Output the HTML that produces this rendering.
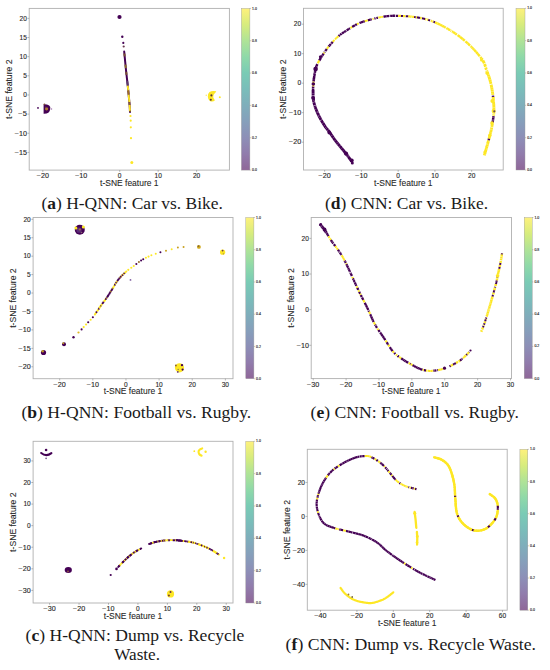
<!DOCTYPE html><html><head><meta charset="utf-8"><title>t-SNE</title><style>
html,body{margin:0;padding:0;background:#fff;width:550px;height:670px;overflow:hidden}
svg{display:block}
.tk{font-family:"Liberation Sans",sans-serif;font-size:6.3px;fill:#2a2a2a;stroke:#2a2a2a;stroke-width:0.12px}
.al{font-family:"Liberation Sans",sans-serif;font-size:8.3px;fill:#262626;stroke:#262626;stroke-width:0.08px}
.ct{font-family:"Liberation Sans",sans-serif;font-size:3.5px;fill:#222;stroke:#222;stroke-width:0.12px}
.cap{font-family:"Liberation Serif",serif;font-size:16.4px;fill:#1a1a1a}
</style></head><body><svg width="550" height="670" viewBox="0 0 550 670">
<defs><linearGradient id="vir" x1="0" y1="1" x2="0" y2="0"><stop offset="0.0" stop-color="#8f6798"/><stop offset="0.1" stop-color="#917cac"/><stop offset="0.2" stop-color="#8d8fb7"/><stop offset="0.3" stop-color="#869fbb"/><stop offset="0.4" stop-color="#7faebb"/><stop offset="0.5" stop-color="#7abdba"/><stop offset="0.6" stop-color="#7acbb5"/><stop offset="0.7" stop-color="#8fd9a9"/><stop offset="0.8" stop-color="#afe397"/><stop offset="0.9" stop-color="#d7ec7d"/><stop offset="1.0" stop-color="#fef17c"/></linearGradient></defs>
<rect width="550" height="670" fill="#fff"/>
<rect x="29.2" y="8.4" width="200.20" height="161.70" fill="none" stroke="#b0b0b0" stroke-width="0.9"/>
<line x1="42.82" y1="170.1" x2="42.82" y2="171.9" stroke="#777" stroke-width="0.5"/>
<text x="42.82" y="178.10" class="tk" text-anchor="middle" textLength="12.20" lengthAdjust="spacingAndGlyphs">−20</text>
<line x1="81.27" y1="170.1" x2="81.27" y2="171.9" stroke="#777" stroke-width="0.5"/>
<text x="81.27" y="178.10" class="tk" text-anchor="middle" textLength="12.20" lengthAdjust="spacingAndGlyphs">−10</text>
<line x1="119.72" y1="170.1" x2="119.72" y2="171.9" stroke="#777" stroke-width="0.5"/>
<text x="119.72" y="178.10" class="tk" text-anchor="middle" textLength="3.66" lengthAdjust="spacingAndGlyphs">0</text>
<line x1="158.17" y1="170.1" x2="158.17" y2="171.9" stroke="#777" stroke-width="0.5"/>
<text x="158.17" y="178.10" class="tk" text-anchor="middle" textLength="7.32" lengthAdjust="spacingAndGlyphs">10</text>
<line x1="196.62" y1="170.1" x2="196.62" y2="171.9" stroke="#777" stroke-width="0.5"/>
<text x="196.62" y="178.10" class="tk" text-anchor="middle" textLength="7.32" lengthAdjust="spacingAndGlyphs">20</text>
<line x1="27.4" y1="18.37" x2="29.2" y2="18.37" stroke="#777" stroke-width="0.5"/>
<text x="26.90" y="20.67" class="tk" text-anchor="end" textLength="7.32" lengthAdjust="spacingAndGlyphs">20</text>
<line x1="27.4" y1="37.52" x2="29.2" y2="37.52" stroke="#777" stroke-width="0.5"/>
<text x="26.90" y="39.82" class="tk" text-anchor="end" textLength="7.32" lengthAdjust="spacingAndGlyphs">15</text>
<line x1="27.4" y1="56.67" x2="29.2" y2="56.67" stroke="#777" stroke-width="0.5"/>
<text x="26.90" y="58.97" class="tk" text-anchor="end" textLength="7.32" lengthAdjust="spacingAndGlyphs">10</text>
<line x1="27.4" y1="75.81" x2="29.2" y2="75.81" stroke="#777" stroke-width="0.5"/>
<text x="26.90" y="78.11" class="tk" text-anchor="end" textLength="3.66" lengthAdjust="spacingAndGlyphs">5</text>
<line x1="27.4" y1="94.96" x2="29.2" y2="94.96" stroke="#777" stroke-width="0.5"/>
<text x="26.90" y="97.26" class="tk" text-anchor="end" textLength="3.66" lengthAdjust="spacingAndGlyphs">0</text>
<line x1="27.4" y1="114.11" x2="29.2" y2="114.11" stroke="#777" stroke-width="0.5"/>
<text x="26.90" y="116.41" class="tk" text-anchor="end" textLength="8.54" lengthAdjust="spacingAndGlyphs">−5</text>
<line x1="27.4" y1="133.25" x2="29.2" y2="133.25" stroke="#777" stroke-width="0.5"/>
<text x="26.90" y="135.55" class="tk" text-anchor="end" textLength="12.20" lengthAdjust="spacingAndGlyphs">−10</text>
<line x1="27.4" y1="152.40" x2="29.2" y2="152.40" stroke="#777" stroke-width="0.5"/>
<text x="26.90" y="154.70" class="tk" text-anchor="end" textLength="12.20" lengthAdjust="spacingAndGlyphs">−15</text>
<text x="129.30" y="185.60" class="al" text-anchor="middle" textLength="58.5" lengthAdjust="spacingAndGlyphs">t-SNE feature 1</text>
<text transform="translate(12.00,89.25) rotate(-90)" x="0" y="0" class="al" text-anchor="middle" textLength="59.5" lengthAdjust="spacingAndGlyphs">t-SNE feature 2</text>
<rect x="241.4" y="8.4" width="8.50" height="161.70" fill="url(#vir)" stroke="#999" stroke-width="0.4"/>
<line x1="249.9" y1="170.10" x2="251.1" y2="170.10" stroke="#555" stroke-width="0.3"/>
<text x="252.10" y="171.20" class="ct">0.0</text>
<line x1="249.9" y1="137.76" x2="251.1" y2="137.76" stroke="#555" stroke-width="0.3"/>
<text x="252.10" y="138.86" class="ct">0.2</text>
<line x1="249.9" y1="105.42" x2="251.1" y2="105.42" stroke="#555" stroke-width="0.3"/>
<text x="252.10" y="106.52" class="ct">0.4</text>
<line x1="249.9" y1="73.08" x2="251.1" y2="73.08" stroke="#555" stroke-width="0.3"/>
<text x="252.10" y="74.18" class="ct">0.6</text>
<line x1="249.9" y1="40.74" x2="251.1" y2="40.74" stroke="#555" stroke-width="0.3"/>
<text x="252.10" y="41.84" class="ct">0.8</text>
<line x1="249.9" y1="8.40" x2="251.1" y2="8.40" stroke="#555" stroke-width="0.3"/>
<text x="252.10" y="9.50" class="ct">1.0</text>
<rect x="303.5" y="8.3" width="199.70" height="161.70" fill="none" stroke="#b0b0b0" stroke-width="0.9"/>
<line x1="324.66" y1="170.0" x2="324.66" y2="171.8" stroke="#777" stroke-width="0.5"/>
<text x="324.66" y="178.00" class="tk" text-anchor="middle" textLength="12.20" lengthAdjust="spacingAndGlyphs">−20</text>
<line x1="361.42" y1="170.0" x2="361.42" y2="171.8" stroke="#777" stroke-width="0.5"/>
<text x="361.42" y="178.00" class="tk" text-anchor="middle" textLength="12.20" lengthAdjust="spacingAndGlyphs">−10</text>
<line x1="398.18" y1="170.0" x2="398.18" y2="171.8" stroke="#777" stroke-width="0.5"/>
<text x="398.18" y="178.00" class="tk" text-anchor="middle" textLength="3.66" lengthAdjust="spacingAndGlyphs">0</text>
<line x1="434.94" y1="170.0" x2="434.94" y2="171.8" stroke="#777" stroke-width="0.5"/>
<text x="434.94" y="178.00" class="tk" text-anchor="middle" textLength="7.32" lengthAdjust="spacingAndGlyphs">10</text>
<line x1="471.70" y1="170.0" x2="471.70" y2="171.8" stroke="#777" stroke-width="0.5"/>
<text x="471.70" y="178.00" class="tk" text-anchor="middle" textLength="7.32" lengthAdjust="spacingAndGlyphs">20</text>
<line x1="301.7" y1="24.18" x2="303.5" y2="24.18" stroke="#777" stroke-width="0.5"/>
<text x="301.20" y="26.48" class="tk" text-anchor="end" textLength="7.32" lengthAdjust="spacingAndGlyphs">20</text>
<line x1="301.7" y1="53.68" x2="303.5" y2="53.68" stroke="#777" stroke-width="0.5"/>
<text x="301.20" y="55.98" class="tk" text-anchor="end" textLength="7.32" lengthAdjust="spacingAndGlyphs">10</text>
<line x1="301.7" y1="83.18" x2="303.5" y2="83.18" stroke="#777" stroke-width="0.5"/>
<text x="301.20" y="85.48" class="tk" text-anchor="end" textLength="3.66" lengthAdjust="spacingAndGlyphs">0</text>
<line x1="301.7" y1="112.68" x2="303.5" y2="112.68" stroke="#777" stroke-width="0.5"/>
<text x="301.20" y="114.98" class="tk" text-anchor="end" textLength="12.20" lengthAdjust="spacingAndGlyphs">−10</text>
<line x1="301.7" y1="142.18" x2="303.5" y2="142.18" stroke="#777" stroke-width="0.5"/>
<text x="301.20" y="144.48" class="tk" text-anchor="end" textLength="12.20" lengthAdjust="spacingAndGlyphs">−20</text>
<text x="403.35" y="185.50" class="al" text-anchor="middle" textLength="58.5" lengthAdjust="spacingAndGlyphs">t-SNE feature 1</text>
<text transform="translate(286.30,89.15) rotate(-90)" x="0" y="0" class="al" text-anchor="middle" textLength="59.5" lengthAdjust="spacingAndGlyphs">t-SNE feature 2</text>
<rect x="516.0" y="8.3" width="9.00" height="161.70" fill="url(#vir)" stroke="#999" stroke-width="0.4"/>
<line x1="525.0" y1="170.00" x2="526.2" y2="170.00" stroke="#555" stroke-width="0.3"/>
<text x="527.20" y="171.10" class="ct">0.0</text>
<line x1="525.0" y1="137.66" x2="526.2" y2="137.66" stroke="#555" stroke-width="0.3"/>
<text x="527.20" y="138.76" class="ct">0.2</text>
<line x1="525.0" y1="105.32" x2="526.2" y2="105.32" stroke="#555" stroke-width="0.3"/>
<text x="527.20" y="106.42" class="ct">0.4</text>
<line x1="525.0" y1="72.98" x2="526.2" y2="72.98" stroke="#555" stroke-width="0.3"/>
<text x="527.20" y="74.08" class="ct">0.6</text>
<line x1="525.0" y1="40.64" x2="526.2" y2="40.64" stroke="#555" stroke-width="0.3"/>
<text x="527.20" y="41.74" class="ct">0.8</text>
<line x1="525.0" y1="8.30" x2="526.2" y2="8.30" stroke="#555" stroke-width="0.3"/>
<text x="527.20" y="9.40" class="ct">1.0</text>
<rect x="33.1" y="217.5" width="199.90" height="161.20" fill="none" stroke="#b0b0b0" stroke-width="0.9"/>
<line x1="59.70" y1="378.7" x2="59.70" y2="380.5" stroke="#777" stroke-width="0.5"/>
<text x="59.70" y="386.70" class="tk" text-anchor="middle" textLength="12.20" lengthAdjust="spacingAndGlyphs">−20</text>
<line x1="92.84" y1="378.7" x2="92.84" y2="380.5" stroke="#777" stroke-width="0.5"/>
<text x="92.84" y="386.70" class="tk" text-anchor="middle" textLength="12.20" lengthAdjust="spacingAndGlyphs">−10</text>
<line x1="125.97" y1="378.7" x2="125.97" y2="380.5" stroke="#777" stroke-width="0.5"/>
<text x="125.97" y="386.70" class="tk" text-anchor="middle" textLength="3.66" lengthAdjust="spacingAndGlyphs">0</text>
<line x1="159.10" y1="378.7" x2="159.10" y2="380.5" stroke="#777" stroke-width="0.5"/>
<text x="159.10" y="386.70" class="tk" text-anchor="middle" textLength="7.32" lengthAdjust="spacingAndGlyphs">10</text>
<line x1="192.23" y1="378.7" x2="192.23" y2="380.5" stroke="#777" stroke-width="0.5"/>
<text x="192.23" y="386.70" class="tk" text-anchor="middle" textLength="7.32" lengthAdjust="spacingAndGlyphs">20</text>
<line x1="225.36" y1="378.7" x2="225.36" y2="380.5" stroke="#777" stroke-width="0.5"/>
<text x="225.36" y="386.70" class="tk" text-anchor="middle" textLength="7.32" lengthAdjust="spacingAndGlyphs">30</text>
<line x1="31.3" y1="219.30" x2="33.1" y2="219.30" stroke="#777" stroke-width="0.5"/>
<text x="30.80" y="221.60" class="tk" text-anchor="end" textLength="7.32" lengthAdjust="spacingAndGlyphs">20</text>
<line x1="31.3" y1="237.74" x2="33.1" y2="237.74" stroke="#777" stroke-width="0.5"/>
<text x="30.80" y="240.04" class="tk" text-anchor="end" textLength="7.32" lengthAdjust="spacingAndGlyphs">15</text>
<line x1="31.3" y1="256.17" x2="33.1" y2="256.17" stroke="#777" stroke-width="0.5"/>
<text x="30.80" y="258.47" class="tk" text-anchor="end" textLength="7.32" lengthAdjust="spacingAndGlyphs">10</text>
<line x1="31.3" y1="274.61" x2="33.1" y2="274.61" stroke="#777" stroke-width="0.5"/>
<text x="30.80" y="276.91" class="tk" text-anchor="end" textLength="3.66" lengthAdjust="spacingAndGlyphs">5</text>
<line x1="31.3" y1="293.04" x2="33.1" y2="293.04" stroke="#777" stroke-width="0.5"/>
<text x="30.80" y="295.34" class="tk" text-anchor="end" textLength="3.66" lengthAdjust="spacingAndGlyphs">0</text>
<line x1="31.3" y1="311.48" x2="33.1" y2="311.48" stroke="#777" stroke-width="0.5"/>
<text x="30.80" y="313.78" class="tk" text-anchor="end" textLength="8.54" lengthAdjust="spacingAndGlyphs">−5</text>
<line x1="31.3" y1="329.91" x2="33.1" y2="329.91" stroke="#777" stroke-width="0.5"/>
<text x="30.80" y="332.21" class="tk" text-anchor="end" textLength="12.20" lengthAdjust="spacingAndGlyphs">−10</text>
<line x1="31.3" y1="348.35" x2="33.1" y2="348.35" stroke="#777" stroke-width="0.5"/>
<text x="30.80" y="350.65" class="tk" text-anchor="end" textLength="12.20" lengthAdjust="spacingAndGlyphs">−15</text>
<line x1="31.3" y1="366.78" x2="33.1" y2="366.78" stroke="#777" stroke-width="0.5"/>
<text x="30.80" y="369.08" class="tk" text-anchor="end" textLength="12.20" lengthAdjust="spacingAndGlyphs">−20</text>
<text x="133.05" y="394.20" class="al" text-anchor="middle" textLength="58.5" lengthAdjust="spacingAndGlyphs">t-SNE feature 1</text>
<text transform="translate(15.90,298.10) rotate(-90)" x="0" y="0" class="al" text-anchor="middle" textLength="59.5" lengthAdjust="spacingAndGlyphs">t-SNE feature 2</text>
<rect x="245.8" y="217.5" width="8.10" height="161.20" fill="url(#vir)" stroke="#999" stroke-width="0.4"/>
<line x1="253.9" y1="378.70" x2="255.1" y2="378.70" stroke="#555" stroke-width="0.3"/>
<text x="256.10" y="379.80" class="ct">0.0</text>
<line x1="253.9" y1="346.46" x2="255.1" y2="346.46" stroke="#555" stroke-width="0.3"/>
<text x="256.10" y="347.56" class="ct">0.2</text>
<line x1="253.9" y1="314.22" x2="255.1" y2="314.22" stroke="#555" stroke-width="0.3"/>
<text x="256.10" y="315.32" class="ct">0.4</text>
<line x1="253.9" y1="281.98" x2="255.1" y2="281.98" stroke="#555" stroke-width="0.3"/>
<text x="256.10" y="283.08" class="ct">0.6</text>
<line x1="253.9" y1="249.74" x2="255.1" y2="249.74" stroke="#555" stroke-width="0.3"/>
<text x="256.10" y="250.84" class="ct">0.8</text>
<line x1="253.9" y1="217.50" x2="255.1" y2="217.50" stroke="#555" stroke-width="0.3"/>
<text x="256.10" y="218.60" class="ct">1.0</text>
<rect x="311.2" y="217.5" width="200.30" height="161.10" fill="none" stroke="#b0b0b0" stroke-width="0.9"/>
<line x1="313.23" y1="378.6" x2="313.23" y2="380.40000000000003" stroke="#777" stroke-width="0.5"/>
<text x="313.23" y="386.60" class="tk" text-anchor="middle" textLength="12.20" lengthAdjust="spacingAndGlyphs">−30</text>
<line x1="346.11" y1="378.6" x2="346.11" y2="380.40000000000003" stroke="#777" stroke-width="0.5"/>
<text x="346.11" y="386.60" class="tk" text-anchor="middle" textLength="12.20" lengthAdjust="spacingAndGlyphs">−20</text>
<line x1="378.99" y1="378.6" x2="378.99" y2="380.40000000000003" stroke="#777" stroke-width="0.5"/>
<text x="378.99" y="386.60" class="tk" text-anchor="middle" textLength="12.20" lengthAdjust="spacingAndGlyphs">−10</text>
<line x1="411.87" y1="378.6" x2="411.87" y2="380.40000000000003" stroke="#777" stroke-width="0.5"/>
<text x="411.87" y="386.60" class="tk" text-anchor="middle" textLength="3.66" lengthAdjust="spacingAndGlyphs">0</text>
<line x1="444.75" y1="378.6" x2="444.75" y2="380.40000000000003" stroke="#777" stroke-width="0.5"/>
<text x="444.75" y="386.60" class="tk" text-anchor="middle" textLength="7.32" lengthAdjust="spacingAndGlyphs">10</text>
<line x1="477.64" y1="378.6" x2="477.64" y2="380.40000000000003" stroke="#777" stroke-width="0.5"/>
<text x="477.64" y="386.60" class="tk" text-anchor="middle" textLength="7.32" lengthAdjust="spacingAndGlyphs">20</text>
<line x1="510.52" y1="378.6" x2="510.52" y2="380.40000000000003" stroke="#777" stroke-width="0.5"/>
<text x="510.52" y="386.60" class="tk" text-anchor="middle" textLength="7.32" lengthAdjust="spacingAndGlyphs">30</text>
<line x1="309.4" y1="238.39" x2="311.2" y2="238.39" stroke="#777" stroke-width="0.5"/>
<text x="308.90" y="240.69" class="tk" text-anchor="end" textLength="7.32" lengthAdjust="spacingAndGlyphs">20</text>
<line x1="309.4" y1="274.03" x2="311.2" y2="274.03" stroke="#777" stroke-width="0.5"/>
<text x="308.90" y="276.33" class="tk" text-anchor="end" textLength="7.32" lengthAdjust="spacingAndGlyphs">10</text>
<line x1="309.4" y1="309.67" x2="311.2" y2="309.67" stroke="#777" stroke-width="0.5"/>
<text x="308.90" y="311.97" class="tk" text-anchor="end" textLength="3.66" lengthAdjust="spacingAndGlyphs">0</text>
<line x1="309.4" y1="345.31" x2="311.2" y2="345.31" stroke="#777" stroke-width="0.5"/>
<text x="308.90" y="347.61" class="tk" text-anchor="end" textLength="12.20" lengthAdjust="spacingAndGlyphs">−10</text>
<text x="411.35" y="394.10" class="al" text-anchor="middle" textLength="58.5" lengthAdjust="spacingAndGlyphs">t-SNE feature 1</text>
<text transform="translate(294.00,298.05) rotate(-90)" x="0" y="0" class="al" text-anchor="middle" textLength="59.5" lengthAdjust="spacingAndGlyphs">t-SNE feature 2</text>
<rect x="524.2" y="217.5" width="8.00" height="161.10" fill="url(#vir)" stroke="#999" stroke-width="0.4"/>
<line x1="532.2" y1="378.60" x2="533.4000000000001" y2="378.60" stroke="#555" stroke-width="0.3"/>
<text x="534.40" y="379.70" class="ct">0.0</text>
<line x1="532.2" y1="346.38" x2="533.4000000000001" y2="346.38" stroke="#555" stroke-width="0.3"/>
<text x="534.40" y="347.48" class="ct">0.2</text>
<line x1="532.2" y1="314.16" x2="533.4000000000001" y2="314.16" stroke="#555" stroke-width="0.3"/>
<text x="534.40" y="315.26" class="ct">0.4</text>
<line x1="532.2" y1="281.94" x2="533.4000000000001" y2="281.94" stroke="#555" stroke-width="0.3"/>
<text x="534.40" y="283.04" class="ct">0.6</text>
<line x1="532.2" y1="249.72" x2="533.4000000000001" y2="249.72" stroke="#555" stroke-width="0.3"/>
<text x="534.40" y="250.82" class="ct">0.8</text>
<line x1="532.2" y1="217.50" x2="533.4000000000001" y2="217.50" stroke="#555" stroke-width="0.3"/>
<text x="534.40" y="218.60" class="ct">1.0</text>
<rect x="33.1" y="441.3" width="199.90" height="161.70" fill="none" stroke="#b0b0b0" stroke-width="0.9"/>
<line x1="49.62" y1="603.0" x2="49.62" y2="604.8" stroke="#777" stroke-width="0.5"/>
<text x="49.62" y="611.00" class="tk" text-anchor="middle" textLength="12.20" lengthAdjust="spacingAndGlyphs">−30</text>
<line x1="79.06" y1="603.0" x2="79.06" y2="604.8" stroke="#777" stroke-width="0.5"/>
<text x="79.06" y="611.00" class="tk" text-anchor="middle" textLength="12.20" lengthAdjust="spacingAndGlyphs">−20</text>
<line x1="108.49" y1="603.0" x2="108.49" y2="604.8" stroke="#777" stroke-width="0.5"/>
<text x="108.49" y="611.00" class="tk" text-anchor="middle" textLength="12.20" lengthAdjust="spacingAndGlyphs">−10</text>
<line x1="137.93" y1="603.0" x2="137.93" y2="604.8" stroke="#777" stroke-width="0.5"/>
<text x="137.93" y="611.00" class="tk" text-anchor="middle" textLength="3.66" lengthAdjust="spacingAndGlyphs">0</text>
<line x1="167.36" y1="603.0" x2="167.36" y2="604.8" stroke="#777" stroke-width="0.5"/>
<text x="167.36" y="611.00" class="tk" text-anchor="middle" textLength="7.32" lengthAdjust="spacingAndGlyphs">10</text>
<line x1="196.80" y1="603.0" x2="196.80" y2="604.8" stroke="#777" stroke-width="0.5"/>
<text x="196.80" y="611.00" class="tk" text-anchor="middle" textLength="7.32" lengthAdjust="spacingAndGlyphs">20</text>
<line x1="226.24" y1="603.0" x2="226.24" y2="604.8" stroke="#777" stroke-width="0.5"/>
<text x="226.24" y="611.00" class="tk" text-anchor="middle" textLength="7.32" lengthAdjust="spacingAndGlyphs">30</text>
<line x1="31.3" y1="460.93" x2="33.1" y2="460.93" stroke="#777" stroke-width="0.5"/>
<text x="30.80" y="463.23" class="tk" text-anchor="end" textLength="7.32" lengthAdjust="spacingAndGlyphs">30</text>
<line x1="31.3" y1="482.51" x2="33.1" y2="482.51" stroke="#777" stroke-width="0.5"/>
<text x="30.80" y="484.81" class="tk" text-anchor="end" textLength="7.32" lengthAdjust="spacingAndGlyphs">20</text>
<line x1="31.3" y1="504.08" x2="33.1" y2="504.08" stroke="#777" stroke-width="0.5"/>
<text x="30.80" y="506.38" class="tk" text-anchor="end" textLength="7.32" lengthAdjust="spacingAndGlyphs">10</text>
<line x1="31.3" y1="525.66" x2="33.1" y2="525.66" stroke="#777" stroke-width="0.5"/>
<text x="30.80" y="527.96" class="tk" text-anchor="end" textLength="3.66" lengthAdjust="spacingAndGlyphs">0</text>
<line x1="31.3" y1="547.23" x2="33.1" y2="547.23" stroke="#777" stroke-width="0.5"/>
<text x="30.80" y="549.53" class="tk" text-anchor="end" textLength="12.20" lengthAdjust="spacingAndGlyphs">−10</text>
<line x1="31.3" y1="568.81" x2="33.1" y2="568.81" stroke="#777" stroke-width="0.5"/>
<text x="30.80" y="571.11" class="tk" text-anchor="end" textLength="12.20" lengthAdjust="spacingAndGlyphs">−20</text>
<line x1="31.3" y1="590.38" x2="33.1" y2="590.38" stroke="#777" stroke-width="0.5"/>
<text x="30.80" y="592.68" class="tk" text-anchor="end" textLength="12.20" lengthAdjust="spacingAndGlyphs">−30</text>
<text x="133.05" y="618.50" class="al" text-anchor="middle" textLength="58.5" lengthAdjust="spacingAndGlyphs">t-SNE feature 1</text>
<text transform="translate(15.90,522.15) rotate(-90)" x="0" y="0" class="al" text-anchor="middle" textLength="59.5" lengthAdjust="spacingAndGlyphs">t-SNE feature 2</text>
<rect x="245.8" y="441.3" width="8.10" height="161.70" fill="url(#vir)" stroke="#999" stroke-width="0.4"/>
<line x1="253.9" y1="603.00" x2="255.1" y2="603.00" stroke="#555" stroke-width="0.3"/>
<text x="256.10" y="604.10" class="ct">0.0</text>
<line x1="253.9" y1="570.66" x2="255.1" y2="570.66" stroke="#555" stroke-width="0.3"/>
<text x="256.10" y="571.76" class="ct">0.2</text>
<line x1="253.9" y1="538.32" x2="255.1" y2="538.32" stroke="#555" stroke-width="0.3"/>
<text x="256.10" y="539.42" class="ct">0.4</text>
<line x1="253.9" y1="505.98" x2="255.1" y2="505.98" stroke="#555" stroke-width="0.3"/>
<text x="256.10" y="507.08" class="ct">0.6</text>
<line x1="253.9" y1="473.64" x2="255.1" y2="473.64" stroke="#555" stroke-width="0.3"/>
<text x="256.10" y="474.74" class="ct">0.8</text>
<line x1="253.9" y1="441.30" x2="255.1" y2="441.30" stroke="#555" stroke-width="0.3"/>
<text x="256.10" y="442.40" class="ct">1.0</text>
<rect x="307.3" y="449.3" width="199.90" height="160.90" fill="none" stroke="#b0b0b0" stroke-width="0.9"/>
<line x1="320.53" y1="610.2" x2="320.53" y2="612.0" stroke="#777" stroke-width="0.5"/>
<text x="320.53" y="618.20" class="tk" text-anchor="middle" textLength="12.20" lengthAdjust="spacingAndGlyphs">−40</text>
<line x1="356.92" y1="610.2" x2="356.92" y2="612.0" stroke="#777" stroke-width="0.5"/>
<text x="356.92" y="618.20" class="tk" text-anchor="middle" textLength="12.20" lengthAdjust="spacingAndGlyphs">−20</text>
<line x1="393.31" y1="610.2" x2="393.31" y2="612.0" stroke="#777" stroke-width="0.5"/>
<text x="393.31" y="618.20" class="tk" text-anchor="middle" textLength="3.66" lengthAdjust="spacingAndGlyphs">0</text>
<line x1="429.69" y1="610.2" x2="429.69" y2="612.0" stroke="#777" stroke-width="0.5"/>
<text x="429.69" y="618.20" class="tk" text-anchor="middle" textLength="7.32" lengthAdjust="spacingAndGlyphs">20</text>
<line x1="466.08" y1="610.2" x2="466.08" y2="612.0" stroke="#777" stroke-width="0.5"/>
<text x="466.08" y="618.20" class="tk" text-anchor="middle" textLength="7.32" lengthAdjust="spacingAndGlyphs">40</text>
<line x1="502.47" y1="610.2" x2="502.47" y2="612.0" stroke="#777" stroke-width="0.5"/>
<text x="502.47" y="618.20" class="tk" text-anchor="middle" textLength="7.32" lengthAdjust="spacingAndGlyphs">60</text>
<line x1="305.5" y1="482.46" x2="307.3" y2="482.46" stroke="#777" stroke-width="0.5"/>
<text x="305.00" y="484.76" class="tk" text-anchor="end" textLength="7.32" lengthAdjust="spacingAndGlyphs">20</text>
<line x1="305.5" y1="516.42" x2="307.3" y2="516.42" stroke="#777" stroke-width="0.5"/>
<text x="305.00" y="518.72" class="tk" text-anchor="end" textLength="3.66" lengthAdjust="spacingAndGlyphs">0</text>
<line x1="305.5" y1="550.38" x2="307.3" y2="550.38" stroke="#777" stroke-width="0.5"/>
<text x="305.00" y="552.68" class="tk" text-anchor="end" textLength="12.20" lengthAdjust="spacingAndGlyphs">−20</text>
<line x1="305.5" y1="584.34" x2="307.3" y2="584.34" stroke="#777" stroke-width="0.5"/>
<text x="305.00" y="586.64" class="tk" text-anchor="end" textLength="12.20" lengthAdjust="spacingAndGlyphs">−40</text>
<text x="407.25" y="625.70" class="al" text-anchor="middle" textLength="58.5" lengthAdjust="spacingAndGlyphs">t-SNE feature 1</text>
<text transform="translate(290.10,529.75) rotate(-90)" x="0" y="0" class="al" text-anchor="middle" textLength="59.5" lengthAdjust="spacingAndGlyphs">t-SNE feature 2</text>
<rect x="519.9" y="449.3" width="7.90" height="160.90" fill="url(#vir)" stroke="#999" stroke-width="0.4"/>
<line x1="527.8" y1="610.20" x2="529.0" y2="610.20" stroke="#555" stroke-width="0.3"/>
<text x="530.00" y="611.30" class="ct">0.0</text>
<line x1="527.8" y1="578.02" x2="529.0" y2="578.02" stroke="#555" stroke-width="0.3"/>
<text x="530.00" y="579.12" class="ct">0.2</text>
<line x1="527.8" y1="545.84" x2="529.0" y2="545.84" stroke="#555" stroke-width="0.3"/>
<text x="530.00" y="546.94" class="ct">0.4</text>
<line x1="527.8" y1="513.66" x2="529.0" y2="513.66" stroke="#555" stroke-width="0.3"/>
<text x="530.00" y="514.76" class="ct">0.6</text>
<line x1="527.8" y1="481.48" x2="529.0" y2="481.48" stroke="#555" stroke-width="0.3"/>
<text x="530.00" y="482.58" class="ct">0.8</text>
<line x1="527.8" y1="449.30" x2="529.0" y2="449.30" stroke="#555" stroke-width="0.3"/>
<text x="530.00" y="450.40" class="ct">1.0</text>
<circle cx="119.50" cy="17.00" r="2.10" fill="#440154"/>
<circle cx="122.30" cy="36.80" r="1.20" fill="#440154"/>
<circle cx="123.30" cy="42.90" r="1.10" fill="#440154"/>
<circle cx="123.70" cy="46.50" r="1.10" fill="#6a3a50"/>
<path d="M124.20,51.50 L124.23,51.83 L124.27,52.20 L124.31,52.60 L124.35,53.04 L124.39,53.52 L124.44,54.02 L124.49,54.56 L124.55,55.12 L124.60,55.71 L124.66,56.31 L124.72,56.94 L124.78,57.59 L124.84,58.26 L124.91,58.93 L124.98,59.62 L125.04,60.33 L125.11,61.03 L125.18,61.75 L125.25,62.47 L125.32,63.19 L125.39,63.90 L125.46,64.62 L125.53,65.33 L125.60,66.04 L125.67,66.73 L125.74,67.42 L125.80,68.09 L125.87,68.74 L125.94,69.38 L126.00,70.00 L126.06,70.61 L126.13,71.22 L126.19,71.82 L126.26,72.43 L126.33,73.04 L126.39,73.65 L126.46,74.26 L126.53,74.86 L126.60,75.47 L126.67,76.07 L126.74,76.68 L126.80,77.28 L126.87,77.89 L126.94,78.49 L127.01,79.09 L127.08,79.70 L127.15,80.30 L127.22,80.90 L127.29,81.49 L127.36,82.09 L127.42,82.69 L127.49,83.28 L127.56,83.88 L127.62,84.47 L127.69,85.06 L127.75,85.65 L127.82,86.24 L127.88,86.83 L127.94,87.42 L128.00,88.00 L128.06,88.63 L128.13,89.27 L128.19,89.92 L128.26,90.57 L128.33,91.23 L128.39,91.89 L128.46,92.55 L128.52,93.22 L128.59,93.89 L128.65,94.56 L128.71,95.22 L128.78,95.88 L128.84,96.54 L128.90,97.19 L128.96,97.83 L129.02,98.47 L129.08,99.09 L129.13,99.71 L129.19,100.31 L129.24,100.90 L129.29,101.48 L129.34,102.04 L129.39,102.58 L129.44,103.10 L129.48,103.61 L129.52,104.10 L129.56,104.56 L129.60,105.00 L129.68,106.04 L129.75,106.98 L129.81,107.82 L129.85,108.58 L129.89,109.25 L129.91,109.85 L129.93,110.39 L129.95,110.87 L129.97,111.29 L129.98,111.66 L130.00,112.00" fill="none" stroke="#440154" stroke-width="2.0" stroke-linecap="round"/>
<path d="M124.39,53.52 L124.44,54.02 L124.49,54.56 L124.55,55.12 L124.60,55.71 L124.66,56.31" fill="none" stroke="#7a5030" stroke-width="1.9" stroke-linecap="butt"/>
<path d="M125.46,64.62 L125.53,65.33 L125.60,66.04 L125.67,66.73 L125.74,67.42 L125.80,68.09" fill="none" stroke="#8a6a2a" stroke-width="1.9" stroke-linecap="butt"/>
<path d="M126.19,71.82 L126.26,72.43 L126.33,73.04 L126.39,73.65 L126.46,74.26 L126.53,74.86" fill="none" stroke="#7a5030" stroke-width="1.9" stroke-linecap="butt"/>
<path d="M127.22,80.90 L127.29,81.49 L127.36,82.09 L127.42,82.69 L127.49,83.28 L127.56,83.88 L127.62,84.47 L127.69,85.06 L127.75,85.65" fill="none" stroke="#5a3a6a" stroke-width="1.9" stroke-linecap="butt"/>
<path d="M127.75,85.65 L127.82,86.24 L127.88,86.83 L127.94,87.42 L128.00,88.00 L128.06,88.63 L128.13,89.27 L128.19,89.92 L128.26,90.57" fill="none" stroke="#fde725" stroke-width="1.9" stroke-linecap="butt"/>
<path d="M128.26,90.57 L128.33,91.23 L128.39,91.89 L128.46,92.55 L128.52,93.22 L128.59,93.89 L128.65,94.56" fill="none" stroke="#a07020" stroke-width="1.9" stroke-linecap="butt"/>
<path d="M128.65,94.56 L128.71,95.22 L128.78,95.88 L128.84,96.54 L128.90,97.19 L128.96,97.83 L129.02,98.47 L129.08,99.09 L129.13,99.71 L129.19,100.31 L129.24,100.90 L129.29,101.48 L129.34,102.04" fill="none" stroke="#fde725" stroke-width="1.9" stroke-linecap="butt"/>
<path d="M129.34,102.04 L129.39,102.58 L129.44,103.10 L129.48,103.61 L129.52,104.10 L129.56,104.56 L129.60,105.00" fill="none" stroke="#8a6030" stroke-width="1.9" stroke-linecap="butt"/>
<path d="M129.60,105.00 L129.68,106.04 L129.75,106.98 L129.81,107.82 L129.85,108.58 L129.89,109.25 L129.91,109.85 L129.93,110.39 L129.95,110.87" fill="none" stroke="#fde725" stroke-width="1.9" stroke-linecap="butt"/>
<path d="M129.95,110.87 L129.97,111.29 L129.98,111.66 L130.00,112.00" fill="none" stroke="#7a5030" stroke-width="1.9" stroke-linecap="butt"/>
<circle cx="130.50" cy="116.00" r="1.10" fill="#fde725"/>
<circle cx="130.70" cy="120.70" r="1.10" fill="#fde725"/>
<circle cx="130.80" cy="127.30" r="1.10" fill="#fde725"/>
<circle cx="131.00" cy="138.20" r="1.10" fill="#fde725"/>
<circle cx="131.80" cy="162.50" r="1.50" fill="#fde725"/>
<circle cx="38.00" cy="107.90" r="0.90" fill="#440154"/>
<path d="M43.6,104.2 Q51.5,104.2 50.2,109.3 Q49.5,114 43.6,113.8 Z" fill="#440154"/>
<circle cx="46.60" cy="108.80" r="1.60" fill="#b07a30"/>
<circle cx="45.80" cy="107.20" r="0.80" fill="#6a3a50"/>
<circle cx="51.50" cy="109.00" r="0.75" fill="#a070b0"/>
<circle cx="44.50" cy="104.30" r="0.90" fill="#7a4a3a"/>
<path d="M216.3,91.3 Q212,90.6 209.5,91.9 Q207.6,93.5 207.8,96.8 Q208.3,100.6 210.8,101.4 Q213.5,101.8 214.8,100.6 Q214.3,98.8 213.4,98.0 Q213.0,95.8 213.9,94.2 Q215.6,93.0 216.3,91.3 Z" fill="#fde725"/>
<circle cx="206.30" cy="95.20" r="0.80" fill="#fde870"/>
<circle cx="211.40" cy="95.40" r="1.05" fill="#5a3a3a"/>
<circle cx="210.80" cy="99.70" r="1.05" fill="#5a3a3a"/>
<circle cx="219.80" cy="97.30" r="1.00" fill="#fde725"/>
<path d="M351.70,161.50 L351.47,161.17 L351.24,160.85 L351.01,160.52" fill="none" stroke="#440154" stroke-width="2.88" stroke-linecap="butt" stroke-linejoin="round"/>
<path d="M351.01,160.52 L350.78,160.19 L350.56,159.86 L350.33,159.53" fill="none" stroke="#440154" stroke-width="2.88" stroke-linecap="butt" stroke-linejoin="round"/>
<path d="M350.33,159.53 L350.10,159.20 L349.87,158.87 L349.64,158.55 L349.41,158.22 L349.18,157.89 L348.95,157.57 L348.72,157.24 L348.48,156.92" fill="none" stroke="#440154" stroke-width="2.88" stroke-linecap="butt" stroke-linejoin="round"/>
<path d="M348.48,156.92 L348.25,156.59 L348.01,156.27 L347.78,155.95" fill="none" stroke="#440154" stroke-width="2.88" stroke-linecap="butt" stroke-linejoin="round"/>
<path d="M347.78,155.95 L347.54,155.62 L347.30,155.30 L347.06,154.98" fill="none" stroke="#440154" stroke-width="2.88" stroke-linecap="butt" stroke-linejoin="round"/>
<path d="M347.06,154.98 L346.82,154.66 L346.58,154.35 L346.33,154.03 L346.09,153.71 L345.84,153.40 L345.59,153.08 L345.34,152.77 L345.09,152.46" fill="none" stroke="#440154" stroke-width="2.88" stroke-linecap="butt" stroke-linejoin="round"/>
<path d="M345.09,152.46 L344.84,152.15 L344.59,151.84 L344.34,151.53 L344.08,151.22 L343.83,150.91 L343.58,150.60 L343.32,150.29" fill="none" stroke="#440154" stroke-width="2.88" stroke-linecap="butt" stroke-linejoin="round"/>
<path d="M343.32,150.29 L343.07,149.98 L342.81,149.67 L342.56,149.37 L342.30,149.06 L342.05,148.75 L341.79,148.44" fill="none" stroke="#440154" stroke-width="2.88" stroke-linecap="butt" stroke-linejoin="round"/>
<path d="M341.79,148.44 L341.53,148.14 L341.28,147.83 L341.02,147.52 L340.77,147.21 L340.51,146.91 L340.25,146.60 L340.00,146.29 L339.74,145.98" fill="none" stroke="#440154" stroke-width="2.88" stroke-linecap="butt" stroke-linejoin="round"/>
<path d="M339.74,145.98 L339.49,145.68 L339.23,145.37 L338.98,145.06 L338.72,144.75 L338.47,144.44 L338.21,144.14" fill="none" stroke="#440154" stroke-width="2.88" stroke-linecap="butt" stroke-linejoin="round"/>
<path d="M338.21,144.14 L337.96,143.83 L337.71,143.52 L337.45,143.21 L337.20,142.90 L336.95,142.59" fill="none" stroke="#440154" stroke-width="2.88" stroke-linecap="butt" stroke-linejoin="round"/>
<path d="M336.95,142.59 L336.70,142.27 L336.45,141.96 L336.20,141.65 L335.95,141.34 L335.70,141.02 L335.46,140.70 L335.21,140.39" fill="none" stroke="#440154" stroke-width="2.88" stroke-linecap="butt" stroke-linejoin="round"/>
<path d="M335.21,140.39 L334.97,140.07 L334.73,139.75 L334.49,139.43 L334.26,139.10 L334.03,138.78 L333.79,138.45 L333.56,138.13 L333.34,137.80" fill="none" stroke="#440154" stroke-width="2.88" stroke-linecap="butt" stroke-linejoin="round"/>
<path d="M333.34,137.80 L333.11,137.47 L332.89,137.14 L332.66,136.80 L332.44,136.47 L332.22,136.14 L332.00,135.80 L331.79,135.46" fill="none" stroke="#440154" stroke-width="2.88" stroke-linecap="butt" stroke-linejoin="round"/>
<path d="M331.79,135.46 L331.57,135.13 L331.35,134.79 L331.13,134.46 L330.92,134.12 L330.70,133.79 L330.47,133.46" fill="none" stroke="#440154" stroke-width="2.88" stroke-linecap="butt" stroke-linejoin="round"/>
<path d="M330.47,133.46 L330.25,133.13 L330.02,132.80 L329.79,132.47 L329.56,132.14" fill="none" stroke="#440154" stroke-width="2.88" stroke-linecap="butt" stroke-linejoin="round"/>
<path d="M329.32,131.82 L329.08,131.50 L328.83,131.19 L328.59,130.87 L328.33,130.56 L328.08,130.25 L327.82,129.95" fill="none" stroke="#440154" stroke-width="2.88" stroke-linecap="butt" stroke-linejoin="round"/>
<path d="M327.82,129.95 L327.56,129.64 L327.31,129.34 L327.05,129.03 L326.80,128.72 L326.54,128.41" fill="none" stroke="#440154" stroke-width="2.88" stroke-linecap="butt" stroke-linejoin="round"/>
<path d="M326.54,128.41 L326.29,128.10 L326.05,127.78 L325.81,127.46" fill="none" stroke="#440154" stroke-width="2.88" stroke-linecap="butt" stroke-linejoin="round"/>
<path d="M325.81,127.46 L325.57,127.14 L325.34,126.81 L325.12,126.48 L324.89,126.15 L324.67,125.81 L324.46,125.48" fill="none" stroke="#440154" stroke-width="2.88" stroke-linecap="butt" stroke-linejoin="round"/>
<path d="M324.46,125.48 L324.24,125.14 L324.03,124.80 L323.82,124.46 L323.61,124.12 L323.39,123.78 L323.18,123.44 L322.97,123.10" fill="none" stroke="#440154" stroke-width="2.88" stroke-linecap="butt" stroke-linejoin="round"/>
<path d="M322.97,123.10 L322.77,122.76 L322.56,122.42 L322.35,122.08 L322.15,121.73 L321.94,121.39 L321.74,121.05 L321.54,120.70 L321.33,120.36" fill="none" stroke="#440154" stroke-width="2.88" stroke-linecap="butt" stroke-linejoin="round"/>
<path d="M321.14,120.01 L320.94,119.66 L320.74,119.31 L320.54,118.96 L320.35,118.62 L320.16,118.26 L319.97,117.91 L319.78,117.56" fill="none" stroke="#440154" stroke-width="2.88" stroke-linecap="butt" stroke-linejoin="round"/>
<path d="M319.78,117.56 L319.59,117.21 L319.40,116.85 L319.22,116.50 L319.04,116.14" fill="none" stroke="#440154" stroke-width="2.88" stroke-linecap="butt" stroke-linejoin="round"/>
<path d="M319.04,116.14 L318.86,115.78 L318.68,115.43" fill="none" stroke="#440154" stroke-width="2.88" stroke-linecap="butt" stroke-linejoin="round"/>
<path d="M318.68,115.43 L318.51,115.07 L318.33,114.70 L318.17,114.34 L318.00,113.98 L317.84,113.61 L317.67,113.25 L317.51,112.88 L317.36,112.51" fill="none" stroke="#440154" stroke-width="2.88" stroke-linecap="butt" stroke-linejoin="round"/>
<path d="M317.36,112.51 L317.20,112.15 L317.04,111.78" fill="none" stroke="#440154" stroke-width="2.88" stroke-linecap="butt" stroke-linejoin="round"/>
<path d="M317.04,111.78 L316.89,111.41 L316.74,111.04 L316.59,110.67 L316.44,110.29 L316.30,109.92 L316.16,109.55 L316.01,109.17" fill="none" stroke="#440154" stroke-width="2.88" stroke-linecap="butt" stroke-linejoin="round"/>
<path d="M316.01,109.17 L315.87,108.80 L315.74,108.42 L315.60,108.05 L315.47,107.67 L315.34,107.29 L315.21,106.91" fill="none" stroke="#440154" stroke-width="2.88" stroke-linecap="butt" stroke-linejoin="round"/>
<path d="M315.21,106.91 L315.08,106.53 L314.96,106.15 L314.84,105.77" fill="none" stroke="#440154" stroke-width="2.88" stroke-linecap="butt" stroke-linejoin="round"/>
<path d="M314.72,105.39 L314.60,105.01 L314.49,104.62 L314.37,104.24 L314.27,103.85 L314.16,103.47 L314.06,103.08 L313.96,102.69 L313.87,102.30" fill="none" stroke="#440154" stroke-width="2.88" stroke-linecap="butt" stroke-linejoin="round"/>
<path d="M313.78,101.91 L313.70,101.52 L313.62,101.13 L313.55,100.74" fill="none" stroke="#440154" stroke-width="2.88" stroke-linecap="butt" stroke-linejoin="round"/>
<path d="M313.55,100.74 L313.48,100.34 L313.43,99.95 L313.37,99.55 L313.33,99.15" fill="none" stroke="#440154" stroke-width="2.88" stroke-linecap="butt" stroke-linejoin="round"/>
<path d="M313.33,99.15 L313.28,98.76 L313.25,98.36 L313.22,97.96 L313.19,97.56 L313.17,97.16" fill="none" stroke="#440154" stroke-width="2.88" stroke-linecap="butt" stroke-linejoin="round"/>
<path d="M313.15,96.76 L313.14,96.36 L313.13,95.96 L313.12,95.56" fill="none" stroke="#440154" stroke-width="2.88" stroke-linecap="butt" stroke-linejoin="round"/>
<path d="M313.12,95.16 L313.11,94.76 L313.11,94.36 L313.11,93.96 L313.11,93.56 L313.11,93.16" fill="none" stroke="#440154" stroke-width="2.88" stroke-linecap="butt" stroke-linejoin="round"/>
<path d="M313.11,93.16 L313.11,92.76 L313.10,92.36 L313.10,91.96" fill="none" stroke="#440154" stroke-width="2.88" stroke-linecap="butt" stroke-linejoin="round"/>
<path d="M313.10,91.96 L313.09,91.56 L313.09,91.16 L313.09,90.76 L313.08,90.36 L313.08,89.96" fill="none" stroke="#440154" stroke-width="2.88" stroke-linecap="butt" stroke-linejoin="round"/>
<path d="M313.08,89.96 L313.08,89.56 L313.09,89.16 L313.09,88.76 L313.10,88.36" fill="none" stroke="#440154" stroke-width="2.52" stroke-linecap="butt" stroke-linejoin="round"/>
<path d="M313.10,87.96 L313.11,87.56 L313.13,87.16 L313.14,86.76 L313.16,86.36" fill="none" stroke="#440154" stroke-width="2.52" stroke-linecap="butt" stroke-linejoin="round"/>
<path d="M313.31,83.97 L313.35,83.57 L313.38,83.17 L313.42,82.77" fill="none" stroke="#440154" stroke-width="2.52" stroke-linecap="butt" stroke-linejoin="round"/>
<path d="M313.55,81.58 L313.59,81.18 L313.64,80.78 L313.69,80.39 L313.74,79.99 L313.79,79.59 L313.84,79.20" fill="none" stroke="#440154" stroke-width="2.52" stroke-linecap="butt" stroke-linejoin="round"/>
<path d="M313.84,79.20 L313.90,78.80 L313.95,78.40 L314.01,78.01 L314.07,77.61 L314.12,77.22 L314.18,76.82 L314.24,76.43 L314.30,76.03" fill="none" stroke="#440154" stroke-width="2.52" stroke-linecap="butt" stroke-linejoin="round"/>
<path d="M314.30,76.03 L314.37,75.64 L314.43,75.24 L314.49,74.85 L314.56,74.45 L314.62,74.06 L314.69,73.66 L314.76,73.27" fill="none" stroke="#440154" stroke-width="2.52" stroke-linecap="butt" stroke-linejoin="round"/>
<path d="M314.83,72.87 L314.90,72.48 L314.97,72.09 L315.04,71.69 L315.12,71.30 L315.19,70.91 L315.27,70.52 L315.35,70.12" fill="none" stroke="#440154" stroke-width="2.52" stroke-linecap="butt" stroke-linejoin="round"/>
<path d="M315.35,70.12 L315.44,69.73 L315.52,69.34 L315.61,68.95 L315.71,68.56" fill="none" stroke="#440154" stroke-width="2.52" stroke-linecap="butt" stroke-linejoin="round"/>
<path d="M315.71,68.56 L315.81,68.18 L315.91,67.79 L316.02,67.41 L316.14,67.02 L316.27,66.64 L316.40,66.27" fill="none" stroke="#440154" stroke-width="2.52" stroke-linecap="butt" stroke-linejoin="round"/>
<path d="M316.40,66.27 L316.55,65.90 L316.70,65.53 L316.87,65.16 L317.04,64.80 L317.22,64.44 L317.40,64.09" fill="none" stroke="#440154" stroke-width="2.52" stroke-linecap="butt" stroke-linejoin="round"/>
<path d="M319.27,60.55 L319.47,60.20 L319.67,59.86 L319.87,59.52 L320.08,59.17 L320.29,58.83 L320.50,58.49 L320.71,58.15 L320.92,57.81" fill="none" stroke="#440154" stroke-width="2.52" stroke-linecap="butt" stroke-linejoin="round"/>
<path d="M321.34,57.13 L321.55,56.79 L321.77,56.45 L321.98,56.11" fill="none" stroke="#440154" stroke-width="2.28" stroke-linecap="butt" stroke-linejoin="round"/>
<path d="M321.98,56.11 L322.19,55.78 L322.41,55.44" fill="none" stroke="#440154" stroke-width="2.28" stroke-linecap="butt" stroke-linejoin="round"/>
<path d="M322.41,55.44 L322.62,55.10 L322.84,54.76 L323.05,54.43 L323.27,54.09 L323.49,53.76 L323.71,53.42" fill="none" stroke="#440154" stroke-width="2.28" stroke-linecap="butt" stroke-linejoin="round"/>
<path d="M324.37,52.42 L324.60,52.09 L324.82,51.76" fill="none" stroke="#440154" stroke-width="2.28" stroke-linecap="butt" stroke-linejoin="round"/>
<path d="M325.28,51.10 L325.51,50.77 L325.74,50.45 L325.97,50.12 L326.20,49.80 L326.44,49.47 L326.67,49.15 L326.91,48.83" fill="none" stroke="#440154" stroke-width="2.28" stroke-linecap="butt" stroke-linejoin="round"/>
<path d="M328.61,46.60 L328.86,46.29 L329.12,45.99 L329.38,45.68 L329.64,45.38" fill="none" stroke="#440154" stroke-width="2.28" stroke-linecap="butt" stroke-linejoin="round"/>
<path d="M329.64,45.38 L329.90,45.08 L330.17,44.78 L330.43,44.48 L330.70,44.18 L330.96,43.88" fill="none" stroke="#440154" stroke-width="2.28" stroke-linecap="butt" stroke-linejoin="round"/>
<path d="M331.23,43.58 L331.50,43.28 L331.76,42.98 L332.03,42.69 L332.29,42.39 L332.56,42.09 L332.83,41.79" fill="none" stroke="#440154" stroke-width="2.28" stroke-linecap="butt" stroke-linejoin="round"/>
<path d="M338.49,36.15 L338.80,35.90 L339.11,35.64 L339.42,35.39 L339.74,35.14" fill="none" stroke="#440154" stroke-width="2.28" stroke-linecap="butt" stroke-linejoin="round"/>
<path d="M340.05,34.90 L340.37,34.66 L340.69,34.42 L341.02,34.18 L341.34,33.95 L341.67,33.72" fill="none" stroke="#440154" stroke-width="2.28" stroke-linecap="butt" stroke-linejoin="round"/>
<path d="M341.99,33.49 L342.32,33.26 L342.65,33.03 L342.98,32.81 L343.31,32.58 L343.65,32.36 L343.98,32.14" fill="none" stroke="#440154" stroke-width="2.28" stroke-linecap="butt" stroke-linejoin="round"/>
<path d="M343.98,32.14 L344.31,31.92 L344.65,31.70 L344.99,31.49 L345.32,31.27 L345.66,31.05" fill="none" stroke="#440154" stroke-width="2.28" stroke-linecap="butt" stroke-linejoin="round"/>
<path d="M345.66,31.05 L345.99,30.84 L346.33,30.62" fill="none" stroke="#440154" stroke-width="2.28" stroke-linecap="butt" stroke-linejoin="round"/>
<path d="M346.67,30.40 L347.00,30.19 L347.34,29.97 L347.68,29.76 L348.02,29.54 L348.35,29.33 L348.69,29.11 L349.03,28.89" fill="none" stroke="#440154" stroke-width="2.28" stroke-linecap="butt" stroke-linejoin="round"/>
<path d="M349.03,28.89 L349.36,28.68 L349.70,28.46 L350.04,28.25" fill="none" stroke="#440154" stroke-width="2.28" stroke-linecap="butt" stroke-linejoin="round"/>
<path d="M352.07,26.97 L352.41,26.77 L352.75,26.56 L353.10,26.35 L353.44,26.15 L353.79,25.94 L354.13,25.74 L354.48,25.54 L354.83,25.35" fill="none" stroke="#440154" stroke-width="2.28" stroke-linecap="butt" stroke-linejoin="round"/>
<path d="M355.17,25.15 L355.52,24.96 L355.88,24.77 L356.23,24.58 L356.58,24.39 L356.94,24.21" fill="none" stroke="#440154" stroke-width="2.28" stroke-linecap="butt" stroke-linejoin="round"/>
<path d="M359.48,23.04 L359.85,22.89 L360.22,22.74 L360.60,22.60 L360.97,22.46" fill="none" stroke="#440154" stroke-width="2.28" stroke-linecap="butt" stroke-linejoin="round"/>
<path d="M360.97,22.46 L361.35,22.32 L361.73,22.19 L362.10,22.05 L362.48,21.93 L362.86,21.80 L363.24,21.68" fill="none" stroke="#440154" stroke-width="2.28" stroke-linecap="butt" stroke-linejoin="round"/>
<path d="M363.24,21.68 L363.62,21.56 L364.01,21.44 L364.39,21.33 L364.77,21.21" fill="none" stroke="#440154" stroke-width="2.28" stroke-linecap="butt" stroke-linejoin="round"/>
<path d="M367.85,20.33 L368.23,20.22 L368.62,20.11 L369.00,20.00 L369.39,19.89 L369.77,19.78 L370.16,19.67 L370.54,19.56" fill="none" stroke="#440154" stroke-width="2.28" stroke-linecap="butt" stroke-linejoin="round"/>
<path d="M370.54,19.56 L370.93,19.46 L371.31,19.35 L371.70,19.25" fill="none" stroke="#440154" stroke-width="2.28" stroke-linecap="butt" stroke-linejoin="round"/>
<path d="M374.41,18.55 L374.80,18.45 L375.19,18.36 L375.58,18.26" fill="none" stroke="#440154" stroke-width="2.28" stroke-linecap="butt" stroke-linejoin="round"/>
<path d="M376.36,18.08 L376.75,17.99 L377.14,17.90 L377.53,17.82 L377.92,17.73" fill="none" stroke="#440154" stroke-width="2.28" stroke-linecap="butt" stroke-linejoin="round"/>
<path d="M383.42,16.68 L383.81,16.62 L384.21,16.56 L384.60,16.50 L385.00,16.44 L385.39,16.38 L385.79,16.33 L386.19,16.28 L386.58,16.23" fill="none" stroke="#440154" stroke-width="2.28" stroke-linecap="butt" stroke-linejoin="round"/>
<path d="M386.58,16.23 L386.98,16.18 L387.38,16.14 L387.78,16.09 L388.18,16.05 L388.57,16.02 L388.97,15.98 L389.37,15.95" fill="none" stroke="#440154" stroke-width="2.28" stroke-linecap="butt" stroke-linejoin="round"/>
<path d="M390.17,15.89 L390.57,15.86 L390.97,15.84 L391.37,15.82 L391.77,15.80 L392.17,15.79" fill="none" stroke="#440154" stroke-width="2.28" stroke-linecap="butt" stroke-linejoin="round"/>
<path d="M392.17,15.79 L392.57,15.77 L392.97,15.76 L393.36,15.76 L393.76,15.75 L394.16,15.75 L394.56,15.75 L394.96,15.75" fill="none" stroke="#440154" stroke-width="2.28" stroke-linecap="butt" stroke-linejoin="round"/>
<path d="M395.76,15.76 L396.16,15.77 L396.56,15.78 L396.96,15.79 L397.36,15.80 L397.76,15.81 L398.16,15.83" fill="none" stroke="#440154" stroke-width="2.28" stroke-linecap="butt" stroke-linejoin="round"/>
<path d="M398.16,15.83 L398.56,15.84 L398.96,15.86 L399.36,15.87 L399.76,15.89 L400.16,15.91 L400.56,15.92 L400.96,15.94" fill="none" stroke="#fde725" stroke-width="2.28" stroke-linecap="butt" stroke-linejoin="round"/>
<path d="M402.96,16.03 L403.36,16.05 L403.76,16.07 L404.16,16.09 L404.56,16.11 L404.96,16.13 L405.36,16.16" fill="none" stroke="#fde725" stroke-width="2.28" stroke-linecap="butt" stroke-linejoin="round"/>
<path d="M408.15,16.34 L408.55,16.37 L408.95,16.41 L409.35,16.44 L409.74,16.47 L410.14,16.51" fill="none" stroke="#fde725" stroke-width="2.28" stroke-linecap="butt" stroke-linejoin="round"/>
<path d="M410.14,16.51 L410.54,16.55 L410.94,16.59 L411.34,16.63 L411.73,16.67" fill="none" stroke="#fde725" stroke-width="2.28" stroke-linecap="butt" stroke-linejoin="round"/>
<path d="M412.13,16.72 L412.53,16.76 L412.93,16.81 L413.32,16.86 L413.72,16.92 L414.12,16.97" fill="none" stroke="#fde725" stroke-width="2.28" stroke-linecap="butt" stroke-linejoin="round"/>
<path d="M415.70,17.19 L416.10,17.25 L416.49,17.31 L416.89,17.37" fill="none" stroke="#fde725" stroke-width="2.40" stroke-linecap="butt" stroke-linejoin="round"/>
<path d="M420.04,17.89 L420.44,17.97 L420.83,18.04 L421.22,18.12 L421.62,18.20" fill="none" stroke="#fde725" stroke-width="2.40" stroke-linecap="butt" stroke-linejoin="round"/>
<path d="M425.12,19.00 L425.51,19.10 L425.90,19.20 L426.28,19.31" fill="none" stroke="#fde725" stroke-width="2.40" stroke-linecap="butt" stroke-linejoin="round"/>
<path d="M427.05,19.53 L427.44,19.64 L427.82,19.76 L428.20,19.88" fill="none" stroke="#fde725" stroke-width="2.40" stroke-linecap="butt" stroke-linejoin="round"/>
<path d="M430.86,20.75 L431.24,20.89 L431.61,21.02 L431.99,21.16" fill="none" stroke="#fde725" stroke-width="2.40" stroke-linecap="butt" stroke-linejoin="round"/>
<path d="M432.36,21.30 L432.74,21.44 L433.11,21.58 L433.48,21.73" fill="none" stroke="#fde725" stroke-width="2.40" stroke-linecap="butt" stroke-linejoin="round"/>
<path d="M434.97,22.33 L435.33,22.49 L435.70,22.64 L436.07,22.80 L436.44,22.96 L436.80,23.13 L437.17,23.29 L437.53,23.46" fill="none" stroke="#fde725" stroke-width="2.40" stroke-linecap="butt" stroke-linejoin="round"/>
<path d="M437.53,23.46 L437.89,23.63 L438.25,23.80 L438.61,23.97 L438.98,24.14 L439.34,24.32 L439.69,24.49 L440.05,24.67" fill="none" stroke="#fde725" stroke-width="2.40" stroke-linecap="butt" stroke-linejoin="round"/>
<path d="M440.05,24.67 L440.41,24.85 L440.77,25.03 L441.12,25.21 L441.48,25.40 L441.83,25.58 L442.19,25.77" fill="none" stroke="#fde725" stroke-width="2.40" stroke-linecap="butt" stroke-linejoin="round"/>
<path d="M442.19,25.77 L442.54,25.95 L442.90,26.14 L443.25,26.33 L443.60,26.52 L443.95,26.71" fill="none" stroke="#fde725" stroke-width="2.40" stroke-linecap="butt" stroke-linejoin="round"/>
<path d="M443.95,26.71 L444.30,26.90 L444.66,27.09 L445.01,27.28 L445.36,27.48 L445.71,27.67" fill="none" stroke="#fde725" stroke-width="2.40" stroke-linecap="butt" stroke-linejoin="round"/>
<path d="M446.40,28.06 L446.75,28.26 L447.10,28.46 L447.44,28.66 L447.79,28.86" fill="none" stroke="#fde725" stroke-width="2.40" stroke-linecap="butt" stroke-linejoin="round"/>
<path d="M447.79,28.86 L448.14,29.06 L448.48,29.26 L448.83,29.46 L449.17,29.67 L449.52,29.87 L449.86,30.08 L450.20,30.28" fill="none" stroke="#fde725" stroke-width="2.40" stroke-linecap="butt" stroke-linejoin="round"/>
<path d="M450.54,30.49 L450.89,30.70 L451.23,30.91" fill="none" stroke="#fde725" stroke-width="2.40" stroke-linecap="butt" stroke-linejoin="round"/>
<path d="M451.91,31.33 L452.25,31.54 L452.58,31.75 L452.92,31.97" fill="none" stroke="#fde725" stroke-width="2.40" stroke-linecap="butt" stroke-linejoin="round"/>
<path d="M452.92,31.97 L453.26,32.18 L453.60,32.40 L453.93,32.62 L454.27,32.84 L454.60,33.06 L454.93,33.28 L455.27,33.50" fill="none" stroke="#fde725" stroke-width="2.40" stroke-linecap="butt" stroke-linejoin="round"/>
<path d="M455.27,33.50 L455.60,33.72 L455.93,33.95 L456.26,34.17 L456.59,34.40 L456.92,34.63" fill="none" stroke="#fde725" stroke-width="2.40" stroke-linecap="butt" stroke-linejoin="round"/>
<path d="M457.57,35.09 L457.89,35.33 L458.22,35.56 L458.54,35.80 L458.86,36.03 L459.19,36.27 L459.51,36.51 L459.83,36.75 L460.14,36.99" fill="none" stroke="#fde725" stroke-width="2.40" stroke-linecap="butt" stroke-linejoin="round"/>
<path d="M460.14,36.99 L460.46,37.23 L460.78,37.48 L461.09,37.72 L461.41,37.97 L461.72,38.22 L462.04,38.47 L462.35,38.72 L462.66,38.97" fill="none" stroke="#fde725" stroke-width="2.40" stroke-linecap="butt" stroke-linejoin="round"/>
<path d="M462.66,38.97 L462.97,39.22 L463.28,39.48 L463.59,39.73 L463.89,39.99 L464.20,40.24 L464.51,40.50 L464.81,40.76" fill="none" stroke="#fde725" stroke-width="2.40" stroke-linecap="butt" stroke-linejoin="round"/>
<path d="M465.42,41.29 L465.72,41.55 L466.02,41.81 L466.32,42.08 L466.61,42.34 L466.91,42.61 L467.21,42.88 L467.50,43.15 L467.80,43.42" fill="none" stroke="#fde725" stroke-width="2.40" stroke-linecap="butt" stroke-linejoin="round"/>
<path d="M467.80,43.42 L468.09,43.69 L468.38,43.97 L468.67,44.24 L468.96,44.52 L469.25,44.79 L469.54,45.07 L469.83,45.35 L470.12,45.63" fill="none" stroke="#fde725" stroke-width="2.40" stroke-linecap="butt" stroke-linejoin="round"/>
<path d="M470.69,46.19 L470.97,46.47 L471.25,46.75 L471.53,47.04 L471.81,47.32" fill="none" stroke="#fde725" stroke-width="2.40" stroke-linecap="butt" stroke-linejoin="round"/>
<path d="M471.81,47.32 L472.09,47.61 L472.37,47.90 L472.65,48.18 L472.93,48.47" fill="none" stroke="#fde725" stroke-width="2.40" stroke-linecap="butt" stroke-linejoin="round"/>
<path d="M472.93,48.47 L473.20,48.76 L473.48,49.05 L473.75,49.34 L474.03,49.64" fill="none" stroke="#fde725" stroke-width="2.40" stroke-linecap="butt" stroke-linejoin="round"/>
<path d="M474.03,49.64 L474.30,49.93 L474.57,50.22 L474.84,50.52 L475.11,50.81 L475.38,51.11 L475.64,51.41 L475.91,51.71 L476.18,52.01" fill="none" stroke="#fde725" stroke-width="2.40" stroke-linecap="butt" stroke-linejoin="round"/>
<path d="M476.18,52.01 L476.44,52.31 L476.70,52.61 L476.97,52.91 L477.23,53.21 L477.49,53.51 L477.75,53.82" fill="none" stroke="#fde725" stroke-width="2.40" stroke-linecap="butt" stroke-linejoin="round"/>
<path d="M477.75,53.82 L478.01,54.12 L478.26,54.43 L478.52,54.74 L478.77,55.05 L479.03,55.36 L479.28,55.67 L479.53,55.98 L479.78,56.29" fill="none" stroke="#fde725" stroke-width="2.40" stroke-linecap="butt" stroke-linejoin="round"/>
<path d="M480.27,56.92 L480.52,57.24 L480.76,57.56 L481.00,57.88 L481.24,58.20 L481.47,58.52" fill="none" stroke="#fde725" stroke-width="2.40" stroke-linecap="butt" stroke-linejoin="round"/>
<path d="M481.47,58.52 L481.71,58.85 L481.94,59.17 L482.16,59.50 L482.39,59.83" fill="none" stroke="#fde725" stroke-width="2.88" stroke-linecap="butt" stroke-linejoin="round"/>
<path d="M482.82,60.50 L483.03,60.85 L483.24,61.19 L483.43,61.54 L483.62,61.89 L483.81,62.24 L483.99,62.60 L484.15,62.97 L484.31,63.33" fill="none" stroke="#fde725" stroke-width="2.88" stroke-linecap="butt" stroke-linejoin="round"/>
<path d="M484.61,64.07 L484.75,64.45 L484.88,64.83 L485.01,65.21 L485.13,65.59 L485.25,65.97 L485.36,66.35 L485.47,66.74" fill="none" stroke="#fde725" stroke-width="2.88" stroke-linecap="butt" stroke-linejoin="round"/>
<path d="M485.70,67.51 L485.81,67.89 L485.93,68.27 L486.04,68.65 L486.17,69.04 L486.29,69.41 L486.43,69.79" fill="none" stroke="#fde725" stroke-width="2.88" stroke-linecap="butt" stroke-linejoin="round"/>
<path d="M486.70,70.54 L486.84,70.92 L486.98,71.29" fill="none" stroke="#fde725" stroke-width="2.88" stroke-linecap="butt" stroke-linejoin="round"/>
<path d="M487.11,71.67 L487.25,72.05 L487.39,72.42 L487.53,72.80 L487.67,73.17 L487.81,73.55 L487.95,73.92 L488.08,74.30 L488.22,74.67" fill="none" stroke="#fde725" stroke-width="2.88" stroke-linecap="butt" stroke-linejoin="round"/>
<path d="M488.22,74.67 L488.35,75.05 L488.49,75.43 L488.62,75.80 L488.75,76.18" fill="none" stroke="#fde725" stroke-width="2.88" stroke-linecap="butt" stroke-linejoin="round"/>
<path d="M488.75,76.18 L488.88,76.56 L489.01,76.94" fill="none" stroke="#fde725" stroke-width="2.88" stroke-linecap="butt" stroke-linejoin="round"/>
<path d="M489.01,76.94 L489.13,77.32 L489.26,77.70 L489.38,78.08 L489.50,78.46 L489.62,78.84 L489.74,79.23 L489.85,79.61" fill="none" stroke="#fde725" stroke-width="2.88" stroke-linecap="butt" stroke-linejoin="round"/>
<path d="M489.85,79.61 L489.96,79.99 L490.07,80.38 L490.18,80.76 L490.28,81.15 L490.38,81.54 L490.48,81.93" fill="none" stroke="#fde725" stroke-width="2.88" stroke-linecap="butt" stroke-linejoin="round"/>
<path d="M490.48,81.93 L490.58,82.31 L490.67,82.70 L490.76,83.09 L490.85,83.48 L490.94,83.87" fill="none" stroke="#fde725" stroke-width="2.88" stroke-linecap="butt" stroke-linejoin="round"/>
<path d="M491.11,84.65 L491.19,85.04 L491.28,85.44 L491.36,85.83 L491.44,86.22 L491.51,86.61 L491.59,87.01 L491.66,87.40 L491.74,87.79" fill="none" stroke="#fde725" stroke-width="2.88" stroke-linecap="butt" stroke-linejoin="round"/>
<path d="M491.74,87.79 L491.81,88.19 L491.88,88.58 L491.95,88.97 L492.02,89.37 L492.08,89.76" fill="none" stroke="#fde725" stroke-width="2.88" stroke-linecap="butt" stroke-linejoin="round"/>
<path d="M492.08,89.76 L492.15,90.16 L492.21,90.55 L492.27,90.95 L492.33,91.34" fill="none" stroke="#fde725" stroke-width="2.88" stroke-linecap="butt" stroke-linejoin="round"/>
<path d="M492.33,91.34 L492.39,91.74 L492.45,92.13 L492.51,92.53 L492.57,92.92 L492.62,93.32" fill="none" stroke="#fde725" stroke-width="2.88" stroke-linecap="butt" stroke-linejoin="round"/>
<path d="M492.62,93.32 L492.68,93.72 L492.73,94.11 L492.78,94.51 L492.83,94.91" fill="none" stroke="#fde725" stroke-width="2.88" stroke-linecap="butt" stroke-linejoin="round"/>
<path d="M493.07,96.89 L493.11,97.29 L493.16,97.69 L493.20,98.09" fill="none" stroke="#fde725" stroke-width="2.88" stroke-linecap="butt" stroke-linejoin="round"/>
<path d="M493.20,98.09 L493.24,98.48 L493.28,98.88 L493.32,99.28 L493.36,99.68 L493.40,100.08 L493.43,100.47" fill="none" stroke="#fde725" stroke-width="2.88" stroke-linecap="butt" stroke-linejoin="round"/>
<path d="M493.43,100.47 L493.47,100.87 L493.51,101.27 L493.54,101.67" fill="none" stroke="#fde725" stroke-width="2.88" stroke-linecap="butt" stroke-linejoin="round"/>
<path d="M493.54,101.67 L493.57,102.07 L493.60,102.47 L493.63,102.87 L493.66,103.26 L493.69,103.66 L493.72,104.06 L493.74,104.46 L493.77,104.86" fill="none" stroke="#fde725" stroke-width="2.88" stroke-linecap="butt" stroke-linejoin="round"/>
<path d="M493.77,104.86 L493.79,105.26 L493.81,105.66 L493.83,106.06 L493.85,106.46 L493.86,106.86 L493.88,107.26 L493.89,107.66" fill="none" stroke="#fde725" stroke-width="2.88" stroke-linecap="butt" stroke-linejoin="round"/>
<path d="M493.89,107.66 L493.90,108.06 L493.91,108.46 L493.92,108.86 L493.92,109.26" fill="none" stroke="#fde725" stroke-width="2.88" stroke-linecap="butt" stroke-linejoin="round"/>
<path d="M493.92,109.26 L493.92,109.66 L493.92,110.06 L493.92,110.46 L493.91,110.86 L493.91,111.26 L493.89,111.66 L493.88,112.06 L493.86,112.46" fill="none" stroke="#fde725" stroke-width="2.88" stroke-linecap="butt" stroke-linejoin="round"/>
<path d="M493.86,112.46 L493.84,112.86 L493.81,113.26 L493.78,113.65" fill="none" stroke="#fde725" stroke-width="2.88" stroke-linecap="butt" stroke-linejoin="round"/>
<path d="M493.71,114.45 L493.67,114.85 L493.63,115.25 L493.59,115.64" fill="none" stroke="#fde725" stroke-width="2.88" stroke-linecap="butt" stroke-linejoin="round"/>
<path d="M492.36,123.55 L492.29,123.94 L492.23,124.34 L492.16,124.73 L492.10,125.13 L492.04,125.52 L491.97,125.92" fill="none" stroke="#fde725" stroke-width="2.88" stroke-linecap="butt" stroke-linejoin="round"/>
<path d="M491.97,125.92 L491.90,126.31 L491.84,126.71 L491.77,127.10" fill="none" stroke="#fde725" stroke-width="2.88" stroke-linecap="butt" stroke-linejoin="round"/>
<path d="M491.70,127.49 L491.62,127.89 L491.55,128.28 L491.47,128.67 L491.39,129.06 L491.31,129.46" fill="none" stroke="#fde725" stroke-width="2.88" stroke-linecap="butt" stroke-linejoin="round"/>
<path d="M491.31,129.46 L491.23,129.85 L491.14,130.24 L491.05,130.63 L490.97,131.02 L490.88,131.41 L490.78,131.80 L490.69,132.19" fill="none" stroke="#fde725" stroke-width="2.88" stroke-linecap="butt" stroke-linejoin="round"/>
<path d="M490.69,132.19 L490.60,132.58 L490.51,132.97" fill="none" stroke="#fde725" stroke-width="2.88" stroke-linecap="butt" stroke-linejoin="round"/>
<path d="M490.51,132.97 L490.41,133.35 L490.32,133.74 L490.22,134.13" fill="none" stroke="#fde725" stroke-width="2.88" stroke-linecap="butt" stroke-linejoin="round"/>
<path d="M490.22,134.13 L490.13,134.52 L490.03,134.91 L489.93,135.29 L489.83,135.68 L489.73,136.07 L489.63,136.46" fill="none" stroke="#fde725" stroke-width="2.88" stroke-linecap="butt" stroke-linejoin="round"/>
<path d="M489.63,136.46 L489.52,136.84 L489.42,137.23 L489.32,137.62 L489.22,138.00 L489.11,138.39 L489.01,138.77" fill="none" stroke="#fde725" stroke-width="2.88" stroke-linecap="butt" stroke-linejoin="round"/>
<path d="M488.59,140.32 L488.48,140.70 L488.38,141.09" fill="none" stroke="#fde725" stroke-width="2.88" stroke-linecap="butt" stroke-linejoin="round"/>
<path d="M488.38,141.09 L488.27,141.48 L488.17,141.86 L488.06,142.25 L487.95,142.63 L487.85,143.02 L487.74,143.40 L487.63,143.79" fill="none" stroke="#fde725" stroke-width="2.88" stroke-linecap="butt" stroke-linejoin="round"/>
<path d="M487.63,143.79 L487.53,144.18 L487.42,144.56" fill="none" stroke="#fde725" stroke-width="2.88" stroke-linecap="butt" stroke-linejoin="round"/>
<path d="M487.42,144.56 L487.31,144.95 L487.21,145.33 L487.10,145.72 L486.99,146.10" fill="none" stroke="#fde725" stroke-width="2.88" stroke-linecap="butt" stroke-linejoin="round"/>
<path d="M486.99,146.10 L486.89,146.49 L486.78,146.87 L486.67,147.26 L486.56,147.64 L486.45,148.03" fill="none" stroke="#fde725" stroke-width="2.88" stroke-linecap="butt" stroke-linejoin="round"/>
<path d="M486.45,148.03 L486.34,148.41 L486.23,148.80 L486.12,149.18" fill="none" stroke="#fde725" stroke-width="2.88" stroke-linecap="butt" stroke-linejoin="round"/>
<path d="M486.12,149.18 L486.01,149.57 L485.90,149.95 L485.79,150.34 L485.68,150.72 L485.57,151.10 L485.46,151.49 L485.35,151.87" fill="none" stroke="#fde725" stroke-width="2.88" stroke-linecap="butt" stroke-linejoin="round"/>
<path d="M485.24,152.26 L485.13,152.64 L485.01,153.03 L484.90,153.41 L484.79,153.79 L484.68,154.18" fill="none" stroke="#fde725" stroke-width="2.88" stroke-linecap="butt" stroke-linejoin="round"/>
<path d="M484.68,154.18 L484.57,154.56 L484.46,154.95 L484.35,155.33" fill="none" stroke="#fde725" stroke-width="2.88" stroke-linecap="butt" stroke-linejoin="round"/>
<path d="M313.16,86.36 L313.18,85.96 L313.20,85.56 L313.22,85.16 L313.25,84.76 L313.28,84.37" fill="none" stroke="#fde725" stroke-width="2.14" stroke-linecap="butt" stroke-linejoin="round"/>
<path d="M313.42,82.77 L313.46,82.37 L313.50,81.98 L313.55,81.58" fill="none" stroke="#fde725" stroke-width="2.14" stroke-linecap="butt" stroke-linejoin="round"/>
<path d="M317.76,63.37 L317.94,63.02 L318.12,62.66 L318.30,62.30 L318.49,61.95 L318.68,61.60 L318.87,61.25 L319.07,60.90 L319.27,60.55" fill="none" stroke="#fde725" stroke-width="2.14" stroke-linecap="butt" stroke-linejoin="round"/>
<path d="M323.71,53.42 L323.93,53.09 L324.15,52.76 L324.37,52.42" fill="none" stroke="#fde725" stroke-width="1.94" stroke-linecap="butt" stroke-linejoin="round"/>
<path d="M326.91,48.83 L327.15,48.50 L327.38,48.18 L327.62,47.86 L327.87,47.55 L328.11,47.23 L328.36,46.92 L328.61,46.60" fill="none" stroke="#fde725" stroke-width="1.94" stroke-linecap="butt" stroke-linejoin="round"/>
<path d="M332.83,41.79 L333.10,41.50 L333.37,41.20 L333.64,40.91 L333.91,40.61 L334.18,40.32 L334.46,40.03" fill="none" stroke="#fde725" stroke-width="1.94" stroke-linecap="butt" stroke-linejoin="round"/>
<path d="M335.01,39.45 L335.29,39.16 L335.57,38.88 L335.85,38.59 L336.13,38.31 L336.42,38.03" fill="none" stroke="#fde725" stroke-width="1.94" stroke-linecap="butt" stroke-linejoin="round"/>
<path d="M336.42,38.03 L336.71,37.75 L337.00,37.48 L337.29,37.21 L337.59,36.94 L337.89,36.67 L338.19,36.41 L338.49,36.15" fill="none" stroke="#fde725" stroke-width="1.94" stroke-linecap="butt" stroke-linejoin="round"/>
<path d="M350.37,28.03 L350.71,27.82 L351.05,27.61 L351.39,27.40 L351.73,27.18 L352.07,26.97" fill="none" stroke="#fde725" stroke-width="1.94" stroke-linecap="butt" stroke-linejoin="round"/>
<path d="M356.94,24.21 L357.30,24.03 L357.66,23.86 L358.02,23.69 L358.38,23.52 L358.75,23.35" fill="none" stroke="#fde725" stroke-width="1.94" stroke-linecap="butt" stroke-linejoin="round"/>
<path d="M364.77,21.21 L365.16,21.10 L365.54,20.99 L365.92,20.88 L366.31,20.77 L366.69,20.66 L367.08,20.55 L367.46,20.44 L367.85,20.33" fill="none" stroke="#fde725" stroke-width="1.94" stroke-linecap="butt" stroke-linejoin="round"/>
<path d="M372.47,19.04 L372.86,18.94 L373.25,18.84 L373.63,18.74" fill="none" stroke="#fde725" stroke-width="1.94" stroke-linecap="butt" stroke-linejoin="round"/>
<path d="M378.31,17.65 L378.70,17.56 L379.09,17.48 L379.48,17.40 L379.87,17.32 L380.27,17.25 L380.66,17.17 L381.05,17.10 L381.45,17.03" fill="none" stroke="#fde725" stroke-width="1.94" stroke-linecap="butt" stroke-linejoin="round"/>
<path d="M381.45,17.03 L381.84,16.95 L382.23,16.88 L382.63,16.82 L383.02,16.75" fill="none" stroke="#fde725" stroke-width="1.94" stroke-linecap="butt" stroke-linejoin="round"/>
<path d="M400.96,15.94 L401.36,15.96 L401.76,15.98 L402.16,15.99 L402.56,16.01 L402.96,16.03" fill="none" stroke="#440154" stroke-width="1.94" stroke-linecap="butt" stroke-linejoin="round"/>
<path d="M405.76,16.18 L406.15,16.21 L406.55,16.23 L406.95,16.26 L407.35,16.28 L407.75,16.31 L408.15,16.34" fill="none" stroke="#440154" stroke-width="1.94" stroke-linecap="butt" stroke-linejoin="round"/>
<path d="M414.12,16.97 L414.51,17.03 L414.91,17.08 L415.30,17.14 L415.70,17.19" fill="none" stroke="#440154" stroke-width="2.04" stroke-linecap="butt" stroke-linejoin="round"/>
<path d="M416.89,17.37 L417.28,17.43 L417.68,17.49 L418.07,17.56 L418.47,17.62 L418.86,17.69 L419.26,17.75 L419.65,17.82 L420.04,17.89" fill="none" stroke="#440154" stroke-width="2.04" stroke-linecap="butt" stroke-linejoin="round"/>
<path d="M422.01,18.28 L422.40,18.36 L422.79,18.44 L423.18,18.53 L423.57,18.62 L423.96,18.71 L424.35,18.80 L424.74,18.90 L425.12,19.00" fill="none" stroke="#440154" stroke-width="2.04" stroke-linecap="butt" stroke-linejoin="round"/>
<path d="M428.20,19.88 L428.58,20.00 L428.96,20.12 L429.34,20.24 L429.72,20.37 L430.10,20.49" fill="none" stroke="#440154" stroke-width="2.04" stroke-linecap="butt" stroke-linejoin="round"/>
<path d="M433.48,21.73 L433.86,21.88 L434.23,22.03 L434.60,22.18 L434.97,22.33" fill="none" stroke="#440154" stroke-width="2.04" stroke-linecap="butt" stroke-linejoin="round"/>
<path d="M492.93,95.70 L492.98,96.10 L493.02,96.50 L493.07,96.89" fill="none" stroke="#440154" stroke-width="2.45" stroke-linecap="butt" stroke-linejoin="round"/>
<path d="M493.54,116.04 L493.49,116.44 L493.44,116.84 L493.39,117.23 L493.33,117.63" fill="none" stroke="#440154" stroke-width="2.45" stroke-linecap="butt" stroke-linejoin="round"/>
<path d="M493.33,117.63 L493.27,118.02 L493.21,118.42 L493.15,118.81 L493.09,119.21" fill="none" stroke="#440154" stroke-width="2.45" stroke-linecap="butt" stroke-linejoin="round"/>
<path d="M493.09,119.21 L493.02,119.60 L492.96,120.00 L492.89,120.39" fill="none" stroke="#440154" stroke-width="2.45" stroke-linecap="butt" stroke-linejoin="round"/>
<path d="M492.89,120.39 L492.83,120.79 L492.76,121.18 L492.69,121.58 L492.63,121.97 L492.56,122.37 L492.49,122.76" fill="none" stroke="#440154" stroke-width="2.45" stroke-linecap="butt" stroke-linejoin="round"/>
<path d="M489.01,138.77 L488.90,139.16 L488.80,139.55 L488.69,139.93 L488.59,140.32" fill="none" stroke="#440154" stroke-width="2.45" stroke-linecap="butt" stroke-linejoin="round"/>
<circle cx="315.60" cy="69.00" r="2.30" fill="#440154"/>
<circle cx="313.30" cy="84.00" r="1.80" fill="#440154"/>
<circle cx="313.10" cy="97.80" r="1.90" fill="#440154"/>
<circle cx="351.80" cy="160.50" r="1.90" fill="#440154"/>
<circle cx="352.30" cy="163.00" r="1.50" fill="#440154"/>
<circle cx="346.00" cy="153.60" r="2.10" fill="#440154"/>
<circle cx="329.30" cy="132.50" r="1.90" fill="#440154"/>
<circle cx="320.50" cy="56.80" r="1.60" fill="#440154"/>
<circle cx="492.30" cy="101.00" r="1.90" fill="#fde725"/>
<circle cx="493.60" cy="111.00" r="2.00" fill="#fde725"/>
<circle cx="492.00" cy="123.00" r="1.80" fill="#fde725"/>
<circle cx="489.80" cy="135.50" r="1.70" fill="#fde725"/>
<circle cx="487.00" cy="73.00" r="1.70" fill="#fde725"/>
<circle cx="481.50" cy="60.00" r="1.50" fill="#fde725"/>
<circle cx="485.00" cy="152.00" r="1.60" fill="#fde725"/>
<circle cx="494.30" cy="111.30" r="1.10" fill="#6a4a5a"/>
<circle cx="79.80" cy="229.70" r="5.00" fill="#440154"/>
<circle cx="79.00" cy="230.20" r="2.60" fill="#5a2a78"/>
<circle cx="79.80" cy="229.50" r="1.10" fill="#9a7040"/>
<circle cx="75.90" cy="227.90" r="1.50" fill="#fde725"/>
<circle cx="83.30" cy="226.90" r="1.50" fill="#fde725"/>
<circle cx="81.50" cy="232.50" r="0.80" fill="#8a6a70"/>
<circle cx="179.50" cy="367.80" r="4.60" fill="#fde725"/>
<circle cx="182.00" cy="365.10" r="1.20" fill="#440154"/>
<circle cx="182.60" cy="369.60" r="1.10" fill="#440154"/>
<circle cx="175.90" cy="365.50" r="0.90" fill="#8a5a30"/>
<circle cx="177.80" cy="371.90" r="0.90" fill="#6a3a70"/>
<circle cx="178.20" cy="369.50" r="0.80" fill="#a08a40"/>
<circle cx="43.50" cy="352.50" r="2.60" fill="#440154"/>
<circle cx="42.70" cy="351.30" r="1.20" fill="#c09a28"/>
<circle cx="64.00" cy="344.20" r="2.00" fill="#440154"/>
<circle cx="63.30" cy="343.30" r="1.00" fill="#c09a28"/>
<circle cx="73.50" cy="337.20" r="1.20" fill="#440154"/>
<circle cx="78.50" cy="332.50" r="1.10" fill="#e0b820"/>
<circle cx="130.50" cy="279.90" r="0.90" fill="#8060a0"/>
<circle cx="198.90" cy="246.90" r="1.90" fill="#d0a818"/>
<circle cx="198.40" cy="246.20" r="0.90" fill="#8a6a30"/>
<circle cx="222.60" cy="252.20" r="2.60" fill="#fde725"/>
<circle cx="222.60" cy="250.60" r="0.90" fill="#6a3a50"/>
<circle cx="223.30" cy="253.80" r="0.60" fill="#9a7a40"/>
<circle cx="81.60" cy="329.40" r="1.05" fill="#440154"/>
<circle cx="83.69" cy="327.11" r="1.05" fill="#fde725"/>
<circle cx="86.08" cy="324.51" r="1.05" fill="#fde725"/>
<circle cx="88.19" cy="322.25" r="1.05" fill="#440154"/>
<circle cx="90.65" cy="319.75" r="1.05" fill="#fde725"/>
<circle cx="92.87" cy="317.20" r="1.05" fill="#440154"/>
<circle cx="94.93" cy="314.41" r="1.05" fill="#fde725"/>
<circle cx="95.82" cy="313.14" r="1.05" fill="#fde725"/>
<circle cx="96.54" cy="312.08" r="1.05" fill="#440154"/>
<circle cx="97.45" cy="310.75" r="1.05" fill="#fde725"/>
<circle cx="97.99" cy="309.95" r="1.05" fill="#fde725"/>
<circle cx="98.88" cy="308.64" r="1.05" fill="#440154"/>
<circle cx="99.56" cy="307.63" r="1.05" fill="#fde725"/>
<circle cx="100.23" cy="306.67" r="1.05" fill="#fde725"/>
<circle cx="100.91" cy="305.71" r="1.05" fill="#9a7030"/>
<circle cx="101.71" cy="304.60" r="1.05" fill="#fde725"/>
<circle cx="102.67" cy="303.30" r="1.05" fill="#440154"/>
<circle cx="103.41" cy="302.30" r="1.05" fill="#440154"/>
<circle cx="104.31" cy="301.10" r="1.05" fill="#fde725"/>
<circle cx="105.01" cy="300.15" r="1.05" fill="#fde725"/>
<circle cx="105.87" cy="298.98" r="1.05" fill="#440154"/>
<circle cx="106.53" cy="298.04" r="1.05" fill="#9a7030"/>
<circle cx="107.40" cy="296.78" r="1.05" fill="#440154"/>
<circle cx="107.88" cy="296.04" r="1.05" fill="#440154"/>
<circle cx="108.51" cy="295.09" r="1.05" fill="#440154"/>
<circle cx="109.42" cy="293.66" r="1.05" fill="#440154"/>
<circle cx="110.20" cy="292.41" r="1.05" fill="#440154"/>
<circle cx="110.87" cy="291.35" r="1.05" fill="#9a7030"/>
<circle cx="111.60" cy="290.20" r="1.05" fill="#440154"/>
<circle cx="112.17" cy="289.29" r="1.05" fill="#440154"/>
<circle cx="112.75" cy="288.32" r="1.05" fill="#9a7030"/>
<circle cx="113.36" cy="287.30" r="1.05" fill="#fde725"/>
<circle cx="114.13" cy="285.99" r="1.05" fill="#fde725"/>
<circle cx="114.93" cy="284.65" r="1.05" fill="#440154"/>
<circle cx="115.59" cy="283.58" r="1.05" fill="#fde725"/>
<circle cx="116.26" cy="282.53" r="1.05" fill="#440154"/>
<circle cx="116.95" cy="281.50" r="1.05" fill="#fde725"/>
<circle cx="117.66" cy="280.51" r="1.05" fill="#440154"/>
<circle cx="118.39" cy="279.56" r="1.05" fill="#440154"/>
<circle cx="119.39" cy="278.36" r="1.05" fill="#440154"/>
<circle cx="120.22" cy="277.42" r="1.05" fill="#9a7030"/>
<circle cx="121.07" cy="276.50" r="1.05" fill="#440154"/>
<circle cx="121.93" cy="275.59" r="1.05" fill="#fde725"/>
<circle cx="122.59" cy="274.93" r="1.05" fill="#440154"/>
<circle cx="123.47" cy="274.07" r="1.05" fill="#fde725"/>
<circle cx="124.35" cy="273.24" r="1.05" fill="#440154"/>
<circle cx="125.22" cy="272.44" r="1.05" fill="#fde725"/>
<circle cx="126.29" cy="271.48" r="1.05" fill="#fde725"/>
<circle cx="128.27" cy="269.85" r="1.05" fill="#fde725"/>
<circle cx="131.26" cy="267.73" r="1.05" fill="#fde725"/>
<circle cx="133.75" cy="266.04" r="1.05" fill="#fde725"/>
<circle cx="136.37" cy="264.06" r="1.05" fill="#440154"/>
<circle cx="138.90" cy="262.05" r="1.05" fill="#9a7030"/>
<circle cx="141.12" cy="260.45" r="1.05" fill="#440154"/>
<circle cx="143.23" cy="259.19" r="1.05" fill="#440154"/>
<circle cx="145.93" cy="257.80" r="1.05" fill="#fde725"/>
<circle cx="148.54" cy="256.60" r="1.05" fill="#fde725"/>
<circle cx="151.40" cy="255.37" r="1.00" fill="#fde725"/>
<circle cx="155.75" cy="253.64" r="1.00" fill="#fde725"/>
<circle cx="160.42" cy="252.13" r="1.00" fill="#440154"/>
<circle cx="165.99" cy="250.66" r="1.00" fill="#c8a020"/>
<circle cx="171.71" cy="249.25" r="1.00" fill="#fde725"/>
<circle cx="177.88" cy="247.49" r="1.00" fill="#c8a020"/>
<circle cx="183.56" cy="246.93" r="1.00" fill="#c8a020"/>
<path d="M320.00,224.10 L320.25,224.41 L320.50,224.72 L320.76,225.03" fill="none" stroke="#440154" stroke-width="2.99" stroke-linecap="butt" stroke-linejoin="round"/>
<path d="M321.27,225.64 L321.53,225.95 L321.78,226.26" fill="none" stroke="#440154" stroke-width="2.99" stroke-linecap="butt" stroke-linejoin="round"/>
<path d="M321.78,226.26 L322.03,226.57 L322.29,226.88 L322.54,227.19" fill="none" stroke="#440154" stroke-width="2.99" stroke-linecap="butt" stroke-linejoin="round"/>
<path d="M322.54,227.19 L322.79,227.51 L323.03,227.82 L323.28,228.14 L323.52,228.45" fill="none" stroke="#440154" stroke-width="2.99" stroke-linecap="butt" stroke-linejoin="round"/>
<path d="M324.00,229.09 L324.24,229.42 L324.47,229.74" fill="none" stroke="#440154" stroke-width="2.99" stroke-linecap="butt" stroke-linejoin="round"/>
<path d="M324.70,230.07 L324.93,230.40 L325.15,230.73 L325.38,231.06 L325.59,231.40" fill="none" stroke="#440154" stroke-width="2.99" stroke-linecap="butt" stroke-linejoin="round"/>
<path d="M325.59,231.40 L325.81,231.73 L326.03,232.07 L326.24,232.41" fill="none" stroke="#440154" stroke-width="2.99" stroke-linecap="butt" stroke-linejoin="round"/>
<path d="M326.24,232.41 L326.45,232.75 L326.66,233.09" fill="none" stroke="#440154" stroke-width="2.30" stroke-linecap="butt" stroke-linejoin="round"/>
<path d="M326.66,233.09 L326.87,233.43 L327.08,233.77 L327.28,234.11 L327.49,234.46 L327.70,234.80" fill="none" stroke="#440154" stroke-width="2.30" stroke-linecap="butt" stroke-linejoin="round"/>
<path d="M327.70,234.80 L327.90,235.14 L328.11,235.48 L328.32,235.83 L328.52,236.17" fill="none" stroke="#440154" stroke-width="2.30" stroke-linecap="butt" stroke-linejoin="round"/>
<path d="M330.83,239.92 L331.04,240.25 L331.26,240.59 L331.48,240.92 L331.70,241.26 L331.93,241.59" fill="none" stroke="#440154" stroke-width="2.30" stroke-linecap="butt" stroke-linejoin="round"/>
<path d="M331.93,241.59 L332.15,241.92 L332.38,242.25 L332.61,242.57" fill="none" stroke="#440154" stroke-width="2.30" stroke-linecap="butt" stroke-linejoin="round"/>
<path d="M332.61,242.57 L332.85,242.90 L333.08,243.22 L333.32,243.54" fill="none" stroke="#440154" stroke-width="2.30" stroke-linecap="butt" stroke-linejoin="round"/>
<path d="M333.79,244.19 L334.03,244.51 L334.27,244.83 L334.52,245.14 L334.76,245.46 L335.00,245.78 L335.24,246.10" fill="none" stroke="#440154" stroke-width="2.30" stroke-linecap="butt" stroke-linejoin="round"/>
<path d="M337.88,249.62 L338.11,249.95 L338.34,250.28 L338.57,250.60 L338.79,250.94 L339.01,251.27" fill="none" stroke="#440154" stroke-width="2.30" stroke-linecap="butt" stroke-linejoin="round"/>
<path d="M339.23,251.60 L339.45,251.94 L339.68,252.27" fill="none" stroke="#440154" stroke-width="2.30" stroke-linecap="butt" stroke-linejoin="round"/>
<path d="M339.90,252.60 L340.12,252.93 L340.34,253.27 L340.57,253.60 L340.79,253.93" fill="none" stroke="#440154" stroke-width="2.30" stroke-linecap="butt" stroke-linejoin="round"/>
<path d="M340.79,253.93 L341.01,254.27 L341.23,254.60 L341.44,254.94" fill="none" stroke="#440154" stroke-width="2.30" stroke-linecap="butt" stroke-linejoin="round"/>
<path d="M344.59,260.51 L344.77,260.86 L344.96,261.22 L345.14,261.58" fill="none" stroke="#440154" stroke-width="2.30" stroke-linecap="butt" stroke-linejoin="round"/>
<path d="M345.14,261.58 L345.32,261.93 L345.50,262.29 L345.67,262.65 L345.85,263.01" fill="none" stroke="#440154" stroke-width="2.30" stroke-linecap="butt" stroke-linejoin="round"/>
<path d="M346.37,264.09 L346.55,264.45 L346.72,264.81 L346.89,265.17 L347.06,265.53" fill="none" stroke="#440154" stroke-width="2.30" stroke-linecap="butt" stroke-linejoin="round"/>
<path d="M347.06,265.53 L347.23,265.89 L347.40,266.25 L347.57,266.62 L347.74,266.98 L347.91,267.34 L348.08,267.70" fill="none" stroke="#440154" stroke-width="2.30" stroke-linecap="butt" stroke-linejoin="round"/>
<path d="M348.25,268.07 L348.42,268.43 L348.59,268.79 L348.76,269.16" fill="none" stroke="#440154" stroke-width="2.30" stroke-linecap="butt" stroke-linejoin="round"/>
<path d="M348.76,269.16 L348.92,269.52 L349.09,269.88 L349.26,270.24 L349.43,270.61 L349.59,270.97 L349.76,271.34" fill="none" stroke="#440154" stroke-width="2.30" stroke-linecap="butt" stroke-linejoin="round"/>
<path d="M349.76,271.34 L349.93,271.70 L350.09,272.06" fill="none" stroke="#440154" stroke-width="2.30" stroke-linecap="butt" stroke-linejoin="round"/>
<path d="M350.42,272.79 L350.59,273.15 L350.76,273.52" fill="none" stroke="#440154" stroke-width="2.30" stroke-linecap="butt" stroke-linejoin="round"/>
<path d="M350.76,273.52 L350.92,273.88 L351.09,274.25 L351.25,274.61 L351.42,274.97 L351.59,275.34 L351.75,275.70 L351.92,276.07" fill="none" stroke="#440154" stroke-width="2.30" stroke-linecap="butt" stroke-linejoin="round"/>
<path d="M352.91,278.25 L353.08,278.61 L353.24,278.98 L353.41,279.34 L353.57,279.71" fill="none" stroke="#440154" stroke-width="2.30" stroke-linecap="butt" stroke-linejoin="round"/>
<path d="M353.74,280.07 L353.91,280.43 L354.07,280.80 L354.24,281.16 L354.40,281.53 L354.57,281.89" fill="none" stroke="#440154" stroke-width="2.30" stroke-linecap="butt" stroke-linejoin="round"/>
<path d="M354.74,282.25 L354.90,282.62 L355.07,282.98 L355.24,283.35 L355.40,283.71 L355.57,284.07 L355.74,284.44" fill="none" stroke="#440154" stroke-width="2.30" stroke-linecap="butt" stroke-linejoin="round"/>
<path d="M355.74,284.44 L355.91,284.80 L356.07,285.16 L356.24,285.52 L356.41,285.89" fill="none" stroke="#440154" stroke-width="2.30" stroke-linecap="butt" stroke-linejoin="round"/>
<path d="M357.25,287.70 L357.42,288.06 L357.59,288.42 L357.77,288.79 L357.94,289.15 L358.11,289.51 L358.28,289.87" fill="none" stroke="#440154" stroke-width="2.30" stroke-linecap="butt" stroke-linejoin="round"/>
<path d="M359.15,291.67 L359.33,292.03 L359.50,292.39 L359.68,292.75 L359.85,293.11 L360.03,293.47 L360.21,293.82" fill="none" stroke="#440154" stroke-width="2.30" stroke-linecap="butt" stroke-linejoin="round"/>
<path d="M360.74,294.90 L360.92,295.26 L361.10,295.61 L361.28,295.97 L361.46,296.33 L361.64,296.69 L361.82,297.04" fill="none" stroke="#440154" stroke-width="2.30" stroke-linecap="butt" stroke-linejoin="round"/>
<path d="M362.00,297.40 L362.18,297.76 L362.36,298.11 L362.55,298.47 L362.73,298.83 L362.91,299.18 L363.09,299.54 L363.27,299.90" fill="none" stroke="#440154" stroke-width="2.30" stroke-linecap="butt" stroke-linejoin="round"/>
<path d="M364.73,302.74 L364.91,303.10 L365.09,303.46 L365.27,303.81 L365.45,304.17 L365.63,304.53 L365.81,304.89 L365.99,305.24" fill="none" stroke="#440154" stroke-width="2.30" stroke-linecap="butt" stroke-linejoin="round"/>
<path d="M365.99,305.24 L366.17,305.60 L366.35,305.96 L366.53,306.32 L366.71,306.67 L366.88,307.03 L367.06,307.39" fill="none" stroke="#440154" stroke-width="2.30" stroke-linecap="butt" stroke-linejoin="round"/>
<path d="M367.06,307.39 L367.24,307.75 L367.41,308.11 L367.59,308.47 L367.76,308.83 L367.93,309.19 L368.10,309.56 L368.27,309.92" fill="none" stroke="#440154" stroke-width="2.30" stroke-linecap="butt" stroke-linejoin="round"/>
<path d="M368.61,310.64 L368.77,311.01 L368.94,311.37 L369.10,311.74" fill="none" stroke="#440154" stroke-width="2.30" stroke-linecap="butt" stroke-linejoin="round"/>
<path d="M370.23,314.30 L370.39,314.67 L370.55,315.03 L370.70,315.40 L370.86,315.77 L371.02,316.14 L371.18,316.50" fill="none" stroke="#440154" stroke-width="2.30" stroke-linecap="butt" stroke-linejoin="round"/>
<path d="M371.18,316.50 L371.34,316.87 L371.50,317.24 L371.66,317.60 L371.82,317.97 L371.98,318.33 L372.15,318.70" fill="none" stroke="#440154" stroke-width="2.30" stroke-linecap="butt" stroke-linejoin="round"/>
<path d="M372.15,318.70 L372.31,319.06 L372.48,319.43 L372.64,319.79 L372.81,320.16" fill="none" stroke="#440154" stroke-width="2.30" stroke-linecap="butt" stroke-linejoin="round"/>
<path d="M372.81,320.16 L372.98,320.52 L373.15,320.88 L373.32,321.24 L373.50,321.60 L373.67,321.96" fill="none" stroke="#440154" stroke-width="2.30" stroke-linecap="butt" stroke-linejoin="round"/>
<path d="M374.97,324.44 L375.16,324.79 L375.36,325.14 L375.56,325.49" fill="none" stroke="#440154" stroke-width="2.30" stroke-linecap="butt" stroke-linejoin="round"/>
<path d="M375.76,325.83 L375.97,326.17 L376.17,326.52 L376.38,326.86 L376.59,327.20 L376.81,327.54 L377.02,327.88" fill="none" stroke="#440154" stroke-width="2.30" stroke-linecap="butt" stroke-linejoin="round"/>
<path d="M378.34,329.88 L378.56,330.21 L378.79,330.54 L379.01,330.87 L379.24,331.20 L379.47,331.53 L379.69,331.86" fill="none" stroke="#440154" stroke-width="2.30" stroke-linecap="butt" stroke-linejoin="round"/>
<path d="M380.15,332.52 L380.38,332.84 L380.61,333.17 L380.84,333.50 L381.07,333.83 L381.30,334.15" fill="none" stroke="#440154" stroke-width="2.30" stroke-linecap="butt" stroke-linejoin="round"/>
<path d="M381.30,334.15 L381.53,334.48 L381.76,334.81 L381.99,335.13 L382.22,335.46 L382.45,335.79 L382.68,336.12" fill="none" stroke="#440154" stroke-width="2.30" stroke-linecap="butt" stroke-linejoin="round"/>
<path d="M382.68,336.12 L382.91,336.45 L383.14,336.78 L383.36,337.11 L383.59,337.44 L383.81,337.77" fill="none" stroke="#440154" stroke-width="2.30" stroke-linecap="butt" stroke-linejoin="round"/>
<path d="M383.81,337.77 L384.03,338.10 L384.25,338.43 L384.47,338.77 L384.69,339.10 L384.91,339.44 L385.13,339.77 L385.34,340.11" fill="none" stroke="#440154" stroke-width="2.30" stroke-linecap="butt" stroke-linejoin="round"/>
<path d="M386.62,342.14 L386.83,342.48 L387.04,342.82 L387.25,343.16 L387.46,343.50 L387.67,343.84 L387.89,344.18" fill="none" stroke="#440154" stroke-width="2.30" stroke-linecap="butt" stroke-linejoin="round"/>
<path d="M387.89,344.18 L388.10,344.52 L388.31,344.86" fill="none" stroke="#440154" stroke-width="2.30" stroke-linecap="butt" stroke-linejoin="round"/>
<path d="M389.82,347.22 L390.04,347.55 L390.27,347.88 L390.49,348.21 L390.72,348.54 L390.94,348.87 L391.18,349.20" fill="none" stroke="#440154" stroke-width="2.30" stroke-linecap="butt" stroke-linejoin="round"/>
<path d="M391.18,349.20 L391.41,349.52 L391.65,349.85 L391.88,350.17 L392.13,350.49 L392.37,350.80 L392.62,351.11" fill="none" stroke="#440154" stroke-width="2.30" stroke-linecap="butt" stroke-linejoin="round"/>
<path d="M394.22,352.90 L394.50,353.19 L394.79,353.47 L395.08,353.74 L395.37,354.02" fill="none" stroke="#440154" stroke-width="2.30" stroke-linecap="butt" stroke-linejoin="round"/>
<path d="M397.53,355.80 L397.85,356.04 L398.17,356.27 L398.50,356.50 L398.83,356.73" fill="none" stroke="#440154" stroke-width="2.30" stroke-linecap="butt" stroke-linejoin="round"/>
<path d="M401.14,358.31 L401.47,358.53 L401.80,358.76 L402.13,358.98 L402.46,359.21 L402.79,359.44 L403.12,359.66" fill="none" stroke="#440154" stroke-width="2.30" stroke-linecap="butt" stroke-linejoin="round"/>
<path d="M403.12,359.66 L403.46,359.88 L403.79,360.10 L404.13,360.32 L404.46,360.53" fill="none" stroke="#440154" stroke-width="2.30" stroke-linecap="butt" stroke-linejoin="round"/>
<path d="M404.46,360.53 L404.80,360.74 L405.14,360.95 L405.49,361.16 L405.83,361.37" fill="none" stroke="#440154" stroke-width="2.30" stroke-linecap="butt" stroke-linejoin="round"/>
<path d="M405.83,361.37 L406.17,361.57 L406.52,361.78 L406.86,361.98 L407.21,362.18 L407.56,362.37 L407.91,362.57 L408.25,362.77" fill="none" stroke="#440154" stroke-width="2.30" stroke-linecap="butt" stroke-linejoin="round"/>
<path d="M410.00,363.74 L410.36,363.93 L410.71,364.12" fill="none" stroke="#440154" stroke-width="2.30" stroke-linecap="butt" stroke-linejoin="round"/>
<path d="M412.46,365.09 L412.81,365.28 L413.15,365.48 L413.50,365.67 L413.85,365.87 L414.20,366.07" fill="none" stroke="#440154" stroke-width="2.30" stroke-linecap="butt" stroke-linejoin="round"/>
<path d="M414.20,366.07 L414.55,366.26 L414.90,366.45 L415.25,366.64 L415.60,366.84 L415.96,367.02" fill="none" stroke="#440154" stroke-width="2.30" stroke-linecap="butt" stroke-linejoin="round"/>
<path d="M415.96,367.02 L416.31,367.21 L416.66,367.40 L417.02,367.58 L417.38,367.76" fill="none" stroke="#440154" stroke-width="2.30" stroke-linecap="butt" stroke-linejoin="round"/>
<path d="M417.38,367.76 L417.74,367.93 L418.10,368.10 L418.46,368.27 L418.83,368.43" fill="none" stroke="#440154" stroke-width="2.30" stroke-linecap="butt" stroke-linejoin="round"/>
<path d="M418.83,368.43 L419.20,368.59 L419.57,368.75 L419.94,368.89" fill="none" stroke="#440154" stroke-width="2.30" stroke-linecap="butt" stroke-linejoin="round"/>
<path d="M419.94,368.89 L420.31,369.03 L420.69,369.17 L421.07,369.29 L421.45,369.42 L421.83,369.54 L422.21,369.65 L422.60,369.77" fill="none" stroke="#440154" stroke-width="2.30" stroke-linecap="butt" stroke-linejoin="round"/>
<path d="M423.76,370.07 L424.15,370.16 L424.54,370.25 L424.93,370.33 L425.32,370.41 L425.72,370.48 L426.11,370.54" fill="none" stroke="#440154" stroke-width="2.30" stroke-linecap="butt" stroke-linejoin="round"/>
<path d="M433.28,370.77 L433.68,370.73 L434.08,370.69 L434.48,370.64" fill="none" stroke="#440154" stroke-width="2.30" stroke-linecap="butt" stroke-linejoin="round"/>
<path d="M434.48,370.64 L434.87,370.59 L435.27,370.54 L435.67,370.48 L436.06,370.42 L436.46,370.36" fill="none" stroke="#440154" stroke-width="2.30" stroke-linecap="butt" stroke-linejoin="round"/>
<path d="M437.25,370.23 L437.64,370.17 L438.03,370.10" fill="none" stroke="#440154" stroke-width="2.30" stroke-linecap="butt" stroke-linejoin="round"/>
<path d="M328.52,236.17 L328.73,236.51 L328.94,236.85 L329.14,237.20 L329.35,237.54 L329.56,237.88" fill="none" stroke="#fde725" stroke-width="2.07" stroke-linecap="butt" stroke-linejoin="round"/>
<path d="M329.98,238.56 L330.19,238.90 L330.40,239.24 L330.61,239.58 L330.83,239.92" fill="none" stroke="#fde725" stroke-width="2.07" stroke-linecap="butt" stroke-linejoin="round"/>
<path d="M335.24,246.10 L335.49,246.42 L335.73,246.73 L335.97,247.05 L336.21,247.37 L336.46,247.69" fill="none" stroke="#fde725" stroke-width="2.07" stroke-linecap="butt" stroke-linejoin="round"/>
<path d="M336.70,248.01 L336.94,248.33 L337.17,248.65 L337.41,248.97 L337.65,249.30 L337.88,249.62" fill="none" stroke="#fde725" stroke-width="2.07" stroke-linecap="butt" stroke-linejoin="round"/>
<path d="M341.66,255.27 L341.87,255.61 L342.08,255.95 L342.29,256.30 L342.49,256.64 L342.69,256.99 L342.89,257.33 L343.09,257.68" fill="none" stroke="#fde725" stroke-width="2.07" stroke-linecap="butt" stroke-linejoin="round"/>
<path d="M343.09,257.68 L343.28,258.03 L343.47,258.38 L343.66,258.74 L343.85,259.09" fill="none" stroke="#fde725" stroke-width="2.07" stroke-linecap="butt" stroke-linejoin="round"/>
<path d="M343.85,259.09 L344.04,259.44 L344.22,259.80 L344.41,260.15 L344.59,260.51" fill="none" stroke="#fde725" stroke-width="2.07" stroke-linecap="butt" stroke-linejoin="round"/>
<path d="M346.03,263.37 L346.20,263.73 L346.37,264.09" fill="none" stroke="#fde725" stroke-width="2.07" stroke-linecap="butt" stroke-linejoin="round"/>
<path d="M352.25,276.79 L352.41,277.16 L352.58,277.52 L352.75,277.89 L352.91,278.25" fill="none" stroke="#fde725" stroke-width="2.07" stroke-linecap="butt" stroke-linejoin="round"/>
<path d="M356.58,286.25 L356.75,286.61 L356.91,286.98 L357.08,287.34 L357.25,287.70" fill="none" stroke="#fde725" stroke-width="2.07" stroke-linecap="butt" stroke-linejoin="round"/>
<path d="M358.45,290.23 L358.63,290.59 L358.80,290.95 L358.98,291.31 L359.15,291.67" fill="none" stroke="#fde725" stroke-width="2.07" stroke-linecap="butt" stroke-linejoin="round"/>
<path d="M360.21,293.82 L360.39,294.18 L360.56,294.54 L360.74,294.90" fill="none" stroke="#fde725" stroke-width="2.07" stroke-linecap="butt" stroke-linejoin="round"/>
<path d="M363.27,299.90 L363.46,300.25 L363.64,300.61 L363.82,300.96 L364.00,301.32 L364.18,301.68 L364.37,302.03 L364.55,302.39" fill="none" stroke="#fde725" stroke-width="2.07" stroke-linecap="butt" stroke-linejoin="round"/>
<path d="M369.10,311.74 L369.26,312.10 L369.43,312.47 L369.59,312.83 L369.75,313.20 L369.91,313.57 L370.07,313.93" fill="none" stroke="#fde725" stroke-width="2.07" stroke-linecap="butt" stroke-linejoin="round"/>
<path d="M373.85,322.32 L374.03,322.68 L374.21,323.03 L374.40,323.39 L374.59,323.74 L374.78,324.09 L374.97,324.44" fill="none" stroke="#fde725" stroke-width="2.07" stroke-linecap="butt" stroke-linejoin="round"/>
<path d="M377.45,328.55 L377.67,328.88 L377.89,329.22 L378.11,329.55 L378.34,329.88" fill="none" stroke="#fde725" stroke-width="2.07" stroke-linecap="butt" stroke-linejoin="round"/>
<path d="M385.56,340.45 L385.77,340.79 L385.98,341.13 L386.19,341.47 L386.41,341.81 L386.62,342.14" fill="none" stroke="#fde725" stroke-width="2.07" stroke-linecap="butt" stroke-linejoin="round"/>
<path d="M388.31,344.86 L388.52,345.20 L388.74,345.54 L388.95,345.87 L389.17,346.21 L389.38,346.55" fill="none" stroke="#fde725" stroke-width="2.07" stroke-linecap="butt" stroke-linejoin="round"/>
<path d="M392.62,351.11 L392.88,351.42 L393.14,351.73 L393.40,352.03 L393.67,352.32 L393.94,352.62" fill="none" stroke="#fde725" stroke-width="2.07" stroke-linecap="butt" stroke-linejoin="round"/>
<path d="M395.97,354.55 L396.27,354.80 L396.58,355.06 L396.90,355.31 L397.21,355.55" fill="none" stroke="#fde725" stroke-width="2.07" stroke-linecap="butt" stroke-linejoin="round"/>
<path d="M399.15,356.96 L399.48,357.19 L399.81,357.41 L400.15,357.64" fill="none" stroke="#fde725" stroke-width="2.07" stroke-linecap="butt" stroke-linejoin="round"/>
<path d="M400.15,357.64 L400.48,357.86 L400.81,358.08 L401.14,358.31" fill="none" stroke="#fde725" stroke-width="2.07" stroke-linecap="butt" stroke-linejoin="round"/>
<path d="M408.60,362.96 L408.95,363.16 L409.30,363.35 L409.65,363.54 L410.00,363.74" fill="none" stroke="#fde725" stroke-width="2.07" stroke-linecap="butt" stroke-linejoin="round"/>
<path d="M410.71,364.12 L411.06,364.31 L411.41,364.50 L411.76,364.70 L412.11,364.89 L412.46,365.09" fill="none" stroke="#fde725" stroke-width="2.07" stroke-linecap="butt" stroke-linejoin="round"/>
<path d="M422.60,369.77 L422.98,369.87 L423.37,369.97 L423.76,370.07" fill="none" stroke="#fde725" stroke-width="2.07" stroke-linecap="butt" stroke-linejoin="round"/>
<path d="M426.11,370.54 L426.50,370.60 L426.90,370.66 L427.30,370.71" fill="none" stroke="#fde725" stroke-width="2.07" stroke-linecap="butt" stroke-linejoin="round"/>
<path d="M427.70,370.76 L428.09,370.80 L428.49,370.83 L428.89,370.86 L429.29,370.89 L429.69,370.91 L430.09,370.92 L430.49,370.92" fill="none" stroke="#fde725" stroke-width="2.07" stroke-linecap="butt" stroke-linejoin="round"/>
<path d="M430.49,370.92 L430.89,370.92 L431.29,370.91 L431.69,370.89 L432.09,370.87 L432.49,370.84" fill="none" stroke="#fde725" stroke-width="2.07" stroke-linecap="butt" stroke-linejoin="round"/>
<path d="M432.49,370.84 L432.89,370.81 L433.28,370.77" fill="none" stroke="#fde725" stroke-width="2.07" stroke-linecap="butt" stroke-linejoin="round"/>
<path d="M438.03,370.10 L438.43,370.03 L438.82,369.96 L439.22,369.88 L439.61,369.80 L440.00,369.71 L440.38,369.61 L440.77,369.51" fill="none" stroke="#fde725" stroke-width="2.07" stroke-linecap="butt" stroke-linejoin="round"/>
<path d="M440.77,369.51 L441.16,369.40 L441.54,369.29 L441.92,369.18 L442.31,369.06 L442.69,368.94" fill="none" stroke="#fde725" stroke-width="2.07" stroke-linecap="butt" stroke-linejoin="round"/>
<path d="M443.07,368.82 L443.45,368.70 L443.83,368.57 L444.21,368.45 L444.59,368.32" fill="none" stroke="#fde725" stroke-width="2.07" stroke-linecap="butt" stroke-linejoin="round"/>
<path d="M444.59,368.32 L444.97,368.21" fill="none" stroke="#fde725" stroke-width="2.07" stroke-linecap="butt" stroke-linejoin="round"/>
<circle cx="320.60" cy="224.60" r="1.50" fill="#440154"/>
<circle cx="324.50" cy="229.50" r="1.90" fill="#440154"/>
<circle cx="444.50" cy="368.20" r="1.60" fill="#440154"/>
<path d="M450.57,365.86 L450.93,365.68 L451.29,365.50 L451.64,365.32" fill="none" stroke="#fde725" stroke-width="2.30" stroke-linecap="butt" stroke-linejoin="round"/>
<path d="M451.64,365.32 L452.00,365.14 L452.36,364.96 L452.71,364.78 L453.07,364.59" fill="none" stroke="#fde725" stroke-width="2.30" stroke-linecap="butt" stroke-linejoin="round"/>
<path d="M455.88,363.07 L456.23,362.87 L456.57,362.66 L456.92,362.46 L457.26,362.26 L457.61,362.05 L457.95,361.85" fill="none" stroke="#fde725" stroke-width="2.30" stroke-linecap="butt" stroke-linejoin="round"/>
<path d="M458.63,361.43 L458.97,361.22 L459.30,361.00 L459.64,360.78 L459.97,360.55" fill="none" stroke="#fde725" stroke-width="2.30" stroke-linecap="butt" stroke-linejoin="round"/>
<path d="M463.09,358.05 L463.38,357.78 L463.67,357.51 L463.97,357.24 L464.26,356.96" fill="none" stroke="#fde725" stroke-width="2.30" stroke-linecap="butt" stroke-linejoin="round"/>
<path d="M464.26,356.96 L464.55,356.69 L464.84,356.41 L465.12,356.13 L465.41,355.85 L465.70,355.57" fill="none" stroke="#fde725" stroke-width="2.30" stroke-linecap="butt" stroke-linejoin="round"/>
<path d="M465.70,355.57 L465.98,355.29 L466.27,355.01" fill="none" stroke="#fde725" stroke-width="2.30" stroke-linecap="butt" stroke-linejoin="round"/>
<path d="M467.12,354.17 L467.40,353.88 L467.68,353.60 L467.97,353.32" fill="none" stroke="#fde725" stroke-width="2.30" stroke-linecap="butt" stroke-linejoin="round"/>
<path d="M467.97,353.32 L468.25,353.04 L468.53,352.75 L468.82,352.47 L469.10,352.19" fill="none" stroke="#fde725" stroke-width="2.30" stroke-linecap="butt" stroke-linejoin="round"/>
<path d="M449.50,366.40 L449.86,366.22 L450.21,366.04 L450.57,365.86" fill="none" stroke="#440154" stroke-width="2.07" stroke-linecap="butt" stroke-linejoin="round"/>
<path d="M453.07,364.59 L453.42,364.41 L453.78,364.22 L454.13,364.04" fill="none" stroke="#440154" stroke-width="2.07" stroke-linecap="butt" stroke-linejoin="round"/>
<path d="M454.13,364.04 L454.49,363.85 L454.84,363.66 L455.19,363.47 L455.54,363.27 L455.88,363.07" fill="none" stroke="#440154" stroke-width="2.07" stroke-linecap="butt" stroke-linejoin="round"/>
<path d="M459.97,360.55 L460.29,360.32 L460.62,360.08 L460.94,359.84 L461.25,359.60 L461.57,359.35" fill="none" stroke="#440154" stroke-width="2.07" stroke-linecap="butt" stroke-linejoin="round"/>
<path d="M461.88,359.10 L462.18,358.84 L462.49,358.58" fill="none" stroke="#440154" stroke-width="2.07" stroke-linecap="butt" stroke-linejoin="round"/>
<path d="M466.27,355.01 L466.55,354.73 L466.83,354.45 L467.12,354.17" fill="none" stroke="#440154" stroke-width="2.07" stroke-linecap="butt" stroke-linejoin="round"/>
<path d="M469.10,352.19 L469.39,351.91" fill="none" stroke="#440154" stroke-width="2.07" stroke-linecap="butt" stroke-linejoin="round"/>
<circle cx="470.50" cy="350.50" r="1.10" fill="#440154"/>
<path d="M481.20,331.80 L481.35,331.43 L481.50,331.06 L481.65,330.69 L481.81,330.32" fill="none" stroke="#fde725" stroke-width="2.50" stroke-linecap="butt" stroke-linejoin="round"/>
<path d="M482.12,329.58 L482.28,329.21 L482.43,328.85" fill="none" stroke="#fde725" stroke-width="2.50" stroke-linecap="butt" stroke-linejoin="round"/>
<path d="M482.43,328.85 L482.58,328.48 L482.73,328.10" fill="none" stroke="#fde725" stroke-width="2.50" stroke-linecap="butt" stroke-linejoin="round"/>
<path d="M482.73,328.10 L482.88,327.73 L483.03,327.36" fill="none" stroke="#fde725" stroke-width="2.50" stroke-linecap="butt" stroke-linejoin="round"/>
<path d="M483.73,325.49 L483.87,325.11 L484.00,324.74" fill="none" stroke="#fde725" stroke-width="2.50" stroke-linecap="butt" stroke-linejoin="round"/>
<path d="M484.53,323.23 L484.65,322.85 L484.78,322.47 L484.90,322.09 L485.03,321.71 L485.15,321.32" fill="none" stroke="#fde725" stroke-width="2.50" stroke-linecap="butt" stroke-linejoin="round"/>
<path d="M485.75,319.42 L485.87,319.03 L485.99,318.65" fill="none" stroke="#fde725" stroke-width="2.50" stroke-linecap="butt" stroke-linejoin="round"/>
<path d="M486.57,316.74 L486.69,316.36 L486.80,315.97 L486.92,315.59 L487.04,315.21 L487.15,314.83" fill="none" stroke="#fde725" stroke-width="2.50" stroke-linecap="butt" stroke-linejoin="round"/>
<path d="M487.15,314.83 L487.27,314.44 L487.38,314.06 L487.50,313.68 L487.61,313.29" fill="none" stroke="#fde725" stroke-width="2.50" stroke-linecap="butt" stroke-linejoin="round"/>
<path d="M487.61,313.29 L487.73,312.91 L487.84,312.53 L487.95,312.14 L488.07,311.76 L488.18,311.38" fill="none" stroke="#fde725" stroke-width="2.50" stroke-linecap="butt" stroke-linejoin="round"/>
<path d="M488.18,311.38 L488.30,310.99 L488.41,310.61" fill="none" stroke="#fde725" stroke-width="2.50" stroke-linecap="butt" stroke-linejoin="round"/>
<path d="M488.41,310.61 L488.52,310.23 L488.64,309.84 L488.75,309.46" fill="none" stroke="#fde725" stroke-width="2.50" stroke-linecap="butt" stroke-linejoin="round"/>
<path d="M488.86,309.08 L488.98,308.69 L489.09,308.31" fill="none" stroke="#fde725" stroke-width="2.50" stroke-linecap="butt" stroke-linejoin="round"/>
<path d="M489.09,308.31 L489.20,307.92 L489.32,307.54 L489.43,307.16 L489.54,306.77 L489.65,306.39" fill="none" stroke="#fde725" stroke-width="2.50" stroke-linecap="butt" stroke-linejoin="round"/>
<path d="M489.65,306.39 L489.77,306.01 L489.88,305.62 L489.99,305.24 L490.10,304.85" fill="none" stroke="#fde725" stroke-width="2.50" stroke-linecap="butt" stroke-linejoin="round"/>
<path d="M490.10,304.85 L490.22,304.47 L490.33,304.09 L490.44,303.70" fill="none" stroke="#fde725" stroke-width="2.50" stroke-linecap="butt" stroke-linejoin="round"/>
<path d="M490.44,303.70 L490.55,303.32 L490.66,302.93" fill="none" stroke="#fde725" stroke-width="2.50" stroke-linecap="butt" stroke-linejoin="round"/>
<path d="M490.66,302.93 L490.77,302.55 L490.89,302.17 L491.00,301.78" fill="none" stroke="#fde725" stroke-width="2.50" stroke-linecap="butt" stroke-linejoin="round"/>
<path d="M491.00,301.78 L491.11,301.40 L491.22,301.01 L491.33,300.63 L491.44,300.24 L491.55,299.86 L491.66,299.48" fill="none" stroke="#fde725" stroke-width="2.50" stroke-linecap="butt" stroke-linejoin="round"/>
<path d="M491.66,299.48 L491.78,299.09 L491.89,298.71 L492.00,298.32 L492.11,297.94 L492.22,297.55 L492.33,297.17" fill="none" stroke="#fde725" stroke-width="2.50" stroke-linecap="butt" stroke-linejoin="round"/>
<path d="M492.33,297.17 L492.44,296.78 L492.55,296.40" fill="none" stroke="#fde725" stroke-width="2.50" stroke-linecap="butt" stroke-linejoin="round"/>
<path d="M493.09,294.48 L493.20,294.09 L493.31,293.70 L493.41,293.32 L493.52,292.93 L493.63,292.55" fill="none" stroke="#fde725" stroke-width="2.50" stroke-linecap="butt" stroke-linejoin="round"/>
<path d="M494.27,290.24 L494.37,289.85 L494.48,289.46 L494.58,289.08 L494.69,288.69" fill="none" stroke="#fde725" stroke-width="2.50" stroke-linecap="butt" stroke-linejoin="round"/>
<path d="M494.69,288.69 L494.79,288.31 L494.89,287.92 L495.00,287.53" fill="none" stroke="#fde725" stroke-width="2.50" stroke-linecap="butt" stroke-linejoin="round"/>
<path d="M495.41,285.99 L495.51,285.60 L495.61,285.21 L495.71,284.83 L495.81,284.44 L495.91,284.05" fill="none" stroke="#fde725" stroke-width="2.50" stroke-linecap="butt" stroke-linejoin="round"/>
<path d="M496.73,280.55 L496.81,280.15 L496.88,279.76 L496.94,279.36 L497.01,278.97 L497.07,278.57" fill="none" stroke="#fde725" stroke-width="2.50" stroke-linecap="butt" stroke-linejoin="round"/>
<path d="M497.07,278.57 L497.14,278.18 L497.21,277.79 L497.28,277.39" fill="none" stroke="#fde725" stroke-width="2.50" stroke-linecap="butt" stroke-linejoin="round"/>
<path d="M497.51,276.22 L497.59,275.82 L497.68,275.43 L497.77,275.04 L497.85,274.65" fill="none" stroke="#fde725" stroke-width="2.50" stroke-linecap="butt" stroke-linejoin="round"/>
<path d="M497.94,274.26 L498.03,273.87 L498.12,273.48 L498.21,273.09" fill="none" stroke="#fde725" stroke-width="2.50" stroke-linecap="butt" stroke-linejoin="round"/>
<path d="M498.21,273.09 L498.30,272.70 L498.39,272.31 L498.48,271.92" fill="none" stroke="#fde725" stroke-width="2.50" stroke-linecap="butt" stroke-linejoin="round"/>
<path d="M498.48,271.92 L498.57,271.53 L498.66,271.14 L498.75,270.75" fill="none" stroke="#fde725" stroke-width="2.50" stroke-linecap="butt" stroke-linejoin="round"/>
<path d="M498.75,270.75 L498.84,270.36 L498.93,269.97 L499.02,269.59 L499.11,269.20 L499.20,268.81" fill="none" stroke="#fde725" stroke-width="2.50" stroke-linecap="butt" stroke-linejoin="round"/>
<path d="M499.65,266.86 L499.73,266.47 L499.82,266.08 L499.91,265.68 L499.99,265.29 L500.08,264.90" fill="none" stroke="#fde725" stroke-width="2.50" stroke-linecap="butt" stroke-linejoin="round"/>
<path d="M500.49,262.95 L500.57,262.55 L500.65,262.16" fill="none" stroke="#fde725" stroke-width="2.50" stroke-linecap="butt" stroke-linejoin="round"/>
<path d="M500.65,262.16 L500.72,261.77 L500.79,261.38 L500.86,260.98" fill="none" stroke="#fde725" stroke-width="2.50" stroke-linecap="butt" stroke-linejoin="round"/>
<path d="M501.00,260.19 L501.06,259.80 L501.13,259.40 L501.19,259.01" fill="none" stroke="#fde725" stroke-width="2.50" stroke-linecap="butt" stroke-linejoin="round"/>
<path d="M501.25,258.61 L501.31,258.22 L501.37,257.82 L501.43,257.43 L501.49,257.03" fill="none" stroke="#fde725" stroke-width="2.50" stroke-linecap="butt" stroke-linejoin="round"/>
<path d="M501.55,256.64 L501.60,256.24 L501.66,255.84 L501.72,255.45 L501.77,255.05 L501.82,254.65 L501.88,254.26" fill="none" stroke="#fde725" stroke-width="2.50" stroke-linecap="butt" stroke-linejoin="round"/>
<path d="M501.99,253.47 L502.05,253.07" fill="none" stroke="#fde725" stroke-width="2.50" stroke-linecap="butt" stroke-linejoin="round"/>
<path d="M483.03,327.36 L483.17,326.99 L483.31,326.61 L483.46,326.24 L483.60,325.87" fill="none" stroke="#440154" stroke-width="2.00" stroke-linecap="butt" stroke-linejoin="round"/>
<path d="M484.00,324.74 L484.14,324.36 L484.27,323.98 L484.40,323.60 L484.53,323.23" fill="none" stroke="#440154" stroke-width="2.00" stroke-linecap="butt" stroke-linejoin="round"/>
<path d="M485.15,321.32 L485.27,320.94 L485.39,320.56 L485.51,320.18 L485.63,319.80 L485.75,319.42" fill="none" stroke="#440154" stroke-width="2.00" stroke-linecap="butt" stroke-linejoin="round"/>
<path d="M485.99,318.65 L486.10,318.27 L486.22,317.89 L486.34,317.51" fill="none" stroke="#440154" stroke-width="2.00" stroke-linecap="butt" stroke-linejoin="round"/>
<path d="M492.55,296.40 L492.65,296.01 L492.76,295.63 L492.87,295.25 L492.98,294.86" fill="none" stroke="#440154" stroke-width="2.00" stroke-linecap="butt" stroke-linejoin="round"/>
<path d="M493.63,292.55 L493.73,292.16 L493.84,291.78 L493.95,291.39 L494.05,291.01" fill="none" stroke="#440154" stroke-width="2.00" stroke-linecap="butt" stroke-linejoin="round"/>
<path d="M494.05,291.01 L494.16,290.62 L494.27,290.24" fill="none" stroke="#440154" stroke-width="2.00" stroke-linecap="butt" stroke-linejoin="round"/>
<path d="M495.00,287.53 L495.10,287.15 L495.20,286.76" fill="none" stroke="#440154" stroke-width="2.00" stroke-linecap="butt" stroke-linejoin="round"/>
<path d="M495.91,284.05 L496.01,283.66 L496.11,283.27 L496.20,282.89" fill="none" stroke="#440154" stroke-width="2.00" stroke-linecap="butt" stroke-linejoin="round"/>
<path d="M496.20,282.89 L496.30,282.50 L496.39,282.11 L496.48,281.72" fill="none" stroke="#440154" stroke-width="2.00" stroke-linecap="butt" stroke-linejoin="round"/>
<path d="M496.48,281.72 L496.57,281.33 L496.65,280.94 L496.73,280.55" fill="none" stroke="#440154" stroke-width="2.00" stroke-linecap="butt" stroke-linejoin="round"/>
<path d="M497.28,277.39 L497.35,277.00 L497.43,276.61 L497.51,276.22" fill="none" stroke="#440154" stroke-width="2.00" stroke-linecap="butt" stroke-linejoin="round"/>
<path d="M499.20,268.81 L499.29,268.42 L499.38,268.03 L499.47,267.64 L499.56,267.25 L499.65,266.86" fill="none" stroke="#440154" stroke-width="2.00" stroke-linecap="butt" stroke-linejoin="round"/>
<path d="M500.08,264.90 L500.16,264.51 L500.25,264.12 L500.33,263.73 L500.41,263.34 L500.49,262.95" fill="none" stroke="#440154" stroke-width="2.00" stroke-linecap="butt" stroke-linejoin="round"/>
<path d="M501.88,254.26 L501.93,253.86 L501.99,253.47" fill="none" stroke="#440154" stroke-width="2.00" stroke-linecap="butt" stroke-linejoin="round"/>
<circle cx="497.60" cy="275.80" r="1.80" fill="#fde725"/>
<circle cx="46.10" cy="450.00" r="1.30" fill="#440154"/>
<path d="M41.2,453.0 Q46.2,457.2 51.4,453.2" fill="none" stroke="#440154" stroke-width="2.1" stroke-linecap="round"/>
<circle cx="46.10" cy="458.30" r="0.90" fill="#7a5a8a"/>
<path d="M202.2,448.4 Q198.2,449.5 198.6,452.2 Q199.2,455.2 201.6,455.6" fill="none" stroke="#fde725" stroke-width="2.1" stroke-linecap="round"/>
<circle cx="194.30" cy="451.20" r="0.90" fill="#fde725"/>
<circle cx="205.60" cy="451.70" r="1.20" fill="#fde725"/>
<ellipse cx="68.3" cy="570.0" rx="3.6" ry="2.9" fill="#440154"/>
<circle cx="68.00" cy="571.40" r="1.00" fill="#8a5048"/>
<circle cx="110.70" cy="575.00" r="1.10" fill="#440154"/>
<circle cx="116.50" cy="568.90" r="1.30" fill="#440154"/>
<path d="M118.30,566.90 L118.57,566.61 L118.85,566.32 L119.12,566.03" fill="none" stroke="#440154" stroke-width="2.00" stroke-linecap="round" stroke-linejoin="round"/>
<path d="M119.12,566.03 L119.40,565.73 L119.67,565.44" fill="none" stroke="#440154" stroke-width="2.00" stroke-linecap="round" stroke-linejoin="round"/>
<path d="M122.16,562.84 L122.44,562.56 L122.72,562.28 L123.01,561.99" fill="none" stroke="#440154" stroke-width="2.00" stroke-linecap="round" stroke-linejoin="round"/>
<path d="M123.01,561.99 L123.29,561.71 L123.57,561.43 L123.85,561.14 L124.14,560.86" fill="none" stroke="#440154" stroke-width="2.00" stroke-linecap="round" stroke-linejoin="round"/>
<path d="M124.99,560.02 L125.28,559.74 L125.57,559.47 L125.87,559.20 L126.16,558.93" fill="none" stroke="#440154" stroke-width="2.00" stroke-linecap="round" stroke-linejoin="round"/>
<path d="M127.06,558.13 L127.36,557.86 L127.66,557.60" fill="none" stroke="#440154" stroke-width="2.00" stroke-linecap="round" stroke-linejoin="round"/>
<path d="M127.66,557.60 L127.96,557.34 L128.26,557.08" fill="none" stroke="#440154" stroke-width="2.00" stroke-linecap="round" stroke-linejoin="round"/>
<path d="M128.26,557.08 L128.56,556.81 L128.87,556.55" fill="none" stroke="#440154" stroke-width="2.00" stroke-linecap="round" stroke-linejoin="round"/>
<path d="M129.47,556.03 L129.78,555.77 L130.09,555.51" fill="none" stroke="#440154" stroke-width="2.00" stroke-linecap="round" stroke-linejoin="round"/>
<path d="M130.09,555.51 L130.39,555.26 L130.70,555.00 L131.01,554.75" fill="none" stroke="#440154" stroke-width="2.00" stroke-linecap="round" stroke-linejoin="round"/>
<path d="M131.01,554.75 L131.32,554.50 L131.63,554.25" fill="none" stroke="#440154" stroke-width="2.00" stroke-linecap="round" stroke-linejoin="round"/>
<path d="M133.23,553.04 L133.55,552.81 L133.88,552.58 L134.21,552.36 L134.55,552.14" fill="none" stroke="#440154" stroke-width="2.00" stroke-linecap="round" stroke-linejoin="round"/>
<path d="M135.92,551.31 L136.26,551.11 L136.61,550.91" fill="none" stroke="#440154" stroke-width="2.00" stroke-linecap="round" stroke-linejoin="round"/>
<path d="M136.61,550.91 L136.96,550.72 L137.31,550.52 L137.66,550.33 L138.01,550.14" fill="none" stroke="#440154" stroke-width="2.00" stroke-linecap="round" stroke-linejoin="round"/>
<path d="M140.14,549.02 L140.49,548.84 L140.85,548.65 L141.20,548.46" fill="none" stroke="#440154" stroke-width="2.00" stroke-linecap="round" stroke-linejoin="round"/>
<path d="M119.67,565.44 L119.94,565.15 L120.22,564.86 L120.49,564.57" fill="none" stroke="#fde725" stroke-width="1.80" stroke-linecap="butt" stroke-linejoin="round"/>
<path d="M120.49,564.57 L120.77,564.28 L121.05,563.99" fill="none" stroke="#fde725" stroke-width="1.80" stroke-linecap="butt" stroke-linejoin="round"/>
<path d="M121.05,563.99 L121.32,563.70 L121.60,563.42 L121.88,563.13 L122.16,562.84" fill="none" stroke="#fde725" stroke-width="1.80" stroke-linecap="butt" stroke-linejoin="round"/>
<path d="M124.14,560.86 L124.42,560.58 L124.71,560.30 L124.99,560.02" fill="none" stroke="#fde725" stroke-width="1.80" stroke-linecap="butt" stroke-linejoin="round"/>
<path d="M126.16,558.93 L126.46,558.66 L126.76,558.39" fill="none" stroke="#fde725" stroke-width="1.80" stroke-linecap="butt" stroke-linejoin="round"/>
<path d="M128.87,556.55 L129.17,556.29 L129.47,556.03" fill="none" stroke="#fde725" stroke-width="1.80" stroke-linecap="butt" stroke-linejoin="round"/>
<path d="M131.63,554.25 L131.95,554.00 L132.27,553.76 L132.58,553.52" fill="none" stroke="#fde725" stroke-width="1.80" stroke-linecap="butt" stroke-linejoin="round"/>
<path d="M132.58,553.52 L132.91,553.28 L133.23,553.04" fill="none" stroke="#fde725" stroke-width="1.80" stroke-linecap="butt" stroke-linejoin="round"/>
<path d="M134.55,552.14 L134.89,551.93 L135.23,551.72" fill="none" stroke="#fde725" stroke-width="1.80" stroke-linecap="butt" stroke-linejoin="round"/>
<path d="M135.23,551.72 L135.57,551.51 L135.92,551.31" fill="none" stroke="#fde725" stroke-width="1.80" stroke-linecap="butt" stroke-linejoin="round"/>
<path d="M138.01,550.14 L138.37,549.95 L138.72,549.77 L139.07,549.58" fill="none" stroke="#fde725" stroke-width="1.80" stroke-linecap="butt" stroke-linejoin="round"/>
<path d="M139.07,549.58 L139.43,549.39 L139.78,549.21" fill="none" stroke="#fde725" stroke-width="1.80" stroke-linecap="butt" stroke-linejoin="round"/>
<path d="M149.10,544.00 L149.48,543.87 L149.86,543.75 L150.24,543.62" fill="none" stroke="#440154" stroke-width="2.00" stroke-linecap="round" stroke-linejoin="round"/>
<path d="M150.24,543.62 L150.62,543.49 L150.99,543.36 L151.37,543.23" fill="none" stroke="#440154" stroke-width="2.00" stroke-linecap="round" stroke-linejoin="round"/>
<path d="M151.37,543.23 L151.75,543.10 L152.13,542.98" fill="none" stroke="#440154" stroke-width="2.00" stroke-linecap="round" stroke-linejoin="round"/>
<path d="M153.66,542.49 L154.04,542.38 L154.42,542.26" fill="none" stroke="#440154" stroke-width="2.00" stroke-linecap="round" stroke-linejoin="round"/>
<path d="M154.42,542.26 L154.81,542.16 L155.20,542.05" fill="none" stroke="#440154" stroke-width="2.00" stroke-linecap="round" stroke-linejoin="round"/>
<path d="M155.20,542.05 L155.58,541.96 L155.97,541.86 L156.36,541.77" fill="none" stroke="#440154" stroke-width="2.00" stroke-linecap="round" stroke-linejoin="round"/>
<path d="M156.36,541.77 L156.75,541.69 L157.14,541.61" fill="none" stroke="#440154" stroke-width="2.00" stroke-linecap="round" stroke-linejoin="round"/>
<path d="M158.32,541.38 L158.72,541.31 L159.11,541.24 L159.51,541.18" fill="none" stroke="#440154" stroke-width="2.00" stroke-linecap="round" stroke-linejoin="round"/>
<path d="M159.51,541.18 L159.90,541.11 L160.30,541.05 L160.69,540.99" fill="none" stroke="#440154" stroke-width="2.00" stroke-linecap="round" stroke-linejoin="round"/>
<path d="M161.88,540.82 L162.27,540.76 L162.67,540.71 L163.07,540.66 L163.46,540.61" fill="none" stroke="#440154" stroke-width="2.00" stroke-linecap="round" stroke-linejoin="round"/>
<path d="M164.26,540.51 L164.66,540.47 L165.05,540.43" fill="none" stroke="#440154" stroke-width="2.00" stroke-linecap="round" stroke-linejoin="round"/>
<path d="M168.25,540.20 L168.65,540.18 L169.05,540.17 L169.45,540.16 L169.84,540.15" fill="none" stroke="#440154" stroke-width="2.00" stroke-linecap="round" stroke-linejoin="round"/>
<path d="M173.04,540.15 L173.44,540.15 L173.84,540.16 L174.24,540.17 L174.64,540.19" fill="none" stroke="#440154" stroke-width="2.00" stroke-linecap="round" stroke-linejoin="round"/>
<path d="M175.84,540.23 L176.24,540.25 L176.64,540.27" fill="none" stroke="#440154" stroke-width="2.00" stroke-linecap="round" stroke-linejoin="round"/>
<path d="M176.64,540.27 L177.04,540.29 L177.44,540.32" fill="none" stroke="#440154" stroke-width="2.00" stroke-linecap="round" stroke-linejoin="round"/>
<path d="M177.84,540.35 L178.24,540.38 L178.64,540.42" fill="none" stroke="#440154" stroke-width="2.00" stroke-linecap="round" stroke-linejoin="round"/>
<path d="M178.64,540.42 L179.03,540.47 L179.43,540.51" fill="none" stroke="#440154" stroke-width="2.00" stroke-linecap="round" stroke-linejoin="round"/>
<path d="M179.43,540.51 L179.83,540.56 L180.23,540.61" fill="none" stroke="#440154" stroke-width="2.00" stroke-linecap="round" stroke-linejoin="round"/>
<path d="M180.23,540.61 L180.62,540.66 L181.02,540.72 L181.41,540.77" fill="none" stroke="#440154" stroke-width="2.00" stroke-linecap="round" stroke-linejoin="round"/>
<path d="M181.41,540.77 L181.81,540.82 L182.21,540.87" fill="none" stroke="#440154" stroke-width="2.00" stroke-linecap="round" stroke-linejoin="round"/>
<path d="M183.00,540.96 L183.40,541.01 L183.80,541.06" fill="none" stroke="#fde725" stroke-width="2.00" stroke-linecap="round" stroke-linejoin="round"/>
<path d="M188.16,541.64 L188.55,541.70 L188.95,541.76" fill="none" stroke="#fde725" stroke-width="2.00" stroke-linecap="round" stroke-linejoin="round"/>
<path d="M188.95,541.76 L189.34,541.82 L189.74,541.89 L190.13,541.96 L190.53,542.03" fill="none" stroke="#fde725" stroke-width="2.00" stroke-linecap="round" stroke-linejoin="round"/>
<path d="M192.10,542.34 L192.49,542.43 L192.88,542.52" fill="none" stroke="#fde725" stroke-width="2.00" stroke-linecap="round" stroke-linejoin="round"/>
<path d="M193.65,542.71 L194.04,542.82 L194.42,542.92 L194.81,543.03 L195.19,543.15" fill="none" stroke="#fde725" stroke-width="2.00" stroke-linecap="round" stroke-linejoin="round"/>
<path d="M198.23,544.14 L198.61,544.28 L198.99,544.41" fill="none" stroke="#fde725" stroke-width="2.00" stroke-linecap="round" stroke-linejoin="round"/>
<path d="M198.99,544.41 L199.36,544.55 L199.74,544.69" fill="none" stroke="#fde725" stroke-width="2.00" stroke-linecap="round" stroke-linejoin="round"/>
<path d="M199.74,544.69 L200.11,544.83 L200.49,544.97 L200.86,545.11" fill="none" stroke="#fde725" stroke-width="2.00" stroke-linecap="round" stroke-linejoin="round"/>
<path d="M202.35,545.69 L202.72,545.84 L203.09,545.98 L203.47,546.13 L203.84,546.28" fill="none" stroke="#fde725" stroke-width="2.00" stroke-linecap="round" stroke-linejoin="round"/>
<path d="M204.95,546.74 L205.32,546.89 L205.69,547.04 L206.06,547.20 L206.42,547.35" fill="none" stroke="#fde725" stroke-width="2.00" stroke-linecap="round" stroke-linejoin="round"/>
<path d="M207.53,547.83 L207.89,548.00 L208.25,548.17 L208.61,548.34 L208.97,548.52" fill="none" stroke="#fde725" stroke-width="2.00" stroke-linecap="round" stroke-linejoin="round"/>
<path d="M212.80,550.68 L213.14,550.89 L213.49,551.09 L213.83,551.30 L214.17,551.50" fill="none" stroke="#fde725" stroke-width="2.00" stroke-linecap="round" stroke-linejoin="round"/>
<path d="M214.17,551.50 L214.51,551.71 L214.85,551.93 L215.19,552.14 L215.53,552.36" fill="none" stroke="#fde725" stroke-width="2.00" stroke-linecap="round" stroke-linejoin="round"/>
<path d="M215.53,552.36 L215.86,552.57 L216.20,552.79 L216.53,553.01" fill="none" stroke="#fde725" stroke-width="2.00" stroke-linecap="round" stroke-linejoin="round"/>
<path d="M218.54,554.33 L218.87,554.55" fill="none" stroke="#fde725" stroke-width="2.00" stroke-linecap="round" stroke-linejoin="round"/>
<path d="M152.13,542.98 L152.51,542.85 L152.89,542.73 L153.27,542.61 L153.66,542.49" fill="none" stroke="#fde725" stroke-width="1.80" stroke-linecap="butt" stroke-linejoin="round"/>
<path d="M157.54,541.53 L157.93,541.45 L158.32,541.38" fill="none" stroke="#fde725" stroke-width="1.80" stroke-linecap="butt" stroke-linejoin="round"/>
<path d="M160.69,540.99 L161.09,540.93 L161.48,540.87 L161.88,540.82" fill="none" stroke="#fde725" stroke-width="1.80" stroke-linecap="butt" stroke-linejoin="round"/>
<path d="M163.46,540.61 L163.86,540.56 L164.26,540.51" fill="none" stroke="#fde725" stroke-width="1.80" stroke-linecap="butt" stroke-linejoin="round"/>
<path d="M165.05,540.43 L165.45,540.39 L165.85,540.36 L166.25,540.32 L166.65,540.29" fill="none" stroke="#fde725" stroke-width="1.80" stroke-linecap="butt" stroke-linejoin="round"/>
<path d="M166.65,540.29 L167.05,540.26 L167.45,540.24 L167.85,540.22 L168.25,540.20" fill="none" stroke="#fde725" stroke-width="1.80" stroke-linecap="butt" stroke-linejoin="round"/>
<path d="M169.84,540.15 L170.24,540.14 L170.64,540.14 L171.04,540.13" fill="none" stroke="#fde725" stroke-width="1.80" stroke-linecap="butt" stroke-linejoin="round"/>
<path d="M171.04,540.13 L171.44,540.13 L171.84,540.13 L172.24,540.13 L172.64,540.14" fill="none" stroke="#fde725" stroke-width="1.80" stroke-linecap="butt" stroke-linejoin="round"/>
<path d="M175.04,540.20 L175.44,540.22 L175.84,540.23" fill="none" stroke="#fde725" stroke-width="1.80" stroke-linecap="butt" stroke-linejoin="round"/>
<path d="M182.21,540.87 L182.61,540.91 L183.00,540.96" fill="none" stroke="#440154" stroke-width="1.80" stroke-linecap="butt" stroke-linejoin="round"/>
<path d="M184.19,541.11 L184.59,541.15 L184.99,541.20" fill="none" stroke="#440154" stroke-width="1.80" stroke-linecap="butt" stroke-linejoin="round"/>
<path d="M184.99,541.20 L185.39,541.25 L185.78,541.30 L186.18,541.36" fill="none" stroke="#440154" stroke-width="1.80" stroke-linecap="butt" stroke-linejoin="round"/>
<path d="M186.18,541.36 L186.57,541.41 L186.97,541.46 L187.37,541.52" fill="none" stroke="#440154" stroke-width="1.80" stroke-linecap="butt" stroke-linejoin="round"/>
<path d="M187.37,541.52 L187.76,541.58 L188.16,541.64" fill="none" stroke="#440154" stroke-width="1.80" stroke-linecap="butt" stroke-linejoin="round"/>
<path d="M190.53,542.03 L190.92,542.10 L191.31,542.18 L191.70,542.26 L192.10,542.34" fill="none" stroke="#440154" stroke-width="1.80" stroke-linecap="butt" stroke-linejoin="round"/>
<path d="M192.88,542.52 L193.26,542.62 L193.65,542.71" fill="none" stroke="#440154" stroke-width="1.80" stroke-linecap="butt" stroke-linejoin="round"/>
<path d="M195.19,543.15 L195.57,543.26 L195.96,543.38" fill="none" stroke="#440154" stroke-width="1.80" stroke-linecap="butt" stroke-linejoin="round"/>
<path d="M196.34,543.50 L196.72,543.63 L197.10,543.75 L197.48,543.88" fill="none" stroke="#440154" stroke-width="1.80" stroke-linecap="butt" stroke-linejoin="round"/>
<path d="M197.48,543.88 L197.85,544.01 L198.23,544.14" fill="none" stroke="#440154" stroke-width="1.80" stroke-linecap="butt" stroke-linejoin="round"/>
<path d="M200.86,545.11 L201.23,545.25 L201.61,545.40 L201.98,545.54 L202.35,545.69" fill="none" stroke="#440154" stroke-width="1.80" stroke-linecap="butt" stroke-linejoin="round"/>
<path d="M204.21,546.43 L204.58,546.59 L204.95,546.74" fill="none" stroke="#440154" stroke-width="1.80" stroke-linecap="butt" stroke-linejoin="round"/>
<path d="M206.42,547.35 L206.79,547.51 L207.16,547.67 L207.53,547.83" fill="none" stroke="#440154" stroke-width="1.80" stroke-linecap="butt" stroke-linejoin="round"/>
<path d="M208.97,548.52 L209.33,548.70 L209.68,548.89 L210.03,549.08 L210.38,549.27" fill="none" stroke="#440154" stroke-width="1.80" stroke-linecap="butt" stroke-linejoin="round"/>
<path d="M210.38,549.27 L210.73,549.47 L211.08,549.67 L211.42,549.87 L211.77,550.07" fill="none" stroke="#440154" stroke-width="1.80" stroke-linecap="butt" stroke-linejoin="round"/>
<path d="M211.77,550.07 L212.11,550.28 L212.45,550.48 L212.80,550.68" fill="none" stroke="#440154" stroke-width="1.80" stroke-linecap="butt" stroke-linejoin="round"/>
<path d="M216.53,553.01 L216.87,553.23 L217.20,553.45" fill="none" stroke="#440154" stroke-width="1.80" stroke-linecap="butt" stroke-linejoin="round"/>
<path d="M217.20,553.45 L217.54,553.67 L217.87,553.89 L218.20,554.11 L218.54,554.33" fill="none" stroke="#440154" stroke-width="1.80" stroke-linecap="butt" stroke-linejoin="round"/>
<circle cx="224.10" cy="558.00" r="1.20" fill="#fde725"/>
<circle cx="170.50" cy="593.90" r="3.60" fill="#fde725"/>
<circle cx="170.50" cy="591.90" r="1.00" fill="#6a3048"/>
<circle cx="168.90" cy="595.40" r="1.00" fill="#7a4030"/>
<path d="M416.50,489.20 L416.11,489.10 L415.72,489.00 L415.34,488.91 L414.95,488.81" fill="none" stroke="#440154" stroke-width="2.20" stroke-linecap="butt" stroke-linejoin="round"/>
<path d="M413.78,488.52 L413.40,488.42 L413.01,488.32 L412.62,488.22" fill="none" stroke="#440154" stroke-width="2.20" stroke-linecap="butt" stroke-linejoin="round"/>
<path d="M412.62,488.22 L412.24,488.12 L411.85,488.01 L411.46,487.91 L411.08,487.81 L410.69,487.70" fill="none" stroke="#440154" stroke-width="2.20" stroke-linecap="butt" stroke-linejoin="round"/>
<path d="M409.15,487.26 L408.77,487.16 L408.38,487.06" fill="none" stroke="#440154" stroke-width="2.20" stroke-linecap="butt" stroke-linejoin="round"/>
<path d="M400.39,483.48 L400.05,483.27 L399.71,483.05 L399.38,482.83" fill="none" stroke="#440154" stroke-width="2.20" stroke-linecap="butt" stroke-linejoin="round"/>
<path d="M395.67,479.79 L395.39,479.51 L395.12,479.22" fill="none" stroke="#440154" stroke-width="2.20" stroke-linecap="butt" stroke-linejoin="round"/>
<path d="M395.12,479.22 L394.84,478.92 L394.58,478.63 L394.31,478.33 L394.05,478.02 L393.79,477.72 L393.53,477.41 L393.28,477.11" fill="none" stroke="#440154" stroke-width="2.20" stroke-linecap="butt" stroke-linejoin="round"/>
<path d="M393.28,477.11 L393.02,476.80 L392.77,476.49 L392.52,476.18 L392.27,475.86" fill="none" stroke="#440154" stroke-width="2.20" stroke-linecap="butt" stroke-linejoin="round"/>
<path d="M391.52,474.92 L391.27,474.61 L391.02,474.30 L390.78,473.98 L390.53,473.67 L390.28,473.36" fill="none" stroke="#440154" stroke-width="2.20" stroke-linecap="butt" stroke-linejoin="round"/>
<path d="M390.28,473.36 L390.03,473.05 L389.78,472.73" fill="none" stroke="#440154" stroke-width="2.20" stroke-linecap="butt" stroke-linejoin="round"/>
<path d="M388.49,471.20 L388.23,470.90 L387.98,470.59 L387.72,470.28 L387.47,469.97" fill="none" stroke="#440154" stroke-width="2.20" stroke-linecap="butt" stroke-linejoin="round"/>
<path d="M387.21,469.66 L386.96,469.36 L386.70,469.05 L386.45,468.74" fill="none" stroke="#440154" stroke-width="2.20" stroke-linecap="butt" stroke-linejoin="round"/>
<path d="M386.19,468.43 L385.93,468.13 L385.67,467.82 L385.41,467.52 L385.15,467.22" fill="none" stroke="#440154" stroke-width="2.20" stroke-linecap="butt" stroke-linejoin="round"/>
<path d="M384.05,466.05 L383.77,465.77 L383.49,465.49 L383.20,465.21 L382.91,464.93 L382.62,464.65 L382.33,464.38 L382.04,464.11" fill="none" stroke="#440154" stroke-width="2.20" stroke-linecap="butt" stroke-linejoin="round"/>
<path d="M382.04,464.11 L381.74,463.84 L381.44,463.58 L381.13,463.32" fill="none" stroke="#440154" stroke-width="2.20" stroke-linecap="butt" stroke-linejoin="round"/>
<path d="M381.13,463.32 L380.83,463.07 L380.51,462.81 L380.20,462.57" fill="none" stroke="#440154" stroke-width="2.20" stroke-linecap="butt" stroke-linejoin="round"/>
<path d="M377.93,460.93 L377.60,460.71 L377.26,460.49 L376.92,460.27 L376.59,460.06 L376.25,459.85" fill="none" stroke="#440154" stroke-width="2.20" stroke-linecap="butt" stroke-linejoin="round"/>
<path d="M374.53,458.82 L374.18,458.62 L373.83,458.43 L373.48,458.24 L373.13,458.05 L372.77,457.87 L372.41,457.69" fill="none" stroke="#440154" stroke-width="2.20" stroke-linecap="butt" stroke-linejoin="round"/>
<path d="M372.41,457.69 L372.05,457.52 L371.69,457.36 L371.33,457.19" fill="none" stroke="#440154" stroke-width="2.20" stroke-linecap="butt" stroke-linejoin="round"/>
<path d="M364.73,456.02 L364.33,456.03 L363.93,456.05 L363.53,456.07 L363.13,456.10 L362.73,456.13" fill="none" stroke="#440154" stroke-width="2.20" stroke-linecap="butt" stroke-linejoin="round"/>
<path d="M362.73,456.13 L362.33,456.17 L361.93,456.21 L361.54,456.25" fill="none" stroke="#440154" stroke-width="2.20" stroke-linecap="butt" stroke-linejoin="round"/>
<path d="M361.54,456.25 L361.14,456.30 L360.74,456.36 L360.35,456.42 L359.95,456.48 L359.56,456.55" fill="none" stroke="#440154" stroke-width="2.20" stroke-linecap="butt" stroke-linejoin="round"/>
<path d="M359.16,456.62 L358.77,456.70 L358.38,456.79 L357.99,456.87 L357.60,456.97" fill="none" stroke="#440154" stroke-width="2.20" stroke-linecap="butt" stroke-linejoin="round"/>
<path d="M357.60,456.97 L357.22,457.07 L356.83,457.18 L356.45,457.29 L356.06,457.40 L355.68,457.52 L355.30,457.65 L354.92,457.78" fill="none" stroke="#440154" stroke-width="2.20" stroke-linecap="butt" stroke-linejoin="round"/>
<path d="M354.92,457.78 L354.54,457.91 L354.17,458.04 L353.79,458.18 L353.42,458.32 L353.04,458.46 L352.67,458.60 L352.30,458.75" fill="none" stroke="#440154" stroke-width="2.20" stroke-linecap="butt" stroke-linejoin="round"/>
<path d="M352.30,458.75 L351.93,458.90 L351.56,459.05 L351.19,459.20 L350.82,459.36" fill="none" stroke="#440154" stroke-width="2.20" stroke-linecap="butt" stroke-linejoin="round"/>
<path d="M350.82,459.36 L350.45,459.52 L350.08,459.68 L349.72,459.84 L349.36,460.01 L348.99,460.17 L348.63,460.34" fill="none" stroke="#440154" stroke-width="2.20" stroke-linecap="butt" stroke-linejoin="round"/>
<path d="M348.63,460.34 L348.27,460.51 L347.91,460.69 L347.55,460.86 L347.19,461.04" fill="none" stroke="#440154" stroke-width="2.20" stroke-linecap="butt" stroke-linejoin="round"/>
<path d="M347.19,461.04 L346.83,461.22 L346.47,461.40" fill="none" stroke="#440154" stroke-width="2.20" stroke-linecap="butt" stroke-linejoin="round"/>
<path d="M346.47,461.40 L346.12,461.58 L345.76,461.77 L345.41,461.96 L345.06,462.15 L344.71,462.34 L344.36,462.53" fill="none" stroke="#440154" stroke-width="2.20" stroke-linecap="butt" stroke-linejoin="round"/>
<path d="M344.36,462.53 L344.01,462.73 L343.66,462.92 L343.31,463.12 L342.97,463.32 L342.62,463.52" fill="none" stroke="#440154" stroke-width="2.20" stroke-linecap="butt" stroke-linejoin="round"/>
<path d="M342.62,463.52 L342.27,463.72 L341.93,463.92" fill="none" stroke="#440154" stroke-width="2.20" stroke-linecap="butt" stroke-linejoin="round"/>
<path d="M341.93,463.92 L341.58,464.12 L341.24,464.33 L340.89,464.53 L340.55,464.74 L340.21,464.94 L339.87,465.15 L339.52,465.36" fill="none" stroke="#440154" stroke-width="2.20" stroke-linecap="butt" stroke-linejoin="round"/>
<path d="M337.84,466.43 L337.50,466.65 L337.17,466.87 L336.84,467.09 L336.51,467.32 L336.18,467.55 L335.85,467.78" fill="none" stroke="#440154" stroke-width="2.20" stroke-linecap="butt" stroke-linejoin="round"/>
<path d="M335.85,467.78 L335.52,468.01 L335.20,468.25 L334.88,468.48 L334.56,468.72" fill="none" stroke="#440154" stroke-width="2.20" stroke-linecap="butt" stroke-linejoin="round"/>
<path d="M333.62,469.46 L333.31,469.72 L333.00,469.97 L332.69,470.23 L332.39,470.50 L332.09,470.76" fill="none" stroke="#440154" stroke-width="2.20" stroke-linecap="butt" stroke-linejoin="round"/>
<path d="M332.09,470.76 L331.80,471.03 L331.51,471.31 L331.22,471.58 L330.94,471.87 L330.65,472.15 L330.38,472.44 L330.10,472.73" fill="none" stroke="#440154" stroke-width="2.20" stroke-linecap="butt" stroke-linejoin="round"/>
<path d="M329.83,473.02 L329.56,473.32 L329.30,473.62 L329.03,473.92 L328.77,474.22" fill="none" stroke="#440154" stroke-width="2.20" stroke-linecap="butt" stroke-linejoin="round"/>
<path d="M328.77,474.22 L328.52,474.53 L328.26,474.84 L328.01,475.15 L327.76,475.46" fill="none" stroke="#440154" stroke-width="2.20" stroke-linecap="butt" stroke-linejoin="round"/>
<path d="M326.10,477.72 L325.87,478.04 L325.65,478.38 L325.43,478.71" fill="none" stroke="#440154" stroke-width="2.20" stroke-linecap="butt" stroke-linejoin="round"/>
<path d="M325.43,478.71 L325.21,479.04 L324.99,479.38 L324.78,479.72" fill="none" stroke="#440154" stroke-width="2.20" stroke-linecap="butt" stroke-linejoin="round"/>
<path d="M324.78,479.72 L324.57,480.06 L324.36,480.40 L324.15,480.74 L323.95,481.09 L323.75,481.43" fill="none" stroke="#440154" stroke-width="2.20" stroke-linecap="butt" stroke-linejoin="round"/>
<path d="M323.75,481.43 L323.55,481.78 L323.35,482.13 L323.16,482.48 L322.97,482.83 L322.78,483.18" fill="none" stroke="#440154" stroke-width="2.20" stroke-linecap="butt" stroke-linejoin="round"/>
<path d="M322.78,483.18 L322.59,483.54 L322.41,483.89 L322.23,484.25 L322.05,484.61" fill="none" stroke="#440154" stroke-width="2.20" stroke-linecap="butt" stroke-linejoin="round"/>
<path d="M322.05,484.61 L321.87,484.96 L321.70,485.32 L321.53,485.69" fill="none" stroke="#440154" stroke-width="2.20" stroke-linecap="butt" stroke-linejoin="round"/>
<path d="M321.53,485.69 L321.36,486.05 L321.20,486.41 L321.03,486.78 L320.88,487.15" fill="none" stroke="#440154" stroke-width="2.20" stroke-linecap="butt" stroke-linejoin="round"/>
<path d="M320.88,487.15 L320.72,487.52 L320.57,487.88 L320.41,488.25 L320.26,488.63 L320.12,489.00 L319.97,489.37 L319.83,489.74" fill="none" stroke="#440154" stroke-width="2.20" stroke-linecap="butt" stroke-linejoin="round"/>
<path d="M319.83,489.74 L319.69,490.12 L319.55,490.50 L319.42,490.87 L319.28,491.25" fill="none" stroke="#440154" stroke-width="2.20" stroke-linecap="butt" stroke-linejoin="round"/>
<path d="M319.28,491.25 L319.15,491.63 L319.03,492.01 L318.90,492.39 L318.78,492.77" fill="none" stroke="#440154" stroke-width="2.20" stroke-linecap="butt" stroke-linejoin="round"/>
<path d="M318.78,492.77 L318.65,493.15 L318.53,493.53 L318.42,493.91" fill="none" stroke="#440154" stroke-width="2.20" stroke-linecap="butt" stroke-linejoin="round"/>
<path d="M318.08,495.06 L317.98,495.45 L317.87,495.83 L317.77,496.22" fill="none" stroke="#440154" stroke-width="2.20" stroke-linecap="butt" stroke-linejoin="round"/>
<path d="M317.77,496.22 L317.67,496.61 L317.58,497.00 L317.48,497.39 L317.40,497.78" fill="none" stroke="#440154" stroke-width="2.20" stroke-linecap="butt" stroke-linejoin="round"/>
<path d="M317.08,499.35 L317.01,499.74 L316.95,500.13 L316.89,500.53 L316.83,500.93 L316.79,501.32 L316.74,501.72" fill="none" stroke="#440154" stroke-width="2.20" stroke-linecap="butt" stroke-linejoin="round"/>
<path d="M316.74,501.72 L316.71,502.12 L316.68,502.52 L316.65,502.92 L316.64,503.32" fill="none" stroke="#440154" stroke-width="2.20" stroke-linecap="butt" stroke-linejoin="round"/>
<path d="M316.64,503.32 L316.62,503.72 L316.62,504.12 L316.63,504.52 L316.64,504.92" fill="none" stroke="#440154" stroke-width="2.20" stroke-linecap="butt" stroke-linejoin="round"/>
<path d="M316.64,504.92 L316.65,505.32 L316.68,505.72 L316.71,506.11 L316.75,506.51" fill="none" stroke="#440154" stroke-width="2.20" stroke-linecap="butt" stroke-linejoin="round"/>
<path d="M316.80,506.91 L316.85,507.31 L316.91,507.70 L316.98,508.10" fill="none" stroke="#440154" stroke-width="2.20" stroke-linecap="butt" stroke-linejoin="round"/>
<path d="M316.98,508.10 L317.06,508.49 L317.13,508.88" fill="none" stroke="#440154" stroke-width="2.20" stroke-linecap="butt" stroke-linejoin="round"/>
<path d="M317.13,508.88 L317.22,509.27 L317.31,509.66 L317.40,510.05 L317.50,510.44 L317.60,510.83 L317.70,511.21" fill="none" stroke="#440154" stroke-width="2.20" stroke-linecap="butt" stroke-linejoin="round"/>
<path d="M318.16,512.75 L318.28,513.13 L318.40,513.51 L318.53,513.89 L318.66,514.26 L318.80,514.64 L318.94,515.02" fill="none" stroke="#440154" stroke-width="2.20" stroke-linecap="butt" stroke-linejoin="round"/>
<path d="M318.94,515.02 L319.08,515.39 L319.23,515.76" fill="none" stroke="#440154" stroke-width="2.20" stroke-linecap="butt" stroke-linejoin="round"/>
<path d="M319.38,516.13 L319.53,516.50 L319.69,516.87 L319.86,517.23" fill="none" stroke="#440154" stroke-width="2.20" stroke-linecap="butt" stroke-linejoin="round"/>
<path d="M319.86,517.23 L320.02,517.60 L320.20,517.96 L320.37,518.32" fill="none" stroke="#440154" stroke-width="2.20" stroke-linecap="butt" stroke-linejoin="round"/>
<path d="M320.37,518.32 L320.55,518.67 L320.74,519.03 L320.93,519.38 L321.13,519.72 L321.34,520.07 L321.55,520.41" fill="none" stroke="#440154" stroke-width="2.20" stroke-linecap="butt" stroke-linejoin="round"/>
<path d="M321.76,520.74 L321.99,521.07 L322.22,521.40 L322.46,521.72 L322.71,522.03 L322.97,522.34" fill="none" stroke="#440154" stroke-width="2.20" stroke-linecap="butt" stroke-linejoin="round"/>
<path d="M322.97,522.34 L323.24,522.63 L323.52,522.92 L323.81,523.20 L324.10,523.47 L324.41,523.72" fill="none" stroke="#440154" stroke-width="2.20" stroke-linecap="butt" stroke-linejoin="round"/>
<path d="M324.41,523.72 L324.72,523.97 L325.05,524.21 L325.38,524.43 L325.71,524.65 L326.05,524.86" fill="none" stroke="#440154" stroke-width="2.20" stroke-linecap="butt" stroke-linejoin="round"/>
<path d="M326.05,524.86 L326.40,525.05 L326.76,525.24 L327.12,525.42 L327.48,525.59" fill="none" stroke="#440154" stroke-width="2.20" stroke-linecap="butt" stroke-linejoin="round"/>
<path d="M327.48,525.59 L327.84,525.75 L328.21,525.91 L328.58,526.06 L328.95,526.21 L329.33,526.35 L329.70,526.49" fill="none" stroke="#440154" stroke-width="2.20" stroke-linecap="butt" stroke-linejoin="round"/>
<path d="M329.70,526.49 L330.08,526.62 L330.45,526.76 L330.83,526.89 L331.21,527.02" fill="none" stroke="#440154" stroke-width="2.20" stroke-linecap="butt" stroke-linejoin="round"/>
<path d="M331.21,527.02 L331.59,527.15 L331.97,527.27 L332.35,527.40 L332.73,527.53 L333.10,527.66 L333.48,527.79 L333.86,527.92" fill="none" stroke="#440154" stroke-width="2.20" stroke-linecap="butt" stroke-linejoin="round"/>
<path d="M333.86,527.92 L334.24,528.05 L334.62,528.17 L335.00,528.28 L335.39,528.40" fill="none" stroke="#440154" stroke-width="2.20" stroke-linecap="butt" stroke-linejoin="round"/>
<path d="M339.26,529.40 L339.65,529.49 L340.04,529.58 L340.43,529.67" fill="none" stroke="#440154" stroke-width="2.20" stroke-linecap="butt" stroke-linejoin="round"/>
<path d="M340.43,529.67 L340.82,529.75 L341.21,529.84 L341.60,529.93 L341.99,530.02 L342.38,530.10 L342.77,530.19 L343.16,530.28" fill="none" stroke="#440154" stroke-width="2.20" stroke-linecap="butt" stroke-linejoin="round"/>
<path d="M345.89,530.89 L346.28,530.98 L346.67,531.07 L347.06,531.17 L347.45,531.26 L347.84,531.36 L348.23,531.45 L348.62,531.55" fill="none" stroke="#440154" stroke-width="2.20" stroke-linecap="butt" stroke-linejoin="round"/>
<path d="M348.62,531.55 L349.00,531.65 L349.39,531.75 L349.78,531.85 L350.17,531.95 L350.55,532.05 L350.94,532.14" fill="none" stroke="#440154" stroke-width="2.20" stroke-linecap="butt" stroke-linejoin="round"/>
<path d="M350.94,532.14 L351.33,532.24 L351.72,532.33 L352.11,532.43 L352.50,532.52" fill="none" stroke="#440154" stroke-width="2.20" stroke-linecap="butt" stroke-linejoin="round"/>
<path d="M352.88,532.62 L353.27,532.71 L353.66,532.80 L354.05,532.90 L354.44,532.99 L354.83,533.09 L355.22,533.18 L355.60,533.28" fill="none" stroke="#440154" stroke-width="2.20" stroke-linecap="butt" stroke-linejoin="round"/>
<path d="M355.60,533.28 L355.99,533.38 L356.38,533.47 L356.77,533.57 L357.16,533.67 L357.54,533.77 L357.93,533.88 L358.32,533.98" fill="none" stroke="#440154" stroke-width="2.20" stroke-linecap="butt" stroke-linejoin="round"/>
<path d="M358.32,533.98 L358.70,534.09 L359.09,534.20 L359.47,534.30 L359.85,534.42 L360.24,534.53 L360.62,534.65 L361.00,534.77" fill="none" stroke="#440154" stroke-width="2.20" stroke-linecap="butt" stroke-linejoin="round"/>
<path d="M361.00,534.77 L361.38,534.89 L361.76,535.01" fill="none" stroke="#440154" stroke-width="2.20" stroke-linecap="butt" stroke-linejoin="round"/>
<path d="M361.76,535.01 L362.14,535.14 L362.52,535.27 L362.90,535.40 L363.27,535.54 L363.65,535.68 L364.02,535.82" fill="none" stroke="#440154" stroke-width="2.20" stroke-linecap="butt" stroke-linejoin="round"/>
<path d="M364.02,535.82 L364.39,535.97 L364.77,536.12 L365.14,536.27 L365.51,536.42" fill="none" stroke="#440154" stroke-width="2.20" stroke-linecap="butt" stroke-linejoin="round"/>
<path d="M365.51,536.42 L365.88,536.57 L366.24,536.73 L366.61,536.89 L366.98,537.05 L367.34,537.21 L367.71,537.37 L368.07,537.54" fill="none" stroke="#440154" stroke-width="2.20" stroke-linecap="butt" stroke-linejoin="round"/>
<path d="M368.44,537.71 L368.80,537.88 L369.16,538.05 L369.52,538.22 L369.88,538.40 L370.24,538.58" fill="none" stroke="#440154" stroke-width="2.20" stroke-linecap="butt" stroke-linejoin="round"/>
<path d="M370.24,538.58 L370.60,538.75 L370.95,538.94 L371.31,539.12 L371.66,539.30" fill="none" stroke="#440154" stroke-width="2.20" stroke-linecap="butt" stroke-linejoin="round"/>
<path d="M372.02,539.49 L372.37,539.68 L372.72,539.87 L373.07,540.06 L373.42,540.26 L373.77,540.45 L374.12,540.65 L374.46,540.85" fill="none" stroke="#440154" stroke-width="2.20" stroke-linecap="butt" stroke-linejoin="round"/>
<path d="M374.46,540.85 L374.81,541.06 L375.15,541.26 L375.49,541.47 L375.83,541.68" fill="none" stroke="#440154" stroke-width="2.20" stroke-linecap="butt" stroke-linejoin="round"/>
<path d="M375.83,541.68 L376.17,541.89 L376.51,542.11 L376.84,542.33 L377.17,542.55 L377.50,542.78" fill="none" stroke="#440154" stroke-width="2.20" stroke-linecap="butt" stroke-linejoin="round"/>
<path d="M377.50,542.78 L377.83,543.02 L378.15,543.25 L378.46,543.50 L378.77,543.75 L379.08,544.01" fill="none" stroke="#440154" stroke-width="2.20" stroke-linecap="butt" stroke-linejoin="round"/>
<path d="M379.08,544.01 L379.39,544.26 L379.69,544.53 L379.99,544.79 L380.28,545.06" fill="none" stroke="#440154" stroke-width="2.20" stroke-linecap="butt" stroke-linejoin="round"/>
<path d="M380.28,545.06 L380.57,545.34 L380.86,545.61 L381.15,545.89 L381.44,546.17" fill="none" stroke="#440154" stroke-width="2.20" stroke-linecap="butt" stroke-linejoin="round"/>
<path d="M381.44,546.17 L381.72,546.45 L382.01,546.73 L382.29,547.01" fill="none" stroke="#440154" stroke-width="2.20" stroke-linecap="butt" stroke-linejoin="round"/>
<path d="M382.29,547.01 L382.58,547.30 L382.86,547.58 L383.14,547.86 L383.43,548.14" fill="none" stroke="#440154" stroke-width="2.20" stroke-linecap="butt" stroke-linejoin="round"/>
<path d="M383.43,548.14 L383.72,548.41 L384.01,548.69 L384.30,548.96 L384.60,549.23 L384.90,549.49 L385.20,549.75 L385.51,550.01" fill="none" stroke="#440154" stroke-width="2.20" stroke-linecap="butt" stroke-linejoin="round"/>
<path d="M385.51,550.01 L385.82,550.26 L386.13,550.51 L386.44,550.76 L386.76,551.01 L387.07,551.26" fill="none" stroke="#440154" stroke-width="2.20" stroke-linecap="butt" stroke-linejoin="round"/>
<path d="M387.07,551.26 L387.38,551.51 L387.70,551.76 L388.01,552.00 L388.33,552.25 L388.65,552.49" fill="none" stroke="#440154" stroke-width="2.20" stroke-linecap="butt" stroke-linejoin="round"/>
<path d="M388.65,552.49 L388.97,552.73 L389.29,552.97 L389.61,553.21" fill="none" stroke="#440154" stroke-width="2.20" stroke-linecap="butt" stroke-linejoin="round"/>
<path d="M389.61,553.21 L389.93,553.45 L390.25,553.69 L390.57,553.92 L390.90,554.16 L391.22,554.39 L391.55,554.63 L391.87,554.86" fill="none" stroke="#440154" stroke-width="2.20" stroke-linecap="butt" stroke-linejoin="round"/>
<path d="M392.20,555.09 L392.52,555.32 L392.85,555.55 L393.18,555.78" fill="none" stroke="#440154" stroke-width="2.20" stroke-linecap="butt" stroke-linejoin="round"/>
<path d="M393.18,555.78 L393.50,556.01 L393.83,556.24 L394.16,556.47" fill="none" stroke="#440154" stroke-width="2.20" stroke-linecap="butt" stroke-linejoin="round"/>
<path d="M394.16,556.47 L394.49,556.70 L394.82,556.93 L395.15,557.16 L395.47,557.38 L395.80,557.61" fill="none" stroke="#440154" stroke-width="2.20" stroke-linecap="butt" stroke-linejoin="round"/>
<path d="M395.80,557.61 L396.13,557.84 L396.46,558.06 L396.79,558.29 L397.12,558.52" fill="none" stroke="#440154" stroke-width="2.20" stroke-linecap="butt" stroke-linejoin="round"/>
<path d="M397.12,558.52 L397.45,558.74 L397.79,558.97 L398.12,559.19 L398.45,559.41" fill="none" stroke="#440154" stroke-width="2.20" stroke-linecap="butt" stroke-linejoin="round"/>
<path d="M398.45,559.41 L398.78,559.64 L399.11,559.86 L399.44,560.08 L399.78,560.31 L400.11,560.53 L400.44,560.75" fill="none" stroke="#440154" stroke-width="2.20" stroke-linecap="butt" stroke-linejoin="round"/>
<path d="M400.44,560.75 L400.77,560.97 L401.11,561.20 L401.44,561.42 L401.77,561.64 L402.11,561.86 L402.44,562.08" fill="none" stroke="#440154" stroke-width="2.20" stroke-linecap="butt" stroke-linejoin="round"/>
<path d="M402.44,562.08 L402.78,562.30 L403.11,562.52 L403.45,562.73 L403.78,562.95 L404.12,563.17" fill="none" stroke="#440154" stroke-width="2.20" stroke-linecap="butt" stroke-linejoin="round"/>
<path d="M405.46,564.04 L405.80,564.25 L406.14,564.47 L406.47,564.68 L406.81,564.89 L407.15,565.11 L407.49,565.32" fill="none" stroke="#440154" stroke-width="2.20" stroke-linecap="butt" stroke-linejoin="round"/>
<path d="M407.49,565.32 L407.83,565.53 L408.17,565.74 L408.51,565.96 L408.85,566.17 L409.19,566.38 L409.53,566.59 L409.87,566.80" fill="none" stroke="#440154" stroke-width="2.20" stroke-linecap="butt" stroke-linejoin="round"/>
<path d="M409.87,566.80 L410.21,567.01 L410.55,567.22 L410.89,567.43 L411.23,567.64" fill="none" stroke="#440154" stroke-width="2.20" stroke-linecap="butt" stroke-linejoin="round"/>
<path d="M412.94,568.68 L413.28,568.89 L413.62,569.09 L413.97,569.29 L414.31,569.50" fill="none" stroke="#440154" stroke-width="2.20" stroke-linecap="butt" stroke-linejoin="round"/>
<path d="M414.66,569.70 L415.00,569.90 L415.35,570.10 L415.69,570.31 L416.04,570.50" fill="none" stroke="#440154" stroke-width="2.20" stroke-linecap="butt" stroke-linejoin="round"/>
<path d="M416.04,570.50 L416.39,570.70 L416.73,570.90 L417.08,571.10 L417.43,571.29 L417.78,571.49 L418.13,571.68 L418.48,571.87" fill="none" stroke="#440154" stroke-width="2.20" stroke-linecap="butt" stroke-linejoin="round"/>
<path d="M418.48,571.87 L418.83,572.06 L419.19,572.25 L419.54,572.44 L419.89,572.63 L420.24,572.82 L420.60,573.00" fill="none" stroke="#440154" stroke-width="2.20" stroke-linecap="butt" stroke-linejoin="round"/>
<path d="M420.60,573.00 L420.95,573.19 L421.31,573.37 L421.67,573.55 L422.03,573.73 L422.38,573.91" fill="none" stroke="#440154" stroke-width="2.20" stroke-linecap="butt" stroke-linejoin="round"/>
<path d="M422.74,574.09 L423.10,574.26 L423.46,574.44 L423.82,574.61 L424.18,574.78 L424.54,574.96 L424.90,575.13" fill="none" stroke="#440154" stroke-width="2.20" stroke-linecap="butt" stroke-linejoin="round"/>
<path d="M424.90,575.13 L425.26,575.30 L425.63,575.47 L425.99,575.64" fill="none" stroke="#440154" stroke-width="2.20" stroke-linecap="butt" stroke-linejoin="round"/>
<path d="M425.99,575.64 L426.35,575.81 L426.71,575.98 L427.07,576.15" fill="none" stroke="#440154" stroke-width="2.20" stroke-linecap="butt" stroke-linejoin="round"/>
<path d="M427.44,576.32 L427.80,576.49 L428.16,576.66 L428.53,576.82 L428.89,576.99 L429.25,577.16 L429.62,577.32" fill="none" stroke="#440154" stroke-width="2.20" stroke-linecap="butt" stroke-linejoin="round"/>
<path d="M429.62,577.32 L429.98,577.49 L430.34,577.66" fill="none" stroke="#440154" stroke-width="2.20" stroke-linecap="butt" stroke-linejoin="round"/>
<path d="M430.34,577.66 L430.71,577.82 L431.07,577.99 L431.44,578.15 L431.80,578.32" fill="none" stroke="#440154" stroke-width="2.20" stroke-linecap="butt" stroke-linejoin="round"/>
<path d="M431.80,578.32 L432.16,578.48 L432.53,578.65 L432.89,578.82 L433.26,578.98 L433.62,579.15" fill="none" stroke="#440154" stroke-width="2.20" stroke-linecap="butt" stroke-linejoin="round"/>
<path d="M433.62,579.15 L433.99,579.31 L434.35,579.48 L434.71,579.64 L435.08,579.81 L435.44,579.98" fill="none" stroke="#440154" stroke-width="2.20" stroke-linecap="butt" stroke-linejoin="round"/>
<path d="M414.95,488.81 L414.56,488.71 L414.17,488.61 L413.78,488.52" fill="none" stroke="#fde725" stroke-width="1.98" stroke-linecap="butt" stroke-linejoin="round"/>
<path d="M410.69,487.70 L410.31,487.59 L409.92,487.48 L409.54,487.37" fill="none" stroke="#fde725" stroke-width="1.98" stroke-linecap="butt" stroke-linejoin="round"/>
<path d="M407.99,486.96 L407.60,486.86 L407.22,486.75 L406.84,486.64 L406.45,486.52" fill="none" stroke="#fde725" stroke-width="1.98" stroke-linecap="butt" stroke-linejoin="round"/>
<path d="M406.45,486.52 L406.07,486.39 L405.70,486.25" fill="none" stroke="#fde725" stroke-width="1.98" stroke-linecap="butt" stroke-linejoin="round"/>
<path d="M405.70,486.25 L405.33,486.11 L404.96,485.95 L404.59,485.79 L404.23,485.61 L403.87,485.44" fill="none" stroke="#fde725" stroke-width="1.98" stroke-linecap="butt" stroke-linejoin="round"/>
<path d="M403.87,485.44 L403.52,485.25 L403.17,485.06 L402.81,484.88 L402.46,484.69 L402.11,484.49 L401.76,484.30 L401.41,484.10" fill="none" stroke="#fde725" stroke-width="1.98" stroke-linecap="butt" stroke-linejoin="round"/>
<path d="M401.41,484.10 L401.07,483.90 L400.73,483.69 L400.39,483.48" fill="none" stroke="#fde725" stroke-width="1.98" stroke-linecap="butt" stroke-linejoin="round"/>
<path d="M399.05,482.60 L398.72,482.37 L398.40,482.14 L398.08,481.90 L397.76,481.65 L397.45,481.40 L397.14,481.15" fill="none" stroke="#fde725" stroke-width="1.98" stroke-linecap="butt" stroke-linejoin="round"/>
<path d="M397.14,481.15 L396.84,480.89 L396.54,480.62 L396.24,480.35 L395.95,480.08 L395.67,479.79" fill="none" stroke="#fde725" stroke-width="1.98" stroke-linecap="butt" stroke-linejoin="round"/>
<path d="M392.27,475.86 L392.02,475.55 L391.77,475.24 L391.52,474.92" fill="none" stroke="#fde725" stroke-width="1.98" stroke-linecap="butt" stroke-linejoin="round"/>
<path d="M389.78,472.73 L389.52,472.42 L389.27,472.12 L389.01,471.81 L388.75,471.51 L388.49,471.20" fill="none" stroke="#fde725" stroke-width="1.98" stroke-linecap="butt" stroke-linejoin="round"/>
<path d="M384.88,466.93 L384.61,466.63 L384.33,466.34 L384.05,466.05" fill="none" stroke="#fde725" stroke-width="1.98" stroke-linecap="butt" stroke-linejoin="round"/>
<path d="M380.20,462.57 L379.88,462.32 L379.56,462.08" fill="none" stroke="#fde725" stroke-width="1.98" stroke-linecap="butt" stroke-linejoin="round"/>
<path d="M379.56,462.08 L379.24,461.85 L378.92,461.61 L378.59,461.38 L378.26,461.16" fill="none" stroke="#fde725" stroke-width="1.98" stroke-linecap="butt" stroke-linejoin="round"/>
<path d="M376.25,459.85 L375.91,459.64 L375.57,459.43 L375.22,459.22 L374.88,459.02 L374.53,458.82" fill="none" stroke="#fde725" stroke-width="1.98" stroke-linecap="butt" stroke-linejoin="round"/>
<path d="M371.33,457.19 L370.96,457.02 L370.60,456.85 L370.23,456.69 L369.86,456.54 L369.48,456.41" fill="none" stroke="#fde725" stroke-width="1.98" stroke-linecap="butt" stroke-linejoin="round"/>
<path d="M369.48,456.41 L369.10,456.30 L368.71,456.20 L368.32,456.13 L367.92,456.08 L367.52,456.04 L367.13,456.02" fill="none" stroke="#fde725" stroke-width="1.98" stroke-linecap="butt" stroke-linejoin="round"/>
<path d="M367.13,456.02 L366.73,456.00 L366.33,456.00 L365.93,456.00 L365.53,456.00 L365.13,456.01 L364.73,456.02" fill="none" stroke="#fde725" stroke-width="1.98" stroke-linecap="butt" stroke-linejoin="round"/>
<path d="M339.52,465.36 L339.18,465.57 L338.85,465.78 L338.51,466.00 L338.17,466.21 L337.84,466.43" fill="none" stroke="#fde725" stroke-width="1.98" stroke-linecap="butt" stroke-linejoin="round"/>
<path d="M334.56,468.72 L334.24,468.97 L333.93,469.21 L333.62,469.46" fill="none" stroke="#fde725" stroke-width="1.98" stroke-linecap="butt" stroke-linejoin="round"/>
<path d="M327.76,475.46 L327.52,475.78 L327.27,476.10 L327.03,476.42 L326.80,476.74 L326.56,477.06 L326.33,477.39 L326.10,477.72" fill="none" stroke="#fde725" stroke-width="1.98" stroke-linecap="butt" stroke-linejoin="round"/>
<path d="M318.42,493.91 L318.30,494.29 L318.19,494.68 L318.08,495.06" fill="none" stroke="#fde725" stroke-width="1.98" stroke-linecap="butt" stroke-linejoin="round"/>
<path d="M317.40,497.78 L317.31,498.17 L317.23,498.56 L317.15,498.95 L317.08,499.35" fill="none" stroke="#fde725" stroke-width="1.98" stroke-linecap="butt" stroke-linejoin="round"/>
<path d="M317.70,511.21 L317.81,511.60 L317.92,511.98 L318.04,512.36 L318.16,512.75" fill="none" stroke="#fde725" stroke-width="1.98" stroke-linecap="butt" stroke-linejoin="round"/>
<path d="M335.39,528.40 L335.77,528.51 L336.16,528.62 L336.54,528.72 L336.93,528.82 L337.32,528.92 L337.71,529.02" fill="none" stroke="#fde725" stroke-width="1.98" stroke-linecap="butt" stroke-linejoin="round"/>
<path d="M338.09,529.12 L338.48,529.21 L338.87,529.30" fill="none" stroke="#fde725" stroke-width="1.98" stroke-linecap="butt" stroke-linejoin="round"/>
<path d="M343.16,530.28 L343.55,530.36 L343.94,530.45 L344.33,530.54 L344.72,530.62 L345.11,530.71 L345.50,530.80 L345.89,530.89" fill="none" stroke="#fde725" stroke-width="1.98" stroke-linecap="butt" stroke-linejoin="round"/>
<path d="M404.12,563.17 L404.45,563.39 L404.79,563.60 L405.12,563.82 L405.46,564.04" fill="none" stroke="#fde725" stroke-width="1.98" stroke-linecap="butt" stroke-linejoin="round"/>
<path d="M411.23,567.64 L411.57,567.85 L411.91,568.06 L412.25,568.27 L412.59,568.47" fill="none" stroke="#fde725" stroke-width="1.98" stroke-linecap="butt" stroke-linejoin="round"/>
<path d="M434.20,457.30 L434.58,457.41 L434.97,457.52 L435.36,457.62" fill="none" stroke="#fde725" stroke-width="2.40" stroke-linecap="round" stroke-linejoin="round"/>
<path d="M435.36,457.62 L435.75,457.71 L436.13,457.81 L436.52,457.91 L436.91,458.01 L437.29,458.12 L437.68,458.22" fill="none" stroke="#fde725" stroke-width="2.40" stroke-linecap="round" stroke-linejoin="round"/>
<path d="M437.68,458.22 L438.06,458.33 L438.45,458.45 L438.83,458.57" fill="none" stroke="#fde725" stroke-width="2.40" stroke-linecap="round" stroke-linejoin="round"/>
<path d="M438.83,458.57 L439.21,458.69 L439.59,458.82 L439.96,458.96" fill="none" stroke="#fde725" stroke-width="2.40" stroke-linecap="round" stroke-linejoin="round"/>
<path d="M439.96,458.96 L440.34,459.10 L440.70,459.26 L441.07,459.42" fill="none" stroke="#fde725" stroke-width="2.40" stroke-linecap="round" stroke-linejoin="round"/>
<path d="M441.07,459.42 L441.43,459.60 L441.78,459.79 L442.12,459.99 L442.47,460.20 L442.81,460.41" fill="none" stroke="#fde725" stroke-width="2.40" stroke-linecap="round" stroke-linejoin="round"/>
<path d="M442.81,460.41 L443.14,460.63 L443.47,460.85 L443.80,461.08" fill="none" stroke="#fde725" stroke-width="2.40" stroke-linecap="round" stroke-linejoin="round"/>
<path d="M443.80,461.08 L444.12,461.32 L444.44,461.56 L444.76,461.80 L445.07,462.05 L445.38,462.31 L445.68,462.58" fill="none" stroke="#fde725" stroke-width="2.40" stroke-linecap="round" stroke-linejoin="round"/>
<path d="M445.68,462.58 L445.97,462.85 L446.26,463.12 L446.54,463.41 L446.82,463.70 L447.09,463.99 L447.35,464.30 L447.60,464.60" fill="none" stroke="#fde725" stroke-width="2.40" stroke-linecap="round" stroke-linejoin="round"/>
<path d="M447.60,464.60 L447.85,464.92 L448.09,465.24 L448.31,465.57 L448.53,465.90 L448.75,466.24 L448.95,466.59" fill="none" stroke="#fde725" stroke-width="2.40" stroke-linecap="round" stroke-linejoin="round"/>
<path d="M448.95,466.59 L449.14,466.94 L449.33,467.29 L449.51,467.65 L449.68,468.01 L449.85,468.37" fill="none" stroke="#fde725" stroke-width="2.40" stroke-linecap="round" stroke-linejoin="round"/>
<path d="M449.85,468.37 L450.01,468.74 L450.17,469.11 L450.32,469.48 L450.47,469.85" fill="none" stroke="#fde725" stroke-width="2.40" stroke-linecap="round" stroke-linejoin="round"/>
<path d="M450.47,469.85 L450.61,470.22 L450.75,470.60 L450.88,470.98 L451.02,471.35 L451.14,471.73 L451.27,472.11" fill="none" stroke="#fde725" stroke-width="2.40" stroke-linecap="round" stroke-linejoin="round"/>
<path d="M451.27,472.11 L451.40,472.49 L451.52,472.87 L451.64,473.25 L451.76,473.63 L451.88,474.02" fill="none" stroke="#fde725" stroke-width="2.40" stroke-linecap="round" stroke-linejoin="round"/>
<path d="M451.88,474.02 L452.00,474.40 L452.12,474.78 L452.23,475.16" fill="none" stroke="#fde725" stroke-width="2.40" stroke-linecap="round" stroke-linejoin="round"/>
<path d="M452.23,475.16 L452.34,475.55 L452.45,475.93 L452.56,476.32" fill="none" stroke="#fde725" stroke-width="2.40" stroke-linecap="round" stroke-linejoin="round"/>
<path d="M452.56,476.32 L452.66,476.70 L452.77,477.09 L452.87,477.48" fill="none" stroke="#fde725" stroke-width="2.40" stroke-linecap="round" stroke-linejoin="round"/>
<path d="M452.87,477.48 L452.96,477.86 L453.06,478.25 L453.16,478.64 L453.25,479.03" fill="none" stroke="#fde725" stroke-width="2.40" stroke-linecap="round" stroke-linejoin="round"/>
<path d="M453.25,479.03 L453.34,479.42 L453.42,479.81 L453.51,480.20" fill="none" stroke="#fde725" stroke-width="2.40" stroke-linecap="round" stroke-linejoin="round"/>
<path d="M453.51,480.20 L453.59,480.59 L453.67,480.98 L453.75,481.38 L453.83,481.77" fill="none" stroke="#fde725" stroke-width="2.40" stroke-linecap="round" stroke-linejoin="round"/>
<path d="M453.83,481.77 L453.91,482.16 L453.98,482.56 L454.05,482.95 L454.12,483.34 L454.19,483.74 L454.25,484.13 L454.31,484.53" fill="none" stroke="#fde725" stroke-width="2.40" stroke-linecap="round" stroke-linejoin="round"/>
<path d="M454.31,484.53 L454.37,484.92 L454.43,485.32 L454.49,485.71 L454.54,486.11 L454.59,486.51 L454.63,486.91 L454.67,487.30" fill="none" stroke="#fde725" stroke-width="2.40" stroke-linecap="round" stroke-linejoin="round"/>
<path d="M454.67,487.30 L454.71,487.70 L454.74,488.10 L454.77,488.50 L454.80,488.90 L454.83,489.30 L454.85,489.70" fill="none" stroke="#fde725" stroke-width="2.40" stroke-linecap="round" stroke-linejoin="round"/>
<path d="M454.85,489.70 L454.87,490.10 L454.89,490.50 L454.90,490.90" fill="none" stroke="#fde725" stroke-width="2.40" stroke-linecap="round" stroke-linejoin="round"/>
<path d="M454.90,490.90 L454.92,491.30 L454.94,491.70 L454.95,492.10 L454.97,492.49 L454.98,492.89 L454.99,493.29" fill="none" stroke="#fde725" stroke-width="2.40" stroke-linecap="round" stroke-linejoin="round"/>
<path d="M454.99,493.29 L455.01,493.69 L455.03,494.09 L455.04,494.49 L455.06,494.89 L455.08,495.29 L455.10,495.69" fill="none" stroke="#fde725" stroke-width="2.40" stroke-linecap="round" stroke-linejoin="round"/>
<path d="M455.17,496.89 L455.20,497.29 L455.23,497.69 L455.26,498.09 L455.30,498.48 L455.33,498.88 L455.37,499.28" fill="none" stroke="#fde725" stroke-width="2.40" stroke-linecap="round" stroke-linejoin="round"/>
<path d="M455.37,499.28 L455.40,499.68 L455.43,500.08 L455.46,500.48 L455.48,500.88 L455.51,501.28" fill="none" stroke="#fde725" stroke-width="2.40" stroke-linecap="round" stroke-linejoin="round"/>
<path d="M455.51,501.28 L455.54,501.68 L455.56,502.07 L455.59,502.47 L455.61,502.87 L455.64,503.27 L455.66,503.67" fill="none" stroke="#fde725" stroke-width="2.40" stroke-linecap="round" stroke-linejoin="round"/>
<path d="M455.66,503.67 L455.69,504.07 L455.72,504.47 L455.75,504.87" fill="none" stroke="#fde725" stroke-width="2.40" stroke-linecap="round" stroke-linejoin="round"/>
<path d="M455.75,504.87 L455.77,505.27 L455.80,505.67 L455.84,506.07" fill="none" stroke="#fde725" stroke-width="2.40" stroke-linecap="round" stroke-linejoin="round"/>
<path d="M455.84,506.07 L455.87,506.46 L455.90,506.86 L455.94,507.26 L455.98,507.66 L456.02,508.06" fill="none" stroke="#fde725" stroke-width="2.40" stroke-linecap="round" stroke-linejoin="round"/>
<path d="M456.07,508.45 L456.11,508.85 L456.16,509.25 L456.22,509.64 L456.27,510.04" fill="none" stroke="#fde725" stroke-width="2.40" stroke-linecap="round" stroke-linejoin="round"/>
<path d="M456.34,510.44 L456.40,510.83 L456.47,511.22 L456.55,511.62" fill="none" stroke="#fde725" stroke-width="2.40" stroke-linecap="round" stroke-linejoin="round"/>
<path d="M456.55,511.62 L456.63,512.01 L456.72,512.40 L456.81,512.79 L456.92,513.17 L457.03,513.56" fill="none" stroke="#fde725" stroke-width="2.40" stroke-linecap="round" stroke-linejoin="round"/>
<path d="M457.03,513.56 L457.15,513.94 L457.27,514.32 L457.40,514.70 L457.54,515.07" fill="none" stroke="#fde725" stroke-width="2.40" stroke-linecap="round" stroke-linejoin="round"/>
<path d="M458.32,516.91 L458.50,517.27 L458.68,517.63 L458.86,517.98 L459.05,518.34" fill="none" stroke="#fde725" stroke-width="2.40" stroke-linecap="round" stroke-linejoin="round"/>
<path d="M459.05,518.34 L459.25,518.68 L459.46,519.03" fill="none" stroke="#fde725" stroke-width="2.40" stroke-linecap="round" stroke-linejoin="round"/>
<path d="M459.46,519.03 L459.67,519.37 L459.88,519.70 L460.10,520.04 L460.33,520.37 L460.56,520.69 L460.80,521.02" fill="none" stroke="#fde725" stroke-width="2.40" stroke-linecap="round" stroke-linejoin="round"/>
<path d="M460.80,521.02 L461.04,521.33 L461.29,521.65 L461.54,521.96 L461.80,522.26 L462.06,522.57 L462.32,522.87" fill="none" stroke="#fde725" stroke-width="2.40" stroke-linecap="round" stroke-linejoin="round"/>
<path d="M462.32,522.87 L462.59,523.16 L462.87,523.45 L463.15,523.74 L463.43,524.03" fill="none" stroke="#fde725" stroke-width="2.40" stroke-linecap="round" stroke-linejoin="round"/>
<path d="M463.43,524.03 L463.71,524.31 L464.00,524.58 L464.30,524.85" fill="none" stroke="#fde725" stroke-width="2.40" stroke-linecap="round" stroke-linejoin="round"/>
<path d="M464.60,525.12 L464.90,525.38 L465.21,525.63" fill="none" stroke="#fde725" stroke-width="2.40" stroke-linecap="round" stroke-linejoin="round"/>
<path d="M465.21,525.63 L465.52,525.89 L465.83,526.13" fill="none" stroke="#fde725" stroke-width="2.40" stroke-linecap="round" stroke-linejoin="round"/>
<path d="M465.83,526.13 L466.15,526.38 L466.47,526.62 L466.79,526.85 L467.12,527.08" fill="none" stroke="#fde725" stroke-width="2.40" stroke-linecap="round" stroke-linejoin="round"/>
<path d="M467.12,527.08 L467.45,527.31 L467.78,527.53 L468.12,527.74" fill="none" stroke="#fde725" stroke-width="2.40" stroke-linecap="round" stroke-linejoin="round"/>
<path d="M468.12,527.74 L468.46,527.96 L468.80,528.16 L469.15,528.36 L469.50,528.56 L469.85,528.75 L470.20,528.94" fill="none" stroke="#fde725" stroke-width="2.40" stroke-linecap="round" stroke-linejoin="round"/>
<path d="M470.20,528.94 L470.56,529.12 L470.92,529.29 L471.28,529.46" fill="none" stroke="#fde725" stroke-width="2.40" stroke-linecap="round" stroke-linejoin="round"/>
<path d="M471.28,529.46 L471.65,529.61 L472.02,529.77" fill="none" stroke="#fde725" stroke-width="2.40" stroke-linecap="round" stroke-linejoin="round"/>
<path d="M473.54,530.28 L473.92,530.38 L474.31,530.47" fill="none" stroke="#fde725" stroke-width="2.40" stroke-linecap="round" stroke-linejoin="round"/>
<path d="M474.31,530.47 L474.71,530.55 L475.10,530.61 L475.50,530.66 L475.89,530.70 L476.29,530.74 L476.69,530.76" fill="none" stroke="#fde725" stroke-width="2.40" stroke-linecap="round" stroke-linejoin="round"/>
<path d="M476.69,530.76 L477.09,530.76 L477.49,530.76 L477.89,530.76 L478.29,530.74 L478.69,530.71" fill="none" stroke="#fde725" stroke-width="2.40" stroke-linecap="round" stroke-linejoin="round"/>
<path d="M479.09,530.67 L479.49,530.63 L479.88,530.57 L480.28,530.51 L480.67,530.44 L481.06,530.36 L481.46,530.28" fill="none" stroke="#fde725" stroke-width="2.40" stroke-linecap="round" stroke-linejoin="round"/>
<path d="M481.46,530.28 L481.84,530.19 L482.23,530.08 L482.62,529.98 L483.00,529.86" fill="none" stroke="#fde725" stroke-width="2.40" stroke-linecap="round" stroke-linejoin="round"/>
<path d="M483.00,529.86 L483.38,529.74 L483.76,529.61 L484.13,529.47" fill="none" stroke="#fde725" stroke-width="2.40" stroke-linecap="round" stroke-linejoin="round"/>
<path d="M484.13,529.47 L484.50,529.32 L484.87,529.16 L485.23,528.98 L485.58,528.79 L485.93,528.60 L486.27,528.39 L486.61,528.18" fill="none" stroke="#fde725" stroke-width="2.40" stroke-linecap="round" stroke-linejoin="round"/>
<path d="M486.61,528.18 L486.94,527.95 L487.27,527.72 L487.59,527.49 L487.91,527.24" fill="none" stroke="#fde725" stroke-width="2.40" stroke-linecap="round" stroke-linejoin="round"/>
<path d="M489.72,525.67 L490.01,525.40 L490.30,525.12 L490.58,524.84" fill="none" stroke="#fde725" stroke-width="2.40" stroke-linecap="round" stroke-linejoin="round"/>
<path d="M490.58,524.84 L490.86,524.55 L491.14,524.27 L491.42,523.98 L491.70,523.69 L491.97,523.39" fill="none" stroke="#fde725" stroke-width="2.40" stroke-linecap="round" stroke-linejoin="round"/>
<path d="M491.97,523.39 L492.23,523.10 L492.50,522.80 L492.76,522.49" fill="none" stroke="#fde725" stroke-width="2.40" stroke-linecap="round" stroke-linejoin="round"/>
<path d="M493.02,522.19 L493.27,521.87 L493.52,521.56 L493.76,521.24 L494.00,520.92 L494.23,520.59 L494.45,520.27" fill="none" stroke="#fde725" stroke-width="2.40" stroke-linecap="round" stroke-linejoin="round"/>
<path d="M495.68,518.20 L495.85,517.84 L496.02,517.48 L496.18,517.11 L496.33,516.74" fill="none" stroke="#fde725" stroke-width="2.40" stroke-linecap="round" stroke-linejoin="round"/>
<path d="M496.33,516.74 L496.47,516.37 L496.61,515.99 L496.73,515.61 L496.84,515.23 L496.95,514.84 L497.05,514.45" fill="none" stroke="#fde725" stroke-width="2.40" stroke-linecap="round" stroke-linejoin="round"/>
<path d="M497.05,514.45 L497.14,514.06 L497.23,513.67 L497.31,513.28" fill="none" stroke="#fde725" stroke-width="2.40" stroke-linecap="round" stroke-linejoin="round"/>
<path d="M497.31,513.28 L497.38,512.89 L497.45,512.50 L497.51,512.10 L497.57,511.70" fill="none" stroke="#fde725" stroke-width="2.40" stroke-linecap="round" stroke-linejoin="round"/>
<path d="M497.57,511.70 L497.62,511.31 L497.67,510.91 L497.71,510.51 L497.75,510.11" fill="none" stroke="#fde725" stroke-width="2.40" stroke-linecap="round" stroke-linejoin="round"/>
<path d="M497.76,505.72 L497.71,505.32 L497.66,504.93 L497.59,504.53 L497.52,504.14 L497.44,503.75 L497.34,503.36 L497.24,502.97" fill="none" stroke="#fde725" stroke-width="2.40" stroke-linecap="round" stroke-linejoin="round"/>
<path d="M497.24,502.97 L497.13,502.59 L497.01,502.21 L496.88,501.83" fill="none" stroke="#fde725" stroke-width="2.40" stroke-linecap="round" stroke-linejoin="round"/>
<path d="M496.88,501.83 L496.74,501.45 L496.59,501.08 L496.43,500.72 L496.26,500.35 L496.09,499.99" fill="none" stroke="#fde725" stroke-width="2.40" stroke-linecap="round" stroke-linejoin="round"/>
<path d="M496.09,499.99 L495.90,499.64 L495.70,499.29 L495.49,498.95 L495.28,498.62" fill="none" stroke="#fde725" stroke-width="2.40" stroke-linecap="round" stroke-linejoin="round"/>
<path d="M495.28,498.62 L495.04,498.29 L494.79,497.98" fill="none" stroke="#fde725" stroke-width="2.40" stroke-linecap="round" stroke-linejoin="round"/>
<path d="M494.79,497.98 L494.53,497.68 L494.24,497.40 L493.95,497.13" fill="none" stroke="#fde725" stroke-width="2.40" stroke-linecap="round" stroke-linejoin="round"/>
<path d="M493.95,497.13 L493.65,496.86 L493.34,496.61 L493.02,496.36 L492.70,496.12 L492.38,495.89 L492.05,495.66" fill="none" stroke="#fde725" stroke-width="2.40" stroke-linecap="round" stroke-linejoin="round"/>
<path d="M492.05,495.66 L491.72,495.44 L491.39,495.22 L491.05,495.00 L490.72,494.78 L490.38,494.56 L490.04,494.35" fill="none" stroke="#fde725" stroke-width="2.40" stroke-linecap="round" stroke-linejoin="round"/>
<path d="M490.04,494.35 L489.71,494.12" fill="none" stroke="#fde725" stroke-width="2.40" stroke-linecap="round" stroke-linejoin="round"/>
<path d="M455.10,495.69 L455.12,496.09 L455.15,496.49 L455.17,496.89" fill="none" stroke="#440154" stroke-width="2.16" stroke-linecap="butt" stroke-linejoin="round"/>
<path d="M457.69,515.45 L457.84,515.82 L457.99,516.18 L458.15,516.55 L458.32,516.91" fill="none" stroke="#440154" stroke-width="2.16" stroke-linecap="butt" stroke-linejoin="round"/>
<path d="M472.02,529.77 L472.40,529.91 L472.77,530.04 L473.15,530.17 L473.54,530.28" fill="none" stroke="#440154" stroke-width="2.16" stroke-linecap="butt" stroke-linejoin="round"/>
<path d="M487.91,527.24 L488.22,526.99 L488.53,526.74 L488.83,526.48 L489.14,526.22 L489.43,525.95 L489.72,525.67" fill="none" stroke="#440154" stroke-width="2.16" stroke-linecap="butt" stroke-linejoin="round"/>
<path d="M494.45,520.27 L494.68,519.93 L494.89,519.59 L495.10,519.25 L495.30,518.90 L495.49,518.55 L495.68,518.20" fill="none" stroke="#440154" stroke-width="2.16" stroke-linecap="butt" stroke-linejoin="round"/>
<path d="M497.78,509.72 L497.81,509.32 L497.83,508.92 L497.84,508.52 L497.85,508.12" fill="none" stroke="#440154" stroke-width="2.16" stroke-linecap="butt" stroke-linejoin="round"/>
<path d="M497.85,508.12 L497.85,507.72 L497.85,507.32 L497.84,506.92 L497.82,506.52 L497.79,506.12 L497.76,505.72" fill="none" stroke="#440154" stroke-width="2.16" stroke-linecap="butt" stroke-linejoin="round"/>
<path d="M414.6,511.8 Q415.8,520 416.3,527.8" fill="none" stroke="#fde725" stroke-width="2.3" stroke-linecap="round"/>
<path d="M416.9,532.0 Q417.6,538 417.1,544.5" fill="none" stroke="#fde725" stroke-width="2.3" stroke-linecap="round"/>
<circle cx="414.80" cy="513.30" r="1.50" fill="#fde725"/>
<circle cx="417.30" cy="536.50" r="1.40" fill="#fde725"/>
<circle cx="417.00" cy="542.50" r="1.30" fill="#fde725"/>
<path d="M340.60,588.00 L340.82,588.30 L341.10,588.70 L341.43,589.18 L341.80,589.71 L342.21,590.27 L342.64,590.86 L343.09,591.43 L343.54,591.99 L344.00,592.50 L344.42,592.94 L344.86,593.38 L345.32,593.82 L345.80,594.25 L346.29,594.69 L346.78,595.11 L347.29,595.53 L347.79,595.94 L348.30,596.33 L348.80,596.70 L349.29,597.06 L349.78,597.40 L350.26,597.74 L350.74,598.06 L351.23,598.38 L351.74,598.68 L352.26,598.97 L352.81,599.26 L353.39,599.53 L354.00,599.80 L354.49,600.00 L355.00,600.20 L355.52,600.39 L356.05,600.58 L356.59,600.77 L357.15,600.94 L357.73,601.12 L358.31,601.28 L358.92,601.44 L359.54,601.59 L360.17,601.74 L360.83,601.87 L361.50,602.00 L362.03,602.10 L362.58,602.20 L363.14,602.30 L363.71,602.40 L364.30,602.50 L364.90,602.60 L365.51,602.70 L366.12,602.78 L366.74,602.86 L367.37,602.93 L367.99,602.99 L368.62,603.04 L369.24,603.07 L369.87,603.08 L370.48,603.07 L371.10,603.05 L371.70,603.00 L372.31,602.93 L372.93,602.83 L373.55,602.72 L374.19,602.58 L374.83,602.43 L375.47,602.26 L376.10,602.07 L376.74,601.88 L377.37,601.68 L377.99,601.47 L378.60,601.26 L379.20,601.04 L379.78,600.82 L380.35,600.61 L380.89,600.40 L381.41,600.20 L381.90,600.00 L382.61,599.70 L383.27,599.40 L383.88,599.10 L384.45,598.79 L385.00,598.48 L385.51,598.17 L386.01,597.85 L386.50,597.52 L387.00,597.19 L387.49,596.85 L388.00,596.50 L388.53,596.13 L389.08,595.72 L389.65,595.29 L390.21,594.85 L390.76,594.40 L391.29,593.96 L391.80,593.55 L392.26,593.16 L392.67,592.82 L393.02,592.53 L393.30,592.30" fill="none" stroke="#fde725" stroke-width="2.2" stroke-linecap="round"/>
<circle cx="348.50" cy="594.50" r="0.90" fill="#a08030"/>
<circle cx="352.20" cy="597.00" r="0.90" fill="#7a6a3a"/>
<text x="41.40" y="208.62" class="cap" textLength="181.62" lengthAdjust="spacingAndGlyphs">(<tspan font-weight="bold">a</tspan>) H-QNN: Car vs. Bike.</text>
<text x="325.00" y="208.62" class="cap" textLength="163.03" lengthAdjust="spacingAndGlyphs">(<tspan font-weight="bold">d</tspan>) CNN: Car vs. Bike.</text>
<text x="21.40" y="417.77" class="cap" textLength="229.82" lengthAdjust="spacingAndGlyphs">(<tspan font-weight="bold">b</tspan>) H-QNN: Football vs. Rugby.</text>
<text x="310.60" y="417.77" class="cap" textLength="208.23" lengthAdjust="spacingAndGlyphs">(<tspan font-weight="bold">e</tspan>) CNN: Football vs. Rugby.</text>
<text x="25.60" y="641.38" class="cap" textLength="218.81" lengthAdjust="spacingAndGlyphs">(<tspan font-weight="bold">c</tspan>) H-QNN: Dump vs. Recycle</text>
<text x="114.20" y="660.38" class="cap" textLength="45.85" lengthAdjust="spacingAndGlyphs">Waste.</text>
<text x="285.60" y="649.54" class="cap" textLength="250.43" lengthAdjust="spacingAndGlyphs">(<tspan font-weight="bold">f</tspan>) CNN: Dump vs. Recycle Waste.</text>
</svg></body></html>
